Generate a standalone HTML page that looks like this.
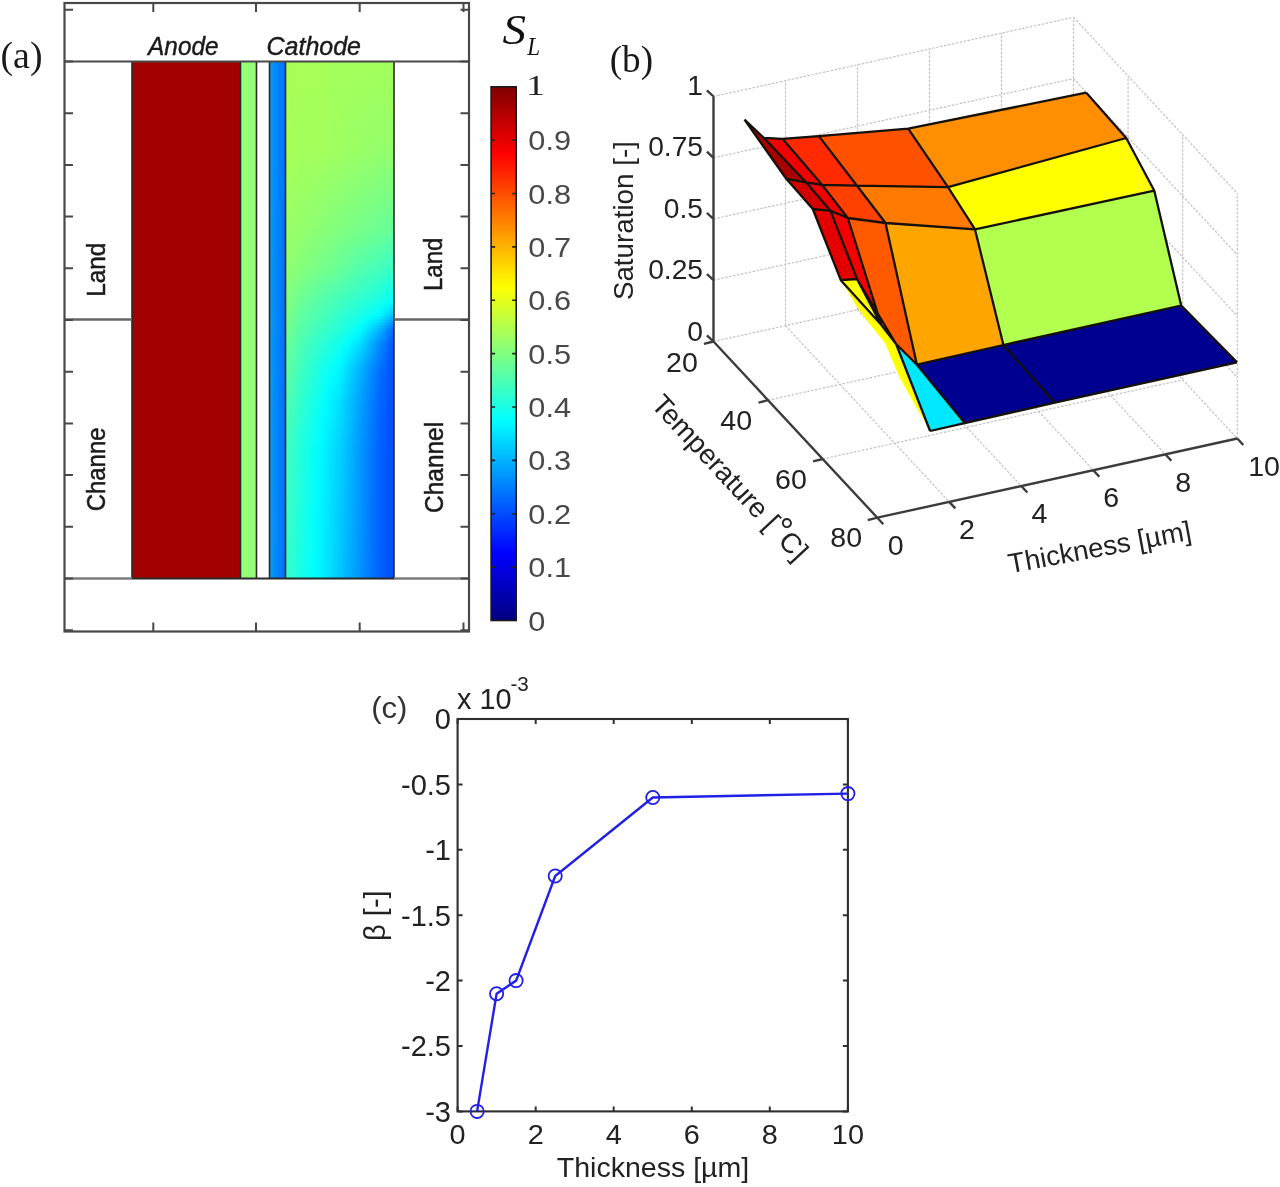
<!DOCTYPE html><html><head><meta charset="utf-8"><title>Figure</title><style>html,body{margin:0;padding:0;background:#fff;}svg{display:block;}</style></head><body><svg width="1280" height="1187" viewBox="0 0 1280 1187"><defs><linearGradient id="gblue" x1="0" x2="1" y1="0" y2="0"><stop offset="0" stop-color="#0a9cf2"/><stop offset="0.6" stop-color="#0080ff"/><stop offset="1" stop-color="#0070ff"/></linearGradient><linearGradient id="r0"><stop offset="0.000" stop-color="#a8ff57"/><stop offset="0.062" stop-color="#a8ff57"/><stop offset="0.125" stop-color="#a8ff57"/><stop offset="0.188" stop-color="#a8ff57"/><stop offset="0.250" stop-color="#a8ff57"/><stop offset="0.312" stop-color="#a8ff57"/><stop offset="0.375" stop-color="#a7ff58"/><stop offset="0.438" stop-color="#a5ff5a"/><stop offset="0.500" stop-color="#a3ff5c"/><stop offset="0.562" stop-color="#a3ff5c"/><stop offset="0.625" stop-color="#a3ff5c"/><stop offset="0.688" stop-color="#a3ff5c"/><stop offset="0.750" stop-color="#a3ff5c"/><stop offset="0.812" stop-color="#a3ff5c"/><stop offset="0.875" stop-color="#a3ff5c"/><stop offset="0.938" stop-color="#a3ff5c"/><stop offset="1.000" stop-color="#a3ff5c"/></linearGradient><linearGradient id="r1"><stop offset="0.000" stop-color="#a8ff57"/><stop offset="0.062" stop-color="#a8ff57"/><stop offset="0.125" stop-color="#a8ff57"/><stop offset="0.188" stop-color="#a8ff57"/><stop offset="0.250" stop-color="#a8ff57"/><stop offset="0.312" stop-color="#a8ff57"/><stop offset="0.375" stop-color="#a6ff59"/><stop offset="0.438" stop-color="#a5ff5a"/><stop offset="0.500" stop-color="#a3ff5c"/><stop offset="0.562" stop-color="#a3ff5c"/><stop offset="0.625" stop-color="#a3ff5c"/><stop offset="0.688" stop-color="#a3ff5c"/><stop offset="0.750" stop-color="#a3ff5c"/><stop offset="0.812" stop-color="#a3ff5c"/><stop offset="0.875" stop-color="#a3ff5c"/><stop offset="0.938" stop-color="#a3ff5c"/><stop offset="1.000" stop-color="#a3ff5c"/></linearGradient><linearGradient id="r2"><stop offset="0.000" stop-color="#a8ff57"/><stop offset="0.062" stop-color="#a8ff57"/><stop offset="0.125" stop-color="#a8ff57"/><stop offset="0.188" stop-color="#a8ff57"/><stop offset="0.250" stop-color="#a8ff57"/><stop offset="0.312" stop-color="#a8ff57"/><stop offset="0.375" stop-color="#a6ff59"/><stop offset="0.438" stop-color="#a5ff5a"/><stop offset="0.500" stop-color="#a3ff5c"/><stop offset="0.562" stop-color="#a3ff5c"/><stop offset="0.625" stop-color="#a3ff5c"/><stop offset="0.688" stop-color="#a2ff5d"/><stop offset="0.750" stop-color="#a2ff5d"/><stop offset="0.812" stop-color="#a2ff5d"/><stop offset="0.875" stop-color="#a2ff5d"/><stop offset="0.938" stop-color="#a2ff5d"/><stop offset="1.000" stop-color="#a2ff5d"/></linearGradient><linearGradient id="r3"><stop offset="0.000" stop-color="#a8ff57"/><stop offset="0.062" stop-color="#a8ff57"/><stop offset="0.125" stop-color="#a8ff57"/><stop offset="0.188" stop-color="#a8ff57"/><stop offset="0.250" stop-color="#a8ff57"/><stop offset="0.312" stop-color="#a8ff57"/><stop offset="0.375" stop-color="#a6ff59"/><stop offset="0.438" stop-color="#a4ff5b"/><stop offset="0.500" stop-color="#a3ff5c"/><stop offset="0.562" stop-color="#a2ff5d"/><stop offset="0.625" stop-color="#a2ff5d"/><stop offset="0.688" stop-color="#a2ff5d"/><stop offset="0.750" stop-color="#a2ff5d"/><stop offset="0.812" stop-color="#a2ff5d"/><stop offset="0.875" stop-color="#a1ff5e"/><stop offset="0.938" stop-color="#a1ff5e"/><stop offset="1.000" stop-color="#a1ff5e"/></linearGradient><linearGradient id="r4"><stop offset="0.000" stop-color="#a8ff57"/><stop offset="0.062" stop-color="#a8ff57"/><stop offset="0.125" stop-color="#a8ff57"/><stop offset="0.188" stop-color="#a8ff57"/><stop offset="0.250" stop-color="#a8ff57"/><stop offset="0.312" stop-color="#a8ff57"/><stop offset="0.375" stop-color="#a6ff59"/><stop offset="0.438" stop-color="#a4ff5b"/><stop offset="0.500" stop-color="#a3ff5c"/><stop offset="0.562" stop-color="#a2ff5d"/><stop offset="0.625" stop-color="#a2ff5d"/><stop offset="0.688" stop-color="#a2ff5d"/><stop offset="0.750" stop-color="#a1ff5e"/><stop offset="0.812" stop-color="#a1ff5e"/><stop offset="0.875" stop-color="#a1ff5e"/><stop offset="0.938" stop-color="#a1ff5e"/><stop offset="1.000" stop-color="#a1ff5e"/></linearGradient><linearGradient id="r5"><stop offset="0.000" stop-color="#a8ff57"/><stop offset="0.062" stop-color="#a8ff57"/><stop offset="0.125" stop-color="#a7ff58"/><stop offset="0.188" stop-color="#a7ff58"/><stop offset="0.250" stop-color="#a7ff58"/><stop offset="0.312" stop-color="#a7ff58"/><stop offset="0.375" stop-color="#a6ff59"/><stop offset="0.438" stop-color="#a4ff5b"/><stop offset="0.500" stop-color="#a2ff5d"/><stop offset="0.562" stop-color="#a2ff5d"/><stop offset="0.625" stop-color="#a2ff5d"/><stop offset="0.688" stop-color="#a1ff5e"/><stop offset="0.750" stop-color="#a1ff5e"/><stop offset="0.812" stop-color="#a1ff5e"/><stop offset="0.875" stop-color="#a0ff5f"/><stop offset="0.938" stop-color="#a0ff5f"/><stop offset="1.000" stop-color="#a0ff5f"/></linearGradient><linearGradient id="r6"><stop offset="0.000" stop-color="#a8ff57"/><stop offset="0.062" stop-color="#a8ff57"/><stop offset="0.125" stop-color="#a7ff58"/><stop offset="0.188" stop-color="#a7ff58"/><stop offset="0.250" stop-color="#a7ff58"/><stop offset="0.312" stop-color="#a7ff58"/><stop offset="0.375" stop-color="#a6ff59"/><stop offset="0.438" stop-color="#a4ff5b"/><stop offset="0.500" stop-color="#a2ff5d"/><stop offset="0.562" stop-color="#a2ff5d"/><stop offset="0.625" stop-color="#a1ff5e"/><stop offset="0.688" stop-color="#a1ff5e"/><stop offset="0.750" stop-color="#a1ff5e"/><stop offset="0.812" stop-color="#a0ff5f"/><stop offset="0.875" stop-color="#a0ff5f"/><stop offset="0.938" stop-color="#a0ff5f"/><stop offset="1.000" stop-color="#a0ff5f"/></linearGradient><linearGradient id="r7"><stop offset="0.000" stop-color="#a8ff57"/><stop offset="0.062" stop-color="#a8ff57"/><stop offset="0.125" stop-color="#a7ff58"/><stop offset="0.188" stop-color="#a7ff58"/><stop offset="0.250" stop-color="#a7ff58"/><stop offset="0.312" stop-color="#a7ff58"/><stop offset="0.375" stop-color="#a5ff5a"/><stop offset="0.438" stop-color="#a4ff5b"/><stop offset="0.500" stop-color="#a2ff5d"/><stop offset="0.562" stop-color="#a2ff5d"/><stop offset="0.625" stop-color="#a1ff5e"/><stop offset="0.688" stop-color="#a1ff5e"/><stop offset="0.750" stop-color="#a0ff5f"/><stop offset="0.812" stop-color="#a0ff5f"/><stop offset="0.875" stop-color="#9fff60"/><stop offset="0.938" stop-color="#9fff60"/><stop offset="1.000" stop-color="#9fff60"/></linearGradient><linearGradient id="r8"><stop offset="0.000" stop-color="#a8ff57"/><stop offset="0.062" stop-color="#a8ff57"/><stop offset="0.125" stop-color="#a7ff58"/><stop offset="0.188" stop-color="#a7ff58"/><stop offset="0.250" stop-color="#a7ff58"/><stop offset="0.312" stop-color="#a7ff58"/><stop offset="0.375" stop-color="#a5ff5a"/><stop offset="0.438" stop-color="#a4ff5b"/><stop offset="0.500" stop-color="#a2ff5d"/><stop offset="0.562" stop-color="#a1ff5e"/><stop offset="0.625" stop-color="#a1ff5e"/><stop offset="0.688" stop-color="#a0ff5f"/><stop offset="0.750" stop-color="#a0ff5f"/><stop offset="0.812" stop-color="#9fff60"/><stop offset="0.875" stop-color="#9fff60"/><stop offset="0.938" stop-color="#9fff60"/><stop offset="1.000" stop-color="#9fff60"/></linearGradient><linearGradient id="r9"><stop offset="0.000" stop-color="#a8ff57"/><stop offset="0.062" stop-color="#a8ff57"/><stop offset="0.125" stop-color="#a7ff58"/><stop offset="0.188" stop-color="#a7ff58"/><stop offset="0.250" stop-color="#a7ff58"/><stop offset="0.312" stop-color="#a7ff58"/><stop offset="0.375" stop-color="#a5ff5a"/><stop offset="0.438" stop-color="#a3ff5c"/><stop offset="0.500" stop-color="#a2ff5d"/><stop offset="0.562" stop-color="#a1ff5e"/><stop offset="0.625" stop-color="#a0ff5f"/><stop offset="0.688" stop-color="#a0ff5f"/><stop offset="0.750" stop-color="#9fff60"/><stop offset="0.812" stop-color="#9fff60"/><stop offset="0.875" stop-color="#9eff61"/><stop offset="0.938" stop-color="#9eff61"/><stop offset="1.000" stop-color="#9eff61"/></linearGradient><linearGradient id="r10"><stop offset="0.000" stop-color="#a8ff57"/><stop offset="0.062" stop-color="#a7ff58"/><stop offset="0.125" stop-color="#a7ff58"/><stop offset="0.188" stop-color="#a7ff58"/><stop offset="0.250" stop-color="#a7ff58"/><stop offset="0.312" stop-color="#a7ff58"/><stop offset="0.375" stop-color="#a5ff5a"/><stop offset="0.438" stop-color="#a3ff5c"/><stop offset="0.500" stop-color="#a1ff5e"/><stop offset="0.562" stop-color="#a1ff5e"/><stop offset="0.625" stop-color="#a0ff5f"/><stop offset="0.688" stop-color="#a0ff5f"/><stop offset="0.750" stop-color="#9fff60"/><stop offset="0.812" stop-color="#9eff61"/><stop offset="0.875" stop-color="#9eff61"/><stop offset="0.938" stop-color="#9eff61"/><stop offset="1.000" stop-color="#9eff61"/></linearGradient><linearGradient id="r11"><stop offset="0.000" stop-color="#a8ff57"/><stop offset="0.062" stop-color="#a7ff58"/><stop offset="0.125" stop-color="#a6ff59"/><stop offset="0.188" stop-color="#a6ff59"/><stop offset="0.250" stop-color="#a6ff59"/><stop offset="0.312" stop-color="#a6ff59"/><stop offset="0.375" stop-color="#a5ff5a"/><stop offset="0.438" stop-color="#a3ff5c"/><stop offset="0.500" stop-color="#a1ff5e"/><stop offset="0.562" stop-color="#a1ff5e"/><stop offset="0.625" stop-color="#a0ff5f"/><stop offset="0.688" stop-color="#9fff60"/><stop offset="0.750" stop-color="#9fff60"/><stop offset="0.812" stop-color="#9eff61"/><stop offset="0.875" stop-color="#9dff62"/><stop offset="0.938" stop-color="#9dff62"/><stop offset="1.000" stop-color="#9dff62"/></linearGradient><linearGradient id="r12"><stop offset="0.000" stop-color="#a8ff57"/><stop offset="0.062" stop-color="#a7ff58"/><stop offset="0.125" stop-color="#a6ff59"/><stop offset="0.188" stop-color="#a6ff59"/><stop offset="0.250" stop-color="#a6ff59"/><stop offset="0.312" stop-color="#a6ff59"/><stop offset="0.375" stop-color="#a5ff5a"/><stop offset="0.438" stop-color="#a3ff5c"/><stop offset="0.500" stop-color="#a1ff5e"/><stop offset="0.562" stop-color="#a0ff5f"/><stop offset="0.625" stop-color="#a0ff5f"/><stop offset="0.688" stop-color="#9fff60"/><stop offset="0.750" stop-color="#9eff61"/><stop offset="0.812" stop-color="#9dff62"/><stop offset="0.875" stop-color="#9dff62"/><stop offset="0.938" stop-color="#9dff62"/><stop offset="1.000" stop-color="#9dff62"/></linearGradient><linearGradient id="r13"><stop offset="0.000" stop-color="#a8ff57"/><stop offset="0.062" stop-color="#a7ff58"/><stop offset="0.125" stop-color="#a6ff59"/><stop offset="0.188" stop-color="#a6ff59"/><stop offset="0.250" stop-color="#a6ff59"/><stop offset="0.312" stop-color="#a6ff59"/><stop offset="0.375" stop-color="#a4ff5b"/><stop offset="0.438" stop-color="#a3ff5c"/><stop offset="0.500" stop-color="#a1ff5e"/><stop offset="0.562" stop-color="#a0ff5f"/><stop offset="0.625" stop-color="#9fff60"/><stop offset="0.688" stop-color="#9fff60"/><stop offset="0.750" stop-color="#9eff61"/><stop offset="0.812" stop-color="#9dff62"/><stop offset="0.875" stop-color="#9cff63"/><stop offset="0.938" stop-color="#9cff63"/><stop offset="1.000" stop-color="#9cff63"/></linearGradient><linearGradient id="r14"><stop offset="0.000" stop-color="#a8ff57"/><stop offset="0.062" stop-color="#a7ff58"/><stop offset="0.125" stop-color="#a6ff59"/><stop offset="0.188" stop-color="#a6ff59"/><stop offset="0.250" stop-color="#a6ff59"/><stop offset="0.312" stop-color="#a6ff59"/><stop offset="0.375" stop-color="#a4ff5b"/><stop offset="0.438" stop-color="#a3ff5c"/><stop offset="0.500" stop-color="#a1ff5e"/><stop offset="0.562" stop-color="#a0ff5f"/><stop offset="0.625" stop-color="#9fff60"/><stop offset="0.688" stop-color="#9eff61"/><stop offset="0.750" stop-color="#9dff62"/><stop offset="0.812" stop-color="#9dff62"/><stop offset="0.875" stop-color="#9cff63"/><stop offset="0.938" stop-color="#9cff63"/><stop offset="1.000" stop-color="#9cff63"/></linearGradient><linearGradient id="r15"><stop offset="0.000" stop-color="#a8ff57"/><stop offset="0.062" stop-color="#a7ff58"/><stop offset="0.125" stop-color="#a6ff59"/><stop offset="0.188" stop-color="#a6ff59"/><stop offset="0.250" stop-color="#a6ff59"/><stop offset="0.312" stop-color="#a6ff59"/><stop offset="0.375" stop-color="#a4ff5b"/><stop offset="0.438" stop-color="#a2ff5d"/><stop offset="0.500" stop-color="#a1ff5e"/><stop offset="0.562" stop-color="#a0ff5f"/><stop offset="0.625" stop-color="#9fff60"/><stop offset="0.688" stop-color="#9eff61"/><stop offset="0.750" stop-color="#9dff62"/><stop offset="0.812" stop-color="#9cff63"/><stop offset="0.875" stop-color="#9bff64"/><stop offset="0.938" stop-color="#9bff64"/><stop offset="1.000" stop-color="#9bff64"/></linearGradient><linearGradient id="r16"><stop offset="0.000" stop-color="#a8ff57"/><stop offset="0.062" stop-color="#a7ff58"/><stop offset="0.125" stop-color="#a6ff59"/><stop offset="0.188" stop-color="#a5ff5a"/><stop offset="0.250" stop-color="#a5ff5a"/><stop offset="0.312" stop-color="#a5ff5a"/><stop offset="0.375" stop-color="#a4ff5b"/><stop offset="0.438" stop-color="#a2ff5d"/><stop offset="0.500" stop-color="#a0ff5f"/><stop offset="0.562" stop-color="#9fff60"/><stop offset="0.625" stop-color="#9eff61"/><stop offset="0.688" stop-color="#9eff61"/><stop offset="0.750" stop-color="#9dff62"/><stop offset="0.812" stop-color="#9cff63"/><stop offset="0.875" stop-color="#9bff64"/><stop offset="0.938" stop-color="#9bff64"/><stop offset="1.000" stop-color="#9bff64"/></linearGradient><linearGradient id="r17"><stop offset="0.000" stop-color="#a8ff57"/><stop offset="0.062" stop-color="#a7ff58"/><stop offset="0.125" stop-color="#a5ff5a"/><stop offset="0.188" stop-color="#a5ff5a"/><stop offset="0.250" stop-color="#a5ff5a"/><stop offset="0.312" stop-color="#a5ff5a"/><stop offset="0.375" stop-color="#a4ff5b"/><stop offset="0.438" stop-color="#a2ff5d"/><stop offset="0.500" stop-color="#a0ff5f"/><stop offset="0.562" stop-color="#9fff60"/><stop offset="0.625" stop-color="#9eff61"/><stop offset="0.688" stop-color="#9dff62"/><stop offset="0.750" stop-color="#9cff63"/><stop offset="0.812" stop-color="#9bff64"/><stop offset="0.875" stop-color="#9aff65"/><stop offset="0.938" stop-color="#9aff65"/><stop offset="1.000" stop-color="#9aff65"/></linearGradient><linearGradient id="r18"><stop offset="0.000" stop-color="#a8ff57"/><stop offset="0.062" stop-color="#a7ff58"/><stop offset="0.125" stop-color="#a5ff5a"/><stop offset="0.188" stop-color="#a5ff5a"/><stop offset="0.250" stop-color="#a5ff5a"/><stop offset="0.312" stop-color="#a5ff5a"/><stop offset="0.375" stop-color="#a4ff5b"/><stop offset="0.438" stop-color="#a2ff5d"/><stop offset="0.500" stop-color="#a0ff5f"/><stop offset="0.562" stop-color="#9fff60"/><stop offset="0.625" stop-color="#9eff61"/><stop offset="0.688" stop-color="#9dff62"/><stop offset="0.750" stop-color="#9cff63"/><stop offset="0.812" stop-color="#9bff64"/><stop offset="0.875" stop-color="#9aff65"/><stop offset="0.938" stop-color="#9aff65"/><stop offset="1.000" stop-color="#9aff65"/></linearGradient><linearGradient id="r19"><stop offset="0.000" stop-color="#a8ff57"/><stop offset="0.062" stop-color="#a7ff58"/><stop offset="0.125" stop-color="#a5ff5a"/><stop offset="0.188" stop-color="#a5ff5a"/><stop offset="0.250" stop-color="#a5ff5a"/><stop offset="0.312" stop-color="#a5ff5a"/><stop offset="0.375" stop-color="#a3ff5c"/><stop offset="0.438" stop-color="#a2ff5d"/><stop offset="0.500" stop-color="#a0ff5f"/><stop offset="0.562" stop-color="#9fff60"/><stop offset="0.625" stop-color="#9eff61"/><stop offset="0.688" stop-color="#9cff63"/><stop offset="0.750" stop-color="#9bff64"/><stop offset="0.812" stop-color="#9aff65"/><stop offset="0.875" stop-color="#99ff66"/><stop offset="0.938" stop-color="#99ff66"/><stop offset="1.000" stop-color="#99ff66"/></linearGradient><linearGradient id="r20"><stop offset="0.000" stop-color="#a8ff57"/><stop offset="0.062" stop-color="#a7ff58"/><stop offset="0.125" stop-color="#a5ff5a"/><stop offset="0.188" stop-color="#a5ff5a"/><stop offset="0.250" stop-color="#a5ff5a"/><stop offset="0.312" stop-color="#a5ff5a"/><stop offset="0.375" stop-color="#a3ff5c"/><stop offset="0.438" stop-color="#a1ff5e"/><stop offset="0.500" stop-color="#a0ff5f"/><stop offset="0.562" stop-color="#9fff60"/><stop offset="0.625" stop-color="#9dff62"/><stop offset="0.688" stop-color="#9cff63"/><stop offset="0.750" stop-color="#9bff64"/><stop offset="0.812" stop-color="#9aff65"/><stop offset="0.875" stop-color="#99ff66"/><stop offset="0.938" stop-color="#99ff66"/><stop offset="1.000" stop-color="#99ff66"/></linearGradient><linearGradient id="r21"><stop offset="0.000" stop-color="#a8ff57"/><stop offset="0.062" stop-color="#a7ff58"/><stop offset="0.125" stop-color="#a5ff5a"/><stop offset="0.188" stop-color="#a5ff5a"/><stop offset="0.250" stop-color="#a5ff5a"/><stop offset="0.312" stop-color="#a5ff5a"/><stop offset="0.375" stop-color="#a3ff5c"/><stop offset="0.438" stop-color="#a1ff5e"/><stop offset="0.500" stop-color="#a0ff5f"/><stop offset="0.562" stop-color="#9eff61"/><stop offset="0.625" stop-color="#9dff62"/><stop offset="0.688" stop-color="#9cff63"/><stop offset="0.750" stop-color="#9bff64"/><stop offset="0.812" stop-color="#99ff66"/><stop offset="0.875" stop-color="#98ff67"/><stop offset="0.938" stop-color="#98ff67"/><stop offset="1.000" stop-color="#98ff67"/></linearGradient><linearGradient id="r22"><stop offset="0.000" stop-color="#a8ff57"/><stop offset="0.062" stop-color="#a7ff58"/><stop offset="0.125" stop-color="#a5ff5a"/><stop offset="0.188" stop-color="#a4ff5b"/><stop offset="0.250" stop-color="#a4ff5b"/><stop offset="0.312" stop-color="#a4ff5b"/><stop offset="0.375" stop-color="#a3ff5c"/><stop offset="0.438" stop-color="#a1ff5e"/><stop offset="0.500" stop-color="#9fff60"/><stop offset="0.562" stop-color="#9eff61"/><stop offset="0.625" stop-color="#9dff62"/><stop offset="0.688" stop-color="#9bff64"/><stop offset="0.750" stop-color="#9aff65"/><stop offset="0.812" stop-color="#99ff66"/><stop offset="0.875" stop-color="#98ff67"/><stop offset="0.938" stop-color="#98ff67"/><stop offset="1.000" stop-color="#98ff67"/></linearGradient><linearGradient id="r23"><stop offset="0.000" stop-color="#a8ff57"/><stop offset="0.062" stop-color="#a6ff59"/><stop offset="0.125" stop-color="#a5ff5a"/><stop offset="0.188" stop-color="#a4ff5b"/><stop offset="0.250" stop-color="#a4ff5b"/><stop offset="0.312" stop-color="#a4ff5b"/><stop offset="0.375" stop-color="#a3ff5c"/><stop offset="0.438" stop-color="#a1ff5e"/><stop offset="0.500" stop-color="#9fff60"/><stop offset="0.562" stop-color="#9eff61"/><stop offset="0.625" stop-color="#9cff63"/><stop offset="0.688" stop-color="#9bff64"/><stop offset="0.750" stop-color="#9aff65"/><stop offset="0.812" stop-color="#98ff67"/><stop offset="0.875" stop-color="#97ff68"/><stop offset="0.938" stop-color="#97ff68"/><stop offset="1.000" stop-color="#97ff68"/></linearGradient><linearGradient id="r24"><stop offset="0.000" stop-color="#a8ff57"/><stop offset="0.062" stop-color="#a6ff59"/><stop offset="0.125" stop-color="#a4ff5b"/><stop offset="0.188" stop-color="#a4ff5b"/><stop offset="0.250" stop-color="#a4ff5b"/><stop offset="0.312" stop-color="#a4ff5b"/><stop offset="0.375" stop-color="#a2ff5d"/><stop offset="0.438" stop-color="#a1ff5e"/><stop offset="0.500" stop-color="#9fff60"/><stop offset="0.562" stop-color="#9eff61"/><stop offset="0.625" stop-color="#9cff63"/><stop offset="0.688" stop-color="#9bff64"/><stop offset="0.750" stop-color="#99ff66"/><stop offset="0.812" stop-color="#98ff67"/><stop offset="0.875" stop-color="#97ff68"/><stop offset="0.938" stop-color="#97ff68"/><stop offset="1.000" stop-color="#97ff68"/></linearGradient><linearGradient id="r25"><stop offset="0.000" stop-color="#a8ff57"/><stop offset="0.062" stop-color="#a6ff59"/><stop offset="0.125" stop-color="#a4ff5b"/><stop offset="0.188" stop-color="#a4ff5b"/><stop offset="0.250" stop-color="#a4ff5b"/><stop offset="0.312" stop-color="#a4ff5b"/><stop offset="0.375" stop-color="#a2ff5d"/><stop offset="0.438" stop-color="#a1ff5e"/><stop offset="0.500" stop-color="#9fff60"/><stop offset="0.562" stop-color="#9dff62"/><stop offset="0.625" stop-color="#9cff63"/><stop offset="0.688" stop-color="#9aff65"/><stop offset="0.750" stop-color="#99ff66"/><stop offset="0.812" stop-color="#97ff68"/><stop offset="0.875" stop-color="#96ff69"/><stop offset="0.938" stop-color="#96ff69"/><stop offset="1.000" stop-color="#96ff69"/></linearGradient><linearGradient id="r26"><stop offset="0.000" stop-color="#a8ff57"/><stop offset="0.062" stop-color="#a6ff59"/><stop offset="0.125" stop-color="#a4ff5b"/><stop offset="0.188" stop-color="#a4ff5b"/><stop offset="0.250" stop-color="#a4ff5b"/><stop offset="0.312" stop-color="#a4ff5b"/><stop offset="0.375" stop-color="#a2ff5d"/><stop offset="0.438" stop-color="#a0ff5f"/><stop offset="0.500" stop-color="#9fff60"/><stop offset="0.562" stop-color="#9dff62"/><stop offset="0.625" stop-color="#9cff63"/><stop offset="0.688" stop-color="#9aff65"/><stop offset="0.750" stop-color="#98ff67"/><stop offset="0.812" stop-color="#97ff68"/><stop offset="0.875" stop-color="#95ff6a"/><stop offset="0.938" stop-color="#95ff6a"/><stop offset="1.000" stop-color="#95ff6a"/></linearGradient><linearGradient id="r27"><stop offset="0.000" stop-color="#a8ff57"/><stop offset="0.062" stop-color="#a6ff59"/><stop offset="0.125" stop-color="#a4ff5b"/><stop offset="0.188" stop-color="#a4ff5b"/><stop offset="0.250" stop-color="#a4ff5b"/><stop offset="0.312" stop-color="#a4ff5b"/><stop offset="0.375" stop-color="#a2ff5d"/><stop offset="0.438" stop-color="#a0ff5f"/><stop offset="0.500" stop-color="#9fff60"/><stop offset="0.562" stop-color="#9dff62"/><stop offset="0.625" stop-color="#9bff64"/><stop offset="0.688" stop-color="#9aff65"/><stop offset="0.750" stop-color="#98ff67"/><stop offset="0.812" stop-color="#96ff69"/><stop offset="0.875" stop-color="#95ff6a"/><stop offset="0.938" stop-color="#95ff6a"/><stop offset="1.000" stop-color="#95ff6a"/></linearGradient><linearGradient id="r28"><stop offset="0.000" stop-color="#a8ff57"/><stop offset="0.062" stop-color="#a6ff59"/><stop offset="0.125" stop-color="#a4ff5b"/><stop offset="0.188" stop-color="#a3ff5c"/><stop offset="0.250" stop-color="#a3ff5c"/><stop offset="0.312" stop-color="#a3ff5c"/><stop offset="0.375" stop-color="#a2ff5d"/><stop offset="0.438" stop-color="#a0ff5f"/><stop offset="0.500" stop-color="#9eff61"/><stop offset="0.562" stop-color="#9dff62"/><stop offset="0.625" stop-color="#9bff64"/><stop offset="0.688" stop-color="#99ff66"/><stop offset="0.750" stop-color="#98ff67"/><stop offset="0.812" stop-color="#96ff69"/><stop offset="0.875" stop-color="#94ff6b"/><stop offset="0.938" stop-color="#94ff6b"/><stop offset="1.000" stop-color="#94ff6b"/></linearGradient><linearGradient id="r29"><stop offset="0.000" stop-color="#a8ff57"/><stop offset="0.062" stop-color="#a6ff59"/><stop offset="0.125" stop-color="#a4ff5b"/><stop offset="0.188" stop-color="#a3ff5c"/><stop offset="0.250" stop-color="#a3ff5c"/><stop offset="0.312" stop-color="#a3ff5c"/><stop offset="0.375" stop-color="#a2ff5d"/><stop offset="0.438" stop-color="#a0ff5f"/><stop offset="0.500" stop-color="#9eff61"/><stop offset="0.562" stop-color="#9cff63"/><stop offset="0.625" stop-color="#9bff64"/><stop offset="0.688" stop-color="#99ff66"/><stop offset="0.750" stop-color="#97ff68"/><stop offset="0.812" stop-color="#96ff69"/><stop offset="0.875" stop-color="#94ff6b"/><stop offset="0.938" stop-color="#94ff6b"/><stop offset="1.000" stop-color="#94ff6b"/></linearGradient><linearGradient id="r30"><stop offset="0.000" stop-color="#a8ff57"/><stop offset="0.062" stop-color="#a5ff5a"/><stop offset="0.125" stop-color="#a3ff5c"/><stop offset="0.188" stop-color="#a3ff5c"/><stop offset="0.250" stop-color="#a2ff5d"/><stop offset="0.312" stop-color="#a2ff5d"/><stop offset="0.375" stop-color="#a1ff5e"/><stop offset="0.438" stop-color="#9fff60"/><stop offset="0.500" stop-color="#9dff62"/><stop offset="0.562" stop-color="#9bff64"/><stop offset="0.625" stop-color="#99ff66"/><stop offset="0.688" stop-color="#98ff67"/><stop offset="0.750" stop-color="#96ff69"/><stop offset="0.812" stop-color="#94ff6b"/><stop offset="0.875" stop-color="#92ff6d"/><stop offset="0.938" stop-color="#92ff6d"/><stop offset="1.000" stop-color="#92ff6d"/></linearGradient><linearGradient id="r31"><stop offset="0.000" stop-color="#a7ff58"/><stop offset="0.062" stop-color="#a5ff5a"/><stop offset="0.125" stop-color="#a2ff5d"/><stop offset="0.188" stop-color="#a2ff5d"/><stop offset="0.250" stop-color="#a2ff5d"/><stop offset="0.312" stop-color="#a1ff5e"/><stop offset="0.375" stop-color="#a0ff5f"/><stop offset="0.438" stop-color="#9eff61"/><stop offset="0.500" stop-color="#9cff63"/><stop offset="0.562" stop-color="#9aff65"/><stop offset="0.625" stop-color="#98ff67"/><stop offset="0.688" stop-color="#96ff69"/><stop offset="0.750" stop-color="#94ff6b"/><stop offset="0.812" stop-color="#93ff6c"/><stop offset="0.875" stop-color="#91ff6e"/><stop offset="0.938" stop-color="#91ff6e"/><stop offset="1.000" stop-color="#90ff6f"/></linearGradient><linearGradient id="r32"><stop offset="0.000" stop-color="#a7ff58"/><stop offset="0.062" stop-color="#a4ff5b"/><stop offset="0.125" stop-color="#a2ff5d"/><stop offset="0.188" stop-color="#a1ff5e"/><stop offset="0.250" stop-color="#a1ff5e"/><stop offset="0.312" stop-color="#a0ff5f"/><stop offset="0.375" stop-color="#9fff60"/><stop offset="0.438" stop-color="#9dff62"/><stop offset="0.500" stop-color="#9bff64"/><stop offset="0.562" stop-color="#99ff66"/><stop offset="0.625" stop-color="#97ff68"/><stop offset="0.688" stop-color="#95ff6a"/><stop offset="0.750" stop-color="#93ff6c"/><stop offset="0.812" stop-color="#91ff6e"/><stop offset="0.875" stop-color="#8fff70"/><stop offset="0.938" stop-color="#8fff70"/><stop offset="1.000" stop-color="#8fff70"/></linearGradient><linearGradient id="r33"><stop offset="0.000" stop-color="#a6ff59"/><stop offset="0.062" stop-color="#a4ff5b"/><stop offset="0.125" stop-color="#a1ff5e"/><stop offset="0.188" stop-color="#a0ff5f"/><stop offset="0.250" stop-color="#a0ff5f"/><stop offset="0.312" stop-color="#9fff60"/><stop offset="0.375" stop-color="#9eff61"/><stop offset="0.438" stop-color="#9cff63"/><stop offset="0.500" stop-color="#9aff65"/><stop offset="0.562" stop-color="#98ff67"/><stop offset="0.625" stop-color="#96ff69"/><stop offset="0.688" stop-color="#94ff6b"/><stop offset="0.750" stop-color="#92ff6d"/><stop offset="0.812" stop-color="#90ff6f"/><stop offset="0.875" stop-color="#8eff71"/><stop offset="0.938" stop-color="#8dff72"/><stop offset="1.000" stop-color="#8dff72"/></linearGradient><linearGradient id="r34"><stop offset="0.000" stop-color="#a5ff5a"/><stop offset="0.062" stop-color="#a3ff5c"/><stop offset="0.125" stop-color="#a1ff5e"/><stop offset="0.188" stop-color="#a0ff5f"/><stop offset="0.250" stop-color="#9fff60"/><stop offset="0.312" stop-color="#9eff61"/><stop offset="0.375" stop-color="#9dff62"/><stop offset="0.438" stop-color="#9aff65"/><stop offset="0.500" stop-color="#98ff67"/><stop offset="0.562" stop-color="#96ff69"/><stop offset="0.625" stop-color="#94ff6b"/><stop offset="0.688" stop-color="#92ff6d"/><stop offset="0.750" stop-color="#90ff6f"/><stop offset="0.812" stop-color="#8eff71"/><stop offset="0.875" stop-color="#8cff73"/><stop offset="0.938" stop-color="#8cff73"/><stop offset="1.000" stop-color="#8bff74"/></linearGradient><linearGradient id="r35"><stop offset="0.000" stop-color="#a5ff5a"/><stop offset="0.062" stop-color="#a3ff5c"/><stop offset="0.125" stop-color="#a0ff5f"/><stop offset="0.188" stop-color="#9fff60"/><stop offset="0.250" stop-color="#9eff61"/><stop offset="0.312" stop-color="#9eff61"/><stop offset="0.375" stop-color="#9cff63"/><stop offset="0.438" stop-color="#99ff66"/><stop offset="0.500" stop-color="#97ff68"/><stop offset="0.562" stop-color="#95ff6a"/><stop offset="0.625" stop-color="#93ff6c"/><stop offset="0.688" stop-color="#91ff6e"/><stop offset="0.750" stop-color="#8fff70"/><stop offset="0.812" stop-color="#8dff72"/><stop offset="0.875" stop-color="#8bff74"/><stop offset="0.938" stop-color="#8aff75"/><stop offset="1.000" stop-color="#8aff75"/></linearGradient><linearGradient id="r36"><stop offset="0.000" stop-color="#a4ff5b"/><stop offset="0.062" stop-color="#a2ff5d"/><stop offset="0.125" stop-color="#a0ff5f"/><stop offset="0.188" stop-color="#9eff61"/><stop offset="0.250" stop-color="#9dff62"/><stop offset="0.312" stop-color="#9dff62"/><stop offset="0.375" stop-color="#9bff64"/><stop offset="0.438" stop-color="#98ff67"/><stop offset="0.500" stop-color="#96ff69"/><stop offset="0.562" stop-color="#94ff6b"/><stop offset="0.625" stop-color="#92ff6d"/><stop offset="0.688" stop-color="#90ff6f"/><stop offset="0.750" stop-color="#8dff72"/><stop offset="0.812" stop-color="#8bff74"/><stop offset="0.875" stop-color="#89ff76"/><stop offset="0.938" stop-color="#88ff77"/><stop offset="1.000" stop-color="#88ff77"/></linearGradient><linearGradient id="r37"><stop offset="0.000" stop-color="#a4ff5b"/><stop offset="0.062" stop-color="#a1ff5e"/><stop offset="0.125" stop-color="#9fff60"/><stop offset="0.188" stop-color="#9eff61"/><stop offset="0.250" stop-color="#9dff62"/><stop offset="0.312" stop-color="#9cff63"/><stop offset="0.375" stop-color="#99ff66"/><stop offset="0.438" stop-color="#97ff68"/><stop offset="0.500" stop-color="#95ff6a"/><stop offset="0.562" stop-color="#93ff6c"/><stop offset="0.625" stop-color="#91ff6e"/><stop offset="0.688" stop-color="#8eff71"/><stop offset="0.750" stop-color="#8cff73"/><stop offset="0.812" stop-color="#8aff75"/><stop offset="0.875" stop-color="#88ff77"/><stop offset="0.938" stop-color="#87ff78"/><stop offset="1.000" stop-color="#86ff79"/></linearGradient><linearGradient id="r38"><stop offset="0.000" stop-color="#a3ff5c"/><stop offset="0.062" stop-color="#a1ff5e"/><stop offset="0.125" stop-color="#9eff61"/><stop offset="0.188" stop-color="#9dff62"/><stop offset="0.250" stop-color="#9cff63"/><stop offset="0.312" stop-color="#9bff64"/><stop offset="0.375" stop-color="#98ff67"/><stop offset="0.438" stop-color="#96ff69"/><stop offset="0.500" stop-color="#94ff6b"/><stop offset="0.562" stop-color="#92ff6d"/><stop offset="0.625" stop-color="#8fff70"/><stop offset="0.688" stop-color="#8dff72"/><stop offset="0.750" stop-color="#8bff74"/><stop offset="0.812" stop-color="#88ff77"/><stop offset="0.875" stop-color="#86ff79"/><stop offset="0.938" stop-color="#85ff7a"/><stop offset="1.000" stop-color="#84ff7b"/></linearGradient><linearGradient id="r39"><stop offset="0.000" stop-color="#a3ff5c"/><stop offset="0.062" stop-color="#a0ff5f"/><stop offset="0.125" stop-color="#9eff61"/><stop offset="0.188" stop-color="#9cff63"/><stop offset="0.250" stop-color="#9bff64"/><stop offset="0.312" stop-color="#9aff65"/><stop offset="0.375" stop-color="#97ff68"/><stop offset="0.438" stop-color="#95ff6a"/><stop offset="0.500" stop-color="#93ff6c"/><stop offset="0.562" stop-color="#90ff6f"/><stop offset="0.625" stop-color="#8eff71"/><stop offset="0.688" stop-color="#8cff73"/><stop offset="0.750" stop-color="#89ff76"/><stop offset="0.812" stop-color="#87ff78"/><stop offset="0.875" stop-color="#85ff7a"/><stop offset="0.938" stop-color="#84ff7b"/><stop offset="1.000" stop-color="#83ff7c"/></linearGradient><linearGradient id="r40"><stop offset="0.000" stop-color="#a2ff5d"/><stop offset="0.062" stop-color="#a0ff5f"/><stop offset="0.125" stop-color="#9dff62"/><stop offset="0.188" stop-color="#9cff63"/><stop offset="0.250" stop-color="#9aff65"/><stop offset="0.312" stop-color="#99ff66"/><stop offset="0.375" stop-color="#96ff69"/><stop offset="0.438" stop-color="#94ff6b"/><stop offset="0.500" stop-color="#92ff6d"/><stop offset="0.562" stop-color="#8fff70"/><stop offset="0.625" stop-color="#8dff72"/><stop offset="0.688" stop-color="#8aff75"/><stop offset="0.750" stop-color="#88ff77"/><stop offset="0.812" stop-color="#85ff7a"/><stop offset="0.875" stop-color="#83ff7c"/><stop offset="0.938" stop-color="#82ff7d"/><stop offset="1.000" stop-color="#81ff7e"/></linearGradient><linearGradient id="r41"><stop offset="0.000" stop-color="#a1ff5e"/><stop offset="0.062" stop-color="#9fff60"/><stop offset="0.125" stop-color="#9dff62"/><stop offset="0.188" stop-color="#9bff64"/><stop offset="0.250" stop-color="#99ff66"/><stop offset="0.312" stop-color="#98ff67"/><stop offset="0.375" stop-color="#95ff6a"/><stop offset="0.438" stop-color="#93ff6c"/><stop offset="0.500" stop-color="#90ff6f"/><stop offset="0.562" stop-color="#8eff71"/><stop offset="0.625" stop-color="#8bff74"/><stop offset="0.688" stop-color="#89ff76"/><stop offset="0.750" stop-color="#86ff79"/><stop offset="0.812" stop-color="#84ff7b"/><stop offset="0.875" stop-color="#81ff7e"/><stop offset="0.938" stop-color="#80ff7f"/><stop offset="1.000" stop-color="#7fff80"/></linearGradient><linearGradient id="r42"><stop offset="0.000" stop-color="#a1ff5e"/><stop offset="0.062" stop-color="#9fff60"/><stop offset="0.125" stop-color="#9cff63"/><stop offset="0.188" stop-color="#9aff65"/><stop offset="0.250" stop-color="#99ff66"/><stop offset="0.312" stop-color="#97ff68"/><stop offset="0.375" stop-color="#94ff6b"/><stop offset="0.438" stop-color="#92ff6d"/><stop offset="0.500" stop-color="#8fff70"/><stop offset="0.562" stop-color="#8dff72"/><stop offset="0.625" stop-color="#8aff75"/><stop offset="0.688" stop-color="#88ff77"/><stop offset="0.750" stop-color="#85ff7a"/><stop offset="0.812" stop-color="#82ff7d"/><stop offset="0.875" stop-color="#80ff7f"/><stop offset="0.938" stop-color="#7fff80"/><stop offset="1.000" stop-color="#7eff81"/></linearGradient><linearGradient id="r43"><stop offset="0.000" stop-color="#a0ff5f"/><stop offset="0.062" stop-color="#9eff61"/><stop offset="0.125" stop-color="#9cff63"/><stop offset="0.188" stop-color="#9aff65"/><stop offset="0.250" stop-color="#98ff67"/><stop offset="0.312" stop-color="#96ff69"/><stop offset="0.375" stop-color="#93ff6c"/><stop offset="0.438" stop-color="#91ff6e"/><stop offset="0.500" stop-color="#8eff71"/><stop offset="0.562" stop-color="#8bff74"/><stop offset="0.625" stop-color="#89ff76"/><stop offset="0.688" stop-color="#86ff79"/><stop offset="0.750" stop-color="#84ff7b"/><stop offset="0.812" stop-color="#81ff7e"/><stop offset="0.875" stop-color="#7eff81"/><stop offset="0.938" stop-color="#7dff82"/><stop offset="1.000" stop-color="#7cff83"/></linearGradient><linearGradient id="r44"><stop offset="0.000" stop-color="#a0ff5f"/><stop offset="0.062" stop-color="#9dff62"/><stop offset="0.125" stop-color="#9bff64"/><stop offset="0.188" stop-color="#99ff66"/><stop offset="0.250" stop-color="#97ff68"/><stop offset="0.312" stop-color="#95ff6a"/><stop offset="0.375" stop-color="#92ff6d"/><stop offset="0.438" stop-color="#90ff6f"/><stop offset="0.500" stop-color="#8dff72"/><stop offset="0.562" stop-color="#8aff75"/><stop offset="0.625" stop-color="#88ff77"/><stop offset="0.688" stop-color="#85ff7a"/><stop offset="0.750" stop-color="#82ff7d"/><stop offset="0.812" stop-color="#7fff80"/><stop offset="0.875" stop-color="#7dff82"/><stop offset="0.938" stop-color="#7bff84"/><stop offset="1.000" stop-color="#7aff85"/></linearGradient><linearGradient id="r45"><stop offset="0.000" stop-color="#9fff60"/><stop offset="0.062" stop-color="#9dff62"/><stop offset="0.125" stop-color="#9aff65"/><stop offset="0.188" stop-color="#98ff67"/><stop offset="0.250" stop-color="#96ff69"/><stop offset="0.312" stop-color="#94ff6b"/><stop offset="0.375" stop-color="#91ff6e"/><stop offset="0.438" stop-color="#8fff70"/><stop offset="0.500" stop-color="#8cff73"/><stop offset="0.562" stop-color="#89ff76"/><stop offset="0.625" stop-color="#86ff79"/><stop offset="0.688" stop-color="#84ff7b"/><stop offset="0.750" stop-color="#81ff7e"/><stop offset="0.812" stop-color="#7eff81"/><stop offset="0.875" stop-color="#7bff84"/><stop offset="0.938" stop-color="#7aff85"/><stop offset="1.000" stop-color="#78ff87"/></linearGradient><linearGradient id="r46"><stop offset="0.000" stop-color="#9fff60"/><stop offset="0.062" stop-color="#9cff63"/><stop offset="0.125" stop-color="#9aff65"/><stop offset="0.188" stop-color="#98ff67"/><stop offset="0.250" stop-color="#95ff6a"/><stop offset="0.312" stop-color="#93ff6c"/><stop offset="0.375" stop-color="#90ff6f"/><stop offset="0.438" stop-color="#8eff71"/><stop offset="0.500" stop-color="#8bff74"/><stop offset="0.562" stop-color="#88ff77"/><stop offset="0.625" stop-color="#85ff7a"/><stop offset="0.688" stop-color="#82ff7d"/><stop offset="0.750" stop-color="#7fff80"/><stop offset="0.812" stop-color="#7dff82"/><stop offset="0.875" stop-color="#7aff85"/><stop offset="0.938" stop-color="#78ff87"/><stop offset="1.000" stop-color="#77ff88"/></linearGradient><linearGradient id="r47"><stop offset="0.000" stop-color="#9eff61"/><stop offset="0.062" stop-color="#9cff63"/><stop offset="0.125" stop-color="#99ff66"/><stop offset="0.188" stop-color="#97ff68"/><stop offset="0.250" stop-color="#95ff6a"/><stop offset="0.312" stop-color="#92ff6d"/><stop offset="0.375" stop-color="#8fff70"/><stop offset="0.438" stop-color="#8cff73"/><stop offset="0.500" stop-color="#8aff75"/><stop offset="0.562" stop-color="#87ff78"/><stop offset="0.625" stop-color="#84ff7b"/><stop offset="0.688" stop-color="#81ff7e"/><stop offset="0.750" stop-color="#7eff81"/><stop offset="0.812" stop-color="#7bff84"/><stop offset="0.875" stop-color="#78ff87"/><stop offset="0.938" stop-color="#77ff88"/><stop offset="1.000" stop-color="#75ff8a"/></linearGradient><linearGradient id="r48"><stop offset="0.000" stop-color="#9dff62"/><stop offset="0.062" stop-color="#9bff64"/><stop offset="0.125" stop-color="#99ff66"/><stop offset="0.188" stop-color="#96ff69"/><stop offset="0.250" stop-color="#94ff6b"/><stop offset="0.312" stop-color="#91ff6e"/><stop offset="0.375" stop-color="#8eff71"/><stop offset="0.438" stop-color="#8bff74"/><stop offset="0.500" stop-color="#88ff77"/><stop offset="0.562" stop-color="#85ff7a"/><stop offset="0.625" stop-color="#82ff7d"/><stop offset="0.688" stop-color="#80ff7f"/><stop offset="0.750" stop-color="#7dff82"/><stop offset="0.812" stop-color="#7aff85"/><stop offset="0.875" stop-color="#77ff88"/><stop offset="0.938" stop-color="#75ff8a"/><stop offset="1.000" stop-color="#73ff8c"/></linearGradient><linearGradient id="r49"><stop offset="0.000" stop-color="#9dff62"/><stop offset="0.062" stop-color="#9bff64"/><stop offset="0.125" stop-color="#98ff67"/><stop offset="0.188" stop-color="#95ff6a"/><stop offset="0.250" stop-color="#93ff6c"/><stop offset="0.312" stop-color="#90ff6f"/><stop offset="0.375" stop-color="#8dff72"/><stop offset="0.438" stop-color="#8aff75"/><stop offset="0.500" stop-color="#87ff78"/><stop offset="0.562" stop-color="#84ff7b"/><stop offset="0.625" stop-color="#81ff7e"/><stop offset="0.688" stop-color="#7eff81"/><stop offset="0.750" stop-color="#7bff84"/><stop offset="0.812" stop-color="#78ff87"/><stop offset="0.875" stop-color="#75ff8a"/><stop offset="0.938" stop-color="#73ff8c"/><stop offset="1.000" stop-color="#71ff8e"/></linearGradient><linearGradient id="r50"><stop offset="0.000" stop-color="#9cff63"/><stop offset="0.062" stop-color="#9aff65"/><stop offset="0.125" stop-color="#97ff68"/><stop offset="0.188" stop-color="#95ff6a"/><stop offset="0.250" stop-color="#92ff6d"/><stop offset="0.312" stop-color="#8fff70"/><stop offset="0.375" stop-color="#8cff73"/><stop offset="0.438" stop-color="#89ff76"/><stop offset="0.500" stop-color="#86ff79"/><stop offset="0.562" stop-color="#83ff7c"/><stop offset="0.625" stop-color="#80ff7f"/><stop offset="0.688" stop-color="#7dff82"/><stop offset="0.750" stop-color="#7aff85"/><stop offset="0.812" stop-color="#77ff88"/><stop offset="0.875" stop-color="#74ff8b"/><stop offset="0.938" stop-color="#72ff8d"/><stop offset="1.000" stop-color="#70ff8f"/></linearGradient><linearGradient id="r51"><stop offset="0.000" stop-color="#9cff63"/><stop offset="0.062" stop-color="#99ff66"/><stop offset="0.125" stop-color="#97ff68"/><stop offset="0.188" stop-color="#94ff6b"/><stop offset="0.250" stop-color="#91ff6e"/><stop offset="0.312" stop-color="#8eff71"/><stop offset="0.375" stop-color="#8bff74"/><stop offset="0.438" stop-color="#88ff77"/><stop offset="0.500" stop-color="#85ff7a"/><stop offset="0.562" stop-color="#82ff7d"/><stop offset="0.625" stop-color="#7fff80"/><stop offset="0.688" stop-color="#7cff83"/><stop offset="0.750" stop-color="#78ff87"/><stop offset="0.812" stop-color="#75ff8a"/><stop offset="0.875" stop-color="#72ff8d"/><stop offset="0.938" stop-color="#70ff8f"/><stop offset="1.000" stop-color="#6eff91"/></linearGradient><linearGradient id="r52"><stop offset="0.000" stop-color="#9bff64"/><stop offset="0.062" stop-color="#99ff66"/><stop offset="0.125" stop-color="#96ff69"/><stop offset="0.188" stop-color="#93ff6c"/><stop offset="0.250" stop-color="#90ff6f"/><stop offset="0.312" stop-color="#8dff72"/><stop offset="0.375" stop-color="#8aff75"/><stop offset="0.438" stop-color="#87ff78"/><stop offset="0.500" stop-color="#84ff7b"/><stop offset="0.562" stop-color="#81ff7e"/><stop offset="0.625" stop-color="#7dff82"/><stop offset="0.688" stop-color="#7aff85"/><stop offset="0.750" stop-color="#77ff88"/><stop offset="0.812" stop-color="#74ff8b"/><stop offset="0.875" stop-color="#71ff8e"/><stop offset="0.938" stop-color="#6eff91"/><stop offset="1.000" stop-color="#6cff93"/></linearGradient><linearGradient id="r53"><stop offset="0.000" stop-color="#9bff64"/><stop offset="0.062" stop-color="#98ff67"/><stop offset="0.125" stop-color="#96ff69"/><stop offset="0.188" stop-color="#93ff6c"/><stop offset="0.250" stop-color="#90ff6f"/><stop offset="0.312" stop-color="#8dff72"/><stop offset="0.375" stop-color="#89ff76"/><stop offset="0.438" stop-color="#86ff79"/><stop offset="0.500" stop-color="#83ff7c"/><stop offset="0.562" stop-color="#7fff80"/><stop offset="0.625" stop-color="#7cff83"/><stop offset="0.688" stop-color="#79ff86"/><stop offset="0.750" stop-color="#76ff89"/><stop offset="0.812" stop-color="#72ff8d"/><stop offset="0.875" stop-color="#6fff90"/><stop offset="0.938" stop-color="#6dff92"/><stop offset="1.000" stop-color="#6bff94"/></linearGradient><linearGradient id="r54"><stop offset="0.000" stop-color="#9aff65"/><stop offset="0.062" stop-color="#98ff67"/><stop offset="0.125" stop-color="#95ff6a"/><stop offset="0.188" stop-color="#92ff6d"/><stop offset="0.250" stop-color="#8fff70"/><stop offset="0.312" stop-color="#8cff73"/><stop offset="0.375" stop-color="#88ff77"/><stop offset="0.438" stop-color="#85ff7a"/><stop offset="0.500" stop-color="#82ff7d"/><stop offset="0.562" stop-color="#7eff81"/><stop offset="0.625" stop-color="#7bff84"/><stop offset="0.688" stop-color="#77ff88"/><stop offset="0.750" stop-color="#74ff8b"/><stop offset="0.812" stop-color="#71ff8e"/><stop offset="0.875" stop-color="#6eff91"/><stop offset="0.938" stop-color="#6bff94"/><stop offset="1.000" stop-color="#69ff96"/></linearGradient><linearGradient id="r55"><stop offset="0.000" stop-color="#99ff66"/><stop offset="0.062" stop-color="#97ff68"/><stop offset="0.125" stop-color="#95ff6a"/><stop offset="0.188" stop-color="#91ff6e"/><stop offset="0.250" stop-color="#8eff71"/><stop offset="0.312" stop-color="#8bff74"/><stop offset="0.375" stop-color="#87ff78"/><stop offset="0.438" stop-color="#84ff7b"/><stop offset="0.500" stop-color="#80ff7f"/><stop offset="0.562" stop-color="#7dff82"/><stop offset="0.625" stop-color="#7aff85"/><stop offset="0.688" stop-color="#76ff89"/><stop offset="0.750" stop-color="#73ff8c"/><stop offset="0.812" stop-color="#6fff90"/><stop offset="0.875" stop-color="#6cff93"/><stop offset="0.938" stop-color="#6aff95"/><stop offset="1.000" stop-color="#67ff98"/></linearGradient><linearGradient id="r56"><stop offset="0.000" stop-color="#99ff66"/><stop offset="0.062" stop-color="#96ff69"/><stop offset="0.125" stop-color="#94ff6b"/><stop offset="0.188" stop-color="#90ff6f"/><stop offset="0.250" stop-color="#8dff72"/><stop offset="0.312" stop-color="#89ff76"/><stop offset="0.375" stop-color="#86ff79"/><stop offset="0.438" stop-color="#82ff7d"/><stop offset="0.500" stop-color="#7fff80"/><stop offset="0.562" stop-color="#7bff84"/><stop offset="0.625" stop-color="#78ff87"/><stop offset="0.688" stop-color="#74ff8b"/><stop offset="0.750" stop-color="#71ff8e"/><stop offset="0.812" stop-color="#6dff92"/><stop offset="0.875" stop-color="#6aff95"/><stop offset="0.938" stop-color="#67ff98"/><stop offset="1.000" stop-color="#65ff9a"/></linearGradient><linearGradient id="r57"><stop offset="0.000" stop-color="#98ff67"/><stop offset="0.062" stop-color="#95ff6a"/><stop offset="0.125" stop-color="#93ff6c"/><stop offset="0.188" stop-color="#8fff70"/><stop offset="0.250" stop-color="#8cff73"/><stop offset="0.312" stop-color="#88ff77"/><stop offset="0.375" stop-color="#84ff7b"/><stop offset="0.438" stop-color="#81ff7e"/><stop offset="0.500" stop-color="#7dff82"/><stop offset="0.562" stop-color="#79ff86"/><stop offset="0.625" stop-color="#75ff8a"/><stop offset="0.688" stop-color="#72ff8d"/><stop offset="0.750" stop-color="#6eff91"/><stop offset="0.812" stop-color="#6aff95"/><stop offset="0.875" stop-color="#67ff98"/><stop offset="0.938" stop-color="#64ff9b"/><stop offset="1.000" stop-color="#61ff9e"/></linearGradient><linearGradient id="r58"><stop offset="0.000" stop-color="#97ff68"/><stop offset="0.062" stop-color="#95ff6a"/><stop offset="0.125" stop-color="#92ff6d"/><stop offset="0.188" stop-color="#8eff71"/><stop offset="0.250" stop-color="#8aff75"/><stop offset="0.312" stop-color="#86ff79"/><stop offset="0.375" stop-color="#83ff7c"/><stop offset="0.438" stop-color="#7fff80"/><stop offset="0.500" stop-color="#7bff84"/><stop offset="0.562" stop-color="#77ff88"/><stop offset="0.625" stop-color="#73ff8c"/><stop offset="0.688" stop-color="#6fff90"/><stop offset="0.750" stop-color="#6bff94"/><stop offset="0.812" stop-color="#67ff98"/><stop offset="0.875" stop-color="#64ff9b"/><stop offset="0.938" stop-color="#60ff9f"/><stop offset="1.000" stop-color="#5dffa2"/></linearGradient><linearGradient id="r59"><stop offset="0.000" stop-color="#96ff69"/><stop offset="0.062" stop-color="#94ff6b"/><stop offset="0.125" stop-color="#91ff6e"/><stop offset="0.188" stop-color="#8dff72"/><stop offset="0.250" stop-color="#89ff76"/><stop offset="0.312" stop-color="#85ff7a"/><stop offset="0.375" stop-color="#81ff7e"/><stop offset="0.438" stop-color="#7dff82"/><stop offset="0.500" stop-color="#79ff86"/><stop offset="0.562" stop-color="#75ff8a"/><stop offset="0.625" stop-color="#71ff8e"/><stop offset="0.688" stop-color="#6cff93"/><stop offset="0.750" stop-color="#68ff97"/><stop offset="0.812" stop-color="#65ff9a"/><stop offset="0.875" stop-color="#61ff9e"/><stop offset="0.938" stop-color="#5dffa2"/><stop offset="1.000" stop-color="#59ffa6"/></linearGradient><linearGradient id="r60"><stop offset="0.000" stop-color="#96ff69"/><stop offset="0.062" stop-color="#93ff6c"/><stop offset="0.125" stop-color="#8fff70"/><stop offset="0.188" stop-color="#8bff74"/><stop offset="0.250" stop-color="#87ff78"/><stop offset="0.312" stop-color="#83ff7c"/><stop offset="0.375" stop-color="#7fff80"/><stop offset="0.438" stop-color="#7bff84"/><stop offset="0.500" stop-color="#77ff88"/><stop offset="0.562" stop-color="#73ff8c"/><stop offset="0.625" stop-color="#6eff91"/><stop offset="0.688" stop-color="#6aff95"/><stop offset="0.750" stop-color="#66ff99"/><stop offset="0.812" stop-color="#62ff9d"/><stop offset="0.875" stop-color="#5effa1"/><stop offset="0.938" stop-color="#5affa5"/><stop offset="1.000" stop-color="#55ffaa"/></linearGradient><linearGradient id="r61"><stop offset="0.000" stop-color="#95ff6a"/><stop offset="0.062" stop-color="#92ff6d"/><stop offset="0.125" stop-color="#8eff71"/><stop offset="0.188" stop-color="#8aff75"/><stop offset="0.250" stop-color="#86ff79"/><stop offset="0.312" stop-color="#82ff7d"/><stop offset="0.375" stop-color="#7eff81"/><stop offset="0.438" stop-color="#7aff85"/><stop offset="0.500" stop-color="#75ff8a"/><stop offset="0.562" stop-color="#71ff8e"/><stop offset="0.625" stop-color="#6cff93"/><stop offset="0.688" stop-color="#67ff98"/><stop offset="0.750" stop-color="#63ff9c"/><stop offset="0.812" stop-color="#5fffa0"/><stop offset="0.875" stop-color="#5affa5"/><stop offset="0.938" stop-color="#56ffa9"/><stop offset="1.000" stop-color="#52ffad"/></linearGradient><linearGradient id="r62"><stop offset="0.000" stop-color="#94ff6b"/><stop offset="0.062" stop-color="#91ff6e"/><stop offset="0.125" stop-color="#8dff72"/><stop offset="0.188" stop-color="#89ff76"/><stop offset="0.250" stop-color="#85ff7a"/><stop offset="0.312" stop-color="#80ff7f"/><stop offset="0.375" stop-color="#7cff83"/><stop offset="0.438" stop-color="#78ff87"/><stop offset="0.500" stop-color="#74ff8b"/><stop offset="0.562" stop-color="#6eff91"/><stop offset="0.625" stop-color="#69ff96"/><stop offset="0.688" stop-color="#64ff9b"/><stop offset="0.750" stop-color="#60ff9f"/><stop offset="0.812" stop-color="#5cffa3"/><stop offset="0.875" stop-color="#57ffa8"/><stop offset="0.938" stop-color="#53ffac"/><stop offset="1.000" stop-color="#4effb1"/></linearGradient><linearGradient id="r63"><stop offset="0.000" stop-color="#93ff6c"/><stop offset="0.062" stop-color="#90ff6f"/><stop offset="0.125" stop-color="#8cff73"/><stop offset="0.188" stop-color="#88ff77"/><stop offset="0.250" stop-color="#83ff7c"/><stop offset="0.312" stop-color="#7fff80"/><stop offset="0.375" stop-color="#7aff85"/><stop offset="0.438" stop-color="#76ff89"/><stop offset="0.500" stop-color="#72ff8d"/><stop offset="0.562" stop-color="#6cff93"/><stop offset="0.625" stop-color="#67ff98"/><stop offset="0.688" stop-color="#62ff9d"/><stop offset="0.750" stop-color="#5dffa2"/><stop offset="0.812" stop-color="#59ffa6"/><stop offset="0.875" stop-color="#54ffab"/><stop offset="0.938" stop-color="#4fffb0"/><stop offset="1.000" stop-color="#4affb5"/></linearGradient><linearGradient id="r64"><stop offset="0.000" stop-color="#93ff6c"/><stop offset="0.062" stop-color="#8fff70"/><stop offset="0.125" stop-color="#8bff74"/><stop offset="0.188" stop-color="#86ff79"/><stop offset="0.250" stop-color="#82ff7d"/><stop offset="0.312" stop-color="#7dff82"/><stop offset="0.375" stop-color="#79ff86"/><stop offset="0.438" stop-color="#74ff8b"/><stop offset="0.500" stop-color="#70ff8f"/><stop offset="0.562" stop-color="#6aff95"/><stop offset="0.625" stop-color="#65ff9a"/><stop offset="0.688" stop-color="#5fffa0"/><stop offset="0.750" stop-color="#5affa5"/><stop offset="0.812" stop-color="#56ffa9"/><stop offset="0.875" stop-color="#51ffae"/><stop offset="0.938" stop-color="#4cffb3"/><stop offset="1.000" stop-color="#46ffb9"/></linearGradient><linearGradient id="r65"><stop offset="0.000" stop-color="#92ff6d"/><stop offset="0.062" stop-color="#8eff71"/><stop offset="0.125" stop-color="#8aff75"/><stop offset="0.188" stop-color="#85ff7a"/><stop offset="0.250" stop-color="#80ff7f"/><stop offset="0.312" stop-color="#7cff83"/><stop offset="0.375" stop-color="#77ff88"/><stop offset="0.438" stop-color="#72ff8d"/><stop offset="0.500" stop-color="#6eff91"/><stop offset="0.562" stop-color="#68ff97"/><stop offset="0.625" stop-color="#62ff9d"/><stop offset="0.688" stop-color="#5cffa3"/><stop offset="0.750" stop-color="#58ffa7"/><stop offset="0.812" stop-color="#53ffac"/><stop offset="0.875" stop-color="#4effb1"/><stop offset="0.938" stop-color="#48ffb7"/><stop offset="1.000" stop-color="#42ffbd"/></linearGradient><linearGradient id="r66"><stop offset="0.000" stop-color="#91ff6e"/><stop offset="0.062" stop-color="#8dff72"/><stop offset="0.125" stop-color="#89ff76"/><stop offset="0.188" stop-color="#84ff7b"/><stop offset="0.250" stop-color="#7fff80"/><stop offset="0.312" stop-color="#7aff85"/><stop offset="0.375" stop-color="#76ff89"/><stop offset="0.438" stop-color="#71ff8e"/><stop offset="0.500" stop-color="#6cff93"/><stop offset="0.562" stop-color="#66ff99"/><stop offset="0.625" stop-color="#60ff9f"/><stop offset="0.688" stop-color="#5affa5"/><stop offset="0.750" stop-color="#55ffaa"/><stop offset="0.812" stop-color="#50ffaf"/><stop offset="0.875" stop-color="#4bffb4"/><stop offset="0.938" stop-color="#45ffba"/><stop offset="1.000" stop-color="#3effc1"/></linearGradient><linearGradient id="r67"><stop offset="0.000" stop-color="#90ff6f"/><stop offset="0.062" stop-color="#8cff73"/><stop offset="0.125" stop-color="#88ff77"/><stop offset="0.188" stop-color="#83ff7c"/><stop offset="0.250" stop-color="#7eff81"/><stop offset="0.312" stop-color="#79ff86"/><stop offset="0.375" stop-color="#74ff8b"/><stop offset="0.438" stop-color="#6fff90"/><stop offset="0.500" stop-color="#6aff95"/><stop offset="0.562" stop-color="#64ff9b"/><stop offset="0.625" stop-color="#5dffa2"/><stop offset="0.688" stop-color="#57ffa8"/><stop offset="0.750" stop-color="#52ffad"/><stop offset="0.812" stop-color="#4dffb2"/><stop offset="0.875" stop-color="#48ffb7"/><stop offset="0.938" stop-color="#41ffbe"/><stop offset="1.000" stop-color="#3bffc4"/></linearGradient><linearGradient id="r68"><stop offset="0.000" stop-color="#90ff6f"/><stop offset="0.062" stop-color="#8bff74"/><stop offset="0.125" stop-color="#86ff79"/><stop offset="0.188" stop-color="#81ff7e"/><stop offset="0.250" stop-color="#7cff83"/><stop offset="0.312" stop-color="#77ff88"/><stop offset="0.375" stop-color="#72ff8d"/><stop offset="0.438" stop-color="#6dff92"/><stop offset="0.500" stop-color="#68ff97"/><stop offset="0.562" stop-color="#62ff9d"/><stop offset="0.625" stop-color="#5bffa4"/><stop offset="0.688" stop-color="#54ffab"/><stop offset="0.750" stop-color="#4fffb0"/><stop offset="0.812" stop-color="#4affb5"/><stop offset="0.875" stop-color="#45ffba"/><stop offset="0.938" stop-color="#3effc1"/><stop offset="1.000" stop-color="#37ffc8"/></linearGradient><linearGradient id="r69"><stop offset="0.000" stop-color="#8fff70"/><stop offset="0.062" stop-color="#8aff75"/><stop offset="0.125" stop-color="#85ff7a"/><stop offset="0.188" stop-color="#80ff7f"/><stop offset="0.250" stop-color="#7bff84"/><stop offset="0.312" stop-color="#76ff89"/><stop offset="0.375" stop-color="#71ff8e"/><stop offset="0.438" stop-color="#6bff94"/><stop offset="0.500" stop-color="#66ff99"/><stop offset="0.562" stop-color="#5fffa0"/><stop offset="0.625" stop-color="#58ffa7"/><stop offset="0.688" stop-color="#52ffad"/><stop offset="0.750" stop-color="#4cffb3"/><stop offset="0.812" stop-color="#47ffb8"/><stop offset="0.875" stop-color="#42ffbd"/><stop offset="0.938" stop-color="#3affc5"/><stop offset="1.000" stop-color="#33ffcc"/></linearGradient><linearGradient id="r70"><stop offset="0.000" stop-color="#8eff71"/><stop offset="0.062" stop-color="#89ff76"/><stop offset="0.125" stop-color="#83ff7c"/><stop offset="0.188" stop-color="#7dff82"/><stop offset="0.250" stop-color="#78ff87"/><stop offset="0.312" stop-color="#73ff8c"/><stop offset="0.375" stop-color="#6dff92"/><stop offset="0.438" stop-color="#68ff97"/><stop offset="0.500" stop-color="#63ff9c"/><stop offset="0.562" stop-color="#5cffa3"/><stop offset="0.625" stop-color="#55ffaa"/><stop offset="0.688" stop-color="#4effb1"/><stop offset="0.750" stop-color="#49ffb6"/><stop offset="0.812" stop-color="#43ffbc"/><stop offset="0.875" stop-color="#3effc1"/><stop offset="0.938" stop-color="#36ffc9"/><stop offset="1.000" stop-color="#2effd1"/></linearGradient><linearGradient id="r71"><stop offset="0.000" stop-color="#8dff72"/><stop offset="0.062" stop-color="#87ff78"/><stop offset="0.125" stop-color="#80ff7f"/><stop offset="0.188" stop-color="#7bff84"/><stop offset="0.250" stop-color="#75ff8a"/><stop offset="0.312" stop-color="#70ff8f"/><stop offset="0.375" stop-color="#6aff95"/><stop offset="0.438" stop-color="#65ff9a"/><stop offset="0.500" stop-color="#5fffa0"/><stop offset="0.562" stop-color="#58ffa7"/><stop offset="0.625" stop-color="#51ffae"/><stop offset="0.688" stop-color="#4affb5"/><stop offset="0.750" stop-color="#45ffba"/><stop offset="0.812" stop-color="#3fffc0"/><stop offset="0.875" stop-color="#3affc5"/><stop offset="0.938" stop-color="#31ffce"/><stop offset="1.000" stop-color="#29ffd6"/></linearGradient><linearGradient id="r72"><stop offset="0.000" stop-color="#8cff73"/><stop offset="0.062" stop-color="#85ff7a"/><stop offset="0.125" stop-color="#7eff81"/><stop offset="0.188" stop-color="#78ff87"/><stop offset="0.250" stop-color="#72ff8d"/><stop offset="0.312" stop-color="#6dff92"/><stop offset="0.375" stop-color="#67ff98"/><stop offset="0.438" stop-color="#61ff9e"/><stop offset="0.500" stop-color="#5cffa3"/><stop offset="0.562" stop-color="#55ffaa"/><stop offset="0.625" stop-color="#4effb1"/><stop offset="0.688" stop-color="#47ffb8"/><stop offset="0.750" stop-color="#41ffbe"/><stop offset="0.812" stop-color="#3bffc4"/><stop offset="0.875" stop-color="#35ffca"/><stop offset="0.938" stop-color="#2dffd2"/><stop offset="1.000" stop-color="#24ffdb"/></linearGradient><linearGradient id="r73"><stop offset="0.000" stop-color="#8bff74"/><stop offset="0.062" stop-color="#83ff7c"/><stop offset="0.125" stop-color="#7bff84"/><stop offset="0.188" stop-color="#75ff8a"/><stop offset="0.250" stop-color="#6fff90"/><stop offset="0.312" stop-color="#6aff95"/><stop offset="0.375" stop-color="#64ff9b"/><stop offset="0.438" stop-color="#5effa1"/><stop offset="0.500" stop-color="#58ffa7"/><stop offset="0.562" stop-color="#51ffae"/><stop offset="0.625" stop-color="#4affb5"/><stop offset="0.688" stop-color="#43ffbc"/><stop offset="0.750" stop-color="#3dffc2"/><stop offset="0.812" stop-color="#37ffc8"/><stop offset="0.875" stop-color="#31ffce"/><stop offset="0.938" stop-color="#28ffd7"/><stop offset="1.000" stop-color="#1fffe0"/></linearGradient><linearGradient id="r74"><stop offset="0.000" stop-color="#8aff75"/><stop offset="0.062" stop-color="#82ff7d"/><stop offset="0.125" stop-color="#79ff86"/><stop offset="0.188" stop-color="#73ff8c"/><stop offset="0.250" stop-color="#6dff92"/><stop offset="0.312" stop-color="#67ff98"/><stop offset="0.375" stop-color="#60ff9f"/><stop offset="0.438" stop-color="#5affa5"/><stop offset="0.500" stop-color="#54ffab"/><stop offset="0.562" stop-color="#4dffb2"/><stop offset="0.625" stop-color="#47ffb8"/><stop offset="0.688" stop-color="#40ffbf"/><stop offset="0.750" stop-color="#3affc5"/><stop offset="0.812" stop-color="#34ffcb"/><stop offset="0.875" stop-color="#2dffd2"/><stop offset="0.938" stop-color="#23ffdc"/><stop offset="1.000" stop-color="#1affe5"/></linearGradient><linearGradient id="r75"><stop offset="0.000" stop-color="#89ff76"/><stop offset="0.062" stop-color="#80ff7f"/><stop offset="0.125" stop-color="#77ff88"/><stop offset="0.188" stop-color="#70ff8f"/><stop offset="0.250" stop-color="#6aff95"/><stop offset="0.312" stop-color="#63ff9c"/><stop offset="0.375" stop-color="#5dffa2"/><stop offset="0.438" stop-color="#57ffa8"/><stop offset="0.500" stop-color="#51ffae"/><stop offset="0.562" stop-color="#4affb5"/><stop offset="0.625" stop-color="#43ffbc"/><stop offset="0.688" stop-color="#3cffc3"/><stop offset="0.750" stop-color="#36ffc9"/><stop offset="0.812" stop-color="#30ffcf"/><stop offset="0.875" stop-color="#29ffd6"/><stop offset="0.938" stop-color="#1fffe0"/><stop offset="1.000" stop-color="#14ffeb"/></linearGradient><linearGradient id="r76"><stop offset="0.000" stop-color="#88ff77"/><stop offset="0.062" stop-color="#7eff81"/><stop offset="0.125" stop-color="#74ff8b"/><stop offset="0.188" stop-color="#6dff92"/><stop offset="0.250" stop-color="#67ff98"/><stop offset="0.312" stop-color="#60ff9f"/><stop offset="0.375" stop-color="#5affa5"/><stop offset="0.438" stop-color="#54ffab"/><stop offset="0.500" stop-color="#4dffb2"/><stop offset="0.562" stop-color="#46ffb9"/><stop offset="0.625" stop-color="#3fffc0"/><stop offset="0.688" stop-color="#39ffc6"/><stop offset="0.750" stop-color="#32ffcd"/><stop offset="0.812" stop-color="#2cffd3"/><stop offset="0.875" stop-color="#25ffda"/><stop offset="0.938" stop-color="#1affe5"/><stop offset="1.000" stop-color="#0ffff0"/></linearGradient><linearGradient id="r77"><stop offset="0.000" stop-color="#87ff78"/><stop offset="0.062" stop-color="#7dff82"/><stop offset="0.125" stop-color="#72ff8d"/><stop offset="0.188" stop-color="#6bff94"/><stop offset="0.250" stop-color="#64ff9b"/><stop offset="0.312" stop-color="#5dffa2"/><stop offset="0.375" stop-color="#57ffa8"/><stop offset="0.438" stop-color="#50ffaf"/><stop offset="0.500" stop-color="#4affb5"/><stop offset="0.562" stop-color="#43ffbc"/><stop offset="0.625" stop-color="#3cffc3"/><stop offset="0.688" stop-color="#35ffca"/><stop offset="0.750" stop-color="#2effd1"/><stop offset="0.812" stop-color="#28ffd7"/><stop offset="0.875" stop-color="#21ffde"/><stop offset="0.938" stop-color="#16ffe9"/><stop offset="1.000" stop-color="#0afff5"/></linearGradient><linearGradient id="r78"><stop offset="0.000" stop-color="#86ff79"/><stop offset="0.062" stop-color="#7bff84"/><stop offset="0.125" stop-color="#6fff90"/><stop offset="0.188" stop-color="#68ff97"/><stop offset="0.250" stop-color="#61ff9e"/><stop offset="0.312" stop-color="#5affa5"/><stop offset="0.375" stop-color="#54ffab"/><stop offset="0.438" stop-color="#4dffb2"/><stop offset="0.500" stop-color="#46ffb9"/><stop offset="0.562" stop-color="#3fffc0"/><stop offset="0.625" stop-color="#38ffc7"/><stop offset="0.688" stop-color="#31ffce"/><stop offset="0.750" stop-color="#2bffd4"/><stop offset="0.812" stop-color="#24ffdb"/><stop offset="0.875" stop-color="#1dffe2"/><stop offset="0.938" stop-color="#11ffee"/><stop offset="1.000" stop-color="#05fffa"/></linearGradient><linearGradient id="r79"><stop offset="0.000" stop-color="#85ff7a"/><stop offset="0.062" stop-color="#79ff86"/><stop offset="0.125" stop-color="#6dff92"/><stop offset="0.188" stop-color="#65ff9a"/><stop offset="0.250" stop-color="#5effa1"/><stop offset="0.312" stop-color="#57ffa8"/><stop offset="0.375" stop-color="#50ffaf"/><stop offset="0.438" stop-color="#49ffb6"/><stop offset="0.500" stop-color="#43ffbc"/><stop offset="0.562" stop-color="#3cffc3"/><stop offset="0.625" stop-color="#35ffca"/><stop offset="0.688" stop-color="#2effd1"/><stop offset="0.750" stop-color="#27ffd8"/><stop offset="0.812" stop-color="#20ffdf"/><stop offset="0.875" stop-color="#19ffe6"/><stop offset="0.938" stop-color="#0cfff3"/><stop offset="1.000" stop-color="#00ffff"/></linearGradient><linearGradient id="r80"><stop offset="0.000" stop-color="#84ff7b"/><stop offset="0.062" stop-color="#78ff87"/><stop offset="0.125" stop-color="#6bff94"/><stop offset="0.188" stop-color="#63ff9c"/><stop offset="0.250" stop-color="#5cffa3"/><stop offset="0.312" stop-color="#55ffaa"/><stop offset="0.375" stop-color="#4effb1"/><stop offset="0.438" stop-color="#47ffb8"/><stop offset="0.500" stop-color="#40ffbf"/><stop offset="0.562" stop-color="#38ffc7"/><stop offset="0.625" stop-color="#31ffce"/><stop offset="0.688" stop-color="#2affd5"/><stop offset="0.750" stop-color="#22ffdd"/><stop offset="0.812" stop-color="#1affe5"/><stop offset="0.875" stop-color="#12ffed"/><stop offset="0.938" stop-color="#03fffc"/><stop offset="1.000" stop-color="#00f2ff"/></linearGradient><linearGradient id="r81"><stop offset="0.000" stop-color="#83ff7c"/><stop offset="0.062" stop-color="#76ff89"/><stop offset="0.125" stop-color="#69ff96"/><stop offset="0.188" stop-color="#61ff9e"/><stop offset="0.250" stop-color="#5affa5"/><stop offset="0.312" stop-color="#53ffac"/><stop offset="0.375" stop-color="#4cffb3"/><stop offset="0.438" stop-color="#44ffbb"/><stop offset="0.500" stop-color="#3cffc3"/><stop offset="0.562" stop-color="#35ffca"/><stop offset="0.625" stop-color="#2dffd2"/><stop offset="0.688" stop-color="#26ffd9"/><stop offset="0.750" stop-color="#1dffe2"/><stop offset="0.812" stop-color="#15ffea"/><stop offset="0.875" stop-color="#0cfff3"/><stop offset="0.938" stop-color="#00f8ff"/><stop offset="1.000" stop-color="#00e4ff"/></linearGradient><linearGradient id="r82"><stop offset="0.000" stop-color="#82ff7d"/><stop offset="0.062" stop-color="#75ff8a"/><stop offset="0.125" stop-color="#67ff98"/><stop offset="0.188" stop-color="#5fffa0"/><stop offset="0.250" stop-color="#58ffa7"/><stop offset="0.312" stop-color="#51ffae"/><stop offset="0.375" stop-color="#49ffb6"/><stop offset="0.438" stop-color="#41ffbe"/><stop offset="0.500" stop-color="#39ffc6"/><stop offset="0.562" stop-color="#31ffce"/><stop offset="0.625" stop-color="#2affd5"/><stop offset="0.688" stop-color="#22ffdd"/><stop offset="0.750" stop-color="#19ffe6"/><stop offset="0.812" stop-color="#10ffef"/><stop offset="0.875" stop-color="#06fff9"/><stop offset="0.938" stop-color="#00eeff"/><stop offset="1.000" stop-color="#00d7ff"/></linearGradient><linearGradient id="r83"><stop offset="0.000" stop-color="#81ff7e"/><stop offset="0.062" stop-color="#73ff8c"/><stop offset="0.125" stop-color="#65ff9a"/><stop offset="0.188" stop-color="#5dffa2"/><stop offset="0.250" stop-color="#56ffa9"/><stop offset="0.312" stop-color="#4fffb0"/><stop offset="0.375" stop-color="#47ffb8"/><stop offset="0.438" stop-color="#3fffc0"/><stop offset="0.500" stop-color="#36ffc9"/><stop offset="0.562" stop-color="#2effd1"/><stop offset="0.625" stop-color="#26ffd9"/><stop offset="0.688" stop-color="#1dffe2"/><stop offset="0.750" stop-color="#14ffeb"/><stop offset="0.812" stop-color="#0afff5"/><stop offset="0.875" stop-color="#00feff"/><stop offset="0.938" stop-color="#00e4ff"/><stop offset="1.000" stop-color="#00caff"/></linearGradient><linearGradient id="r84"><stop offset="0.000" stop-color="#80ff80"/><stop offset="0.062" stop-color="#72ff8d"/><stop offset="0.125" stop-color="#63ff9c"/><stop offset="0.188" stop-color="#5bffa4"/><stop offset="0.250" stop-color="#54ffab"/><stop offset="0.312" stop-color="#4dffb2"/><stop offset="0.375" stop-color="#45ffba"/><stop offset="0.438" stop-color="#3cffc3"/><stop offset="0.500" stop-color="#33ffcc"/><stop offset="0.562" stop-color="#2bffd4"/><stop offset="0.625" stop-color="#22ffdd"/><stop offset="0.688" stop-color="#19ffe6"/><stop offset="0.750" stop-color="#0ffff0"/><stop offset="0.812" stop-color="#05fffa"/><stop offset="0.875" stop-color="#00f8ff"/><stop offset="0.938" stop-color="#00daff"/><stop offset="1.000" stop-color="#00bdff"/></linearGradient><linearGradient id="r85"><stop offset="0.000" stop-color="#7dff82"/><stop offset="0.062" stop-color="#70ff8f"/><stop offset="0.125" stop-color="#61ff9e"/><stop offset="0.188" stop-color="#59ffa6"/><stop offset="0.250" stop-color="#51ffae"/><stop offset="0.312" stop-color="#4affb5"/><stop offset="0.375" stop-color="#42ffbd"/><stop offset="0.438" stop-color="#39ffc6"/><stop offset="0.500" stop-color="#30ffcf"/><stop offset="0.562" stop-color="#27ffd8"/><stop offset="0.625" stop-color="#1effe1"/><stop offset="0.688" stop-color="#14ffeb"/><stop offset="0.750" stop-color="#07fff8"/><stop offset="0.812" stop-color="#00f8ff"/><stop offset="0.875" stop-color="#00eaff"/><stop offset="0.938" stop-color="#00caff"/><stop offset="1.000" stop-color="#00aaff"/></linearGradient><linearGradient id="r86"><stop offset="0.000" stop-color="#7bff84"/><stop offset="0.062" stop-color="#6eff91"/><stop offset="0.125" stop-color="#5fffa0"/><stop offset="0.188" stop-color="#56ffa9"/><stop offset="0.250" stop-color="#4fffb0"/><stop offset="0.312" stop-color="#47ffb8"/><stop offset="0.375" stop-color="#3effc1"/><stop offset="0.438" stop-color="#36ffc9"/><stop offset="0.500" stop-color="#2dffd2"/><stop offset="0.562" stop-color="#23ffdc"/><stop offset="0.625" stop-color="#19ffe6"/><stop offset="0.688" stop-color="#0ffff0"/><stop offset="0.750" stop-color="#00fdff"/><stop offset="0.812" stop-color="#00edff"/><stop offset="0.875" stop-color="#00dbff"/><stop offset="0.938" stop-color="#00baff"/><stop offset="1.000" stop-color="#0098ff"/></linearGradient><linearGradient id="r87"><stop offset="0.000" stop-color="#79ff86"/><stop offset="0.062" stop-color="#6cff93"/><stop offset="0.125" stop-color="#5dffa2"/><stop offset="0.188" stop-color="#54ffab"/><stop offset="0.250" stop-color="#4cffb3"/><stop offset="0.312" stop-color="#44ffbb"/><stop offset="0.375" stop-color="#3bffc4"/><stop offset="0.438" stop-color="#33ffcc"/><stop offset="0.500" stop-color="#2affd5"/><stop offset="0.562" stop-color="#1fffe0"/><stop offset="0.625" stop-color="#15ffea"/><stop offset="0.688" stop-color="#0afff5"/><stop offset="0.750" stop-color="#00f5ff"/><stop offset="0.812" stop-color="#00e2ff"/><stop offset="0.875" stop-color="#00cdff"/><stop offset="0.938" stop-color="#00a9ff"/><stop offset="1.000" stop-color="#0086ff"/></linearGradient><linearGradient id="r88"><stop offset="0.000" stop-color="#77ff88"/><stop offset="0.062" stop-color="#6aff95"/><stop offset="0.125" stop-color="#5bffa4"/><stop offset="0.188" stop-color="#52ffad"/><stop offset="0.250" stop-color="#49ffb6"/><stop offset="0.312" stop-color="#41ffbe"/><stop offset="0.375" stop-color="#38ffc7"/><stop offset="0.438" stop-color="#30ffcf"/><stop offset="0.500" stop-color="#27ffd8"/><stop offset="0.562" stop-color="#1cffe3"/><stop offset="0.625" stop-color="#10ffef"/><stop offset="0.688" stop-color="#05fffa"/><stop offset="0.750" stop-color="#00edff"/><stop offset="0.812" stop-color="#00d6ff"/><stop offset="0.875" stop-color="#00beff"/><stop offset="0.938" stop-color="#0099ff"/><stop offset="1.000" stop-color="#0073ff"/></linearGradient><linearGradient id="r89"><stop offset="0.000" stop-color="#75ff8a"/><stop offset="0.062" stop-color="#68ff97"/><stop offset="0.125" stop-color="#59ffa6"/><stop offset="0.188" stop-color="#4fffb0"/><stop offset="0.250" stop-color="#47ffb8"/><stop offset="0.312" stop-color="#3effc1"/><stop offset="0.375" stop-color="#35ffca"/><stop offset="0.438" stop-color="#2dffd2"/><stop offset="0.500" stop-color="#24ffdb"/><stop offset="0.562" stop-color="#18ffe7"/><stop offset="0.625" stop-color="#0cfff3"/><stop offset="0.688" stop-color="#00ffff"/><stop offset="0.750" stop-color="#00e5ff"/><stop offset="0.812" stop-color="#00cbff"/><stop offset="0.875" stop-color="#00b0ff"/><stop offset="0.938" stop-color="#0088ff"/><stop offset="1.000" stop-color="#0061ff"/></linearGradient><linearGradient id="r90"><stop offset="0.000" stop-color="#73ff8c"/><stop offset="0.062" stop-color="#66ff99"/><stop offset="0.125" stop-color="#57ffa8"/><stop offset="0.188" stop-color="#4dffb2"/><stop offset="0.250" stop-color="#44ffbb"/><stop offset="0.312" stop-color="#3bffc4"/><stop offset="0.375" stop-color="#32ffcd"/><stop offset="0.438" stop-color="#29ffd6"/><stop offset="0.500" stop-color="#20ffdf"/><stop offset="0.562" stop-color="#13ffec"/><stop offset="0.625" stop-color="#06fff9"/><stop offset="0.688" stop-color="#00f7ff"/><stop offset="0.750" stop-color="#00ddff"/><stop offset="0.812" stop-color="#00c3ff"/><stop offset="0.875" stop-color="#00a8ff"/><stop offset="0.938" stop-color="#0083ff"/><stop offset="1.000" stop-color="#005eff"/></linearGradient><linearGradient id="r91"><stop offset="0.000" stop-color="#71ff8e"/><stop offset="0.062" stop-color="#63ff9c"/><stop offset="0.125" stop-color="#55ffaa"/><stop offset="0.188" stop-color="#4bffb4"/><stop offset="0.250" stop-color="#41ffbe"/><stop offset="0.312" stop-color="#38ffc7"/><stop offset="0.375" stop-color="#2fffd0"/><stop offset="0.438" stop-color="#25ffda"/><stop offset="0.500" stop-color="#1cffe3"/><stop offset="0.562" stop-color="#0efff1"/><stop offset="0.625" stop-color="#00ffff"/><stop offset="0.688" stop-color="#00f0ff"/><stop offset="0.750" stop-color="#00d6ff"/><stop offset="0.812" stop-color="#00bbff"/><stop offset="0.875" stop-color="#00a0ff"/><stop offset="0.938" stop-color="#007dff"/><stop offset="1.000" stop-color="#005bff"/></linearGradient><linearGradient id="r92"><stop offset="0.000" stop-color="#6fff90"/><stop offset="0.062" stop-color="#61ff9e"/><stop offset="0.125" stop-color="#53ffac"/><stop offset="0.188" stop-color="#48ffb7"/><stop offset="0.250" stop-color="#3fffc0"/><stop offset="0.312" stop-color="#35ffca"/><stop offset="0.375" stop-color="#2bffd4"/><stop offset="0.438" stop-color="#22ffdd"/><stop offset="0.500" stop-color="#18ffe7"/><stop offset="0.562" stop-color="#09fff6"/><stop offset="0.625" stop-color="#00f9ff"/><stop offset="0.688" stop-color="#00e9ff"/><stop offset="0.750" stop-color="#00ceff"/><stop offset="0.812" stop-color="#00b3ff"/><stop offset="0.875" stop-color="#0098ff"/><stop offset="0.938" stop-color="#0078ff"/><stop offset="1.000" stop-color="#0058ff"/></linearGradient><linearGradient id="r93"><stop offset="0.000" stop-color="#6dff92"/><stop offset="0.062" stop-color="#5fffa0"/><stop offset="0.125" stop-color="#51ffae"/><stop offset="0.188" stop-color="#46ffb9"/><stop offset="0.250" stop-color="#3cffc3"/><stop offset="0.312" stop-color="#32ffcd"/><stop offset="0.375" stop-color="#28ffd7"/><stop offset="0.438" stop-color="#1effe1"/><stop offset="0.500" stop-color="#14ffeb"/><stop offset="0.562" stop-color="#04fffb"/><stop offset="0.625" stop-color="#00f2ff"/><stop offset="0.688" stop-color="#00e2ff"/><stop offset="0.750" stop-color="#00c7ff"/><stop offset="0.812" stop-color="#00abff"/><stop offset="0.875" stop-color="#0090ff"/><stop offset="0.938" stop-color="#0072ff"/><stop offset="1.000" stop-color="#0055ff"/></linearGradient><linearGradient id="r94"><stop offset="0.000" stop-color="#6bff94"/><stop offset="0.062" stop-color="#5dffa2"/><stop offset="0.125" stop-color="#4fffb0"/><stop offset="0.188" stop-color="#44ffbb"/><stop offset="0.250" stop-color="#39ffc6"/><stop offset="0.312" stop-color="#2fffd0"/><stop offset="0.375" stop-color="#24ffdb"/><stop offset="0.438" stop-color="#1affe5"/><stop offset="0.500" stop-color="#10ffef"/><stop offset="0.562" stop-color="#00feff"/><stop offset="0.625" stop-color="#00ecff"/><stop offset="0.688" stop-color="#00dbff"/><stop offset="0.750" stop-color="#00bfff"/><stop offset="0.812" stop-color="#00a4ff"/><stop offset="0.875" stop-color="#0088ff"/><stop offset="0.938" stop-color="#006dff"/><stop offset="1.000" stop-color="#0052ff"/></linearGradient><linearGradient id="r95"><stop offset="0.000" stop-color="#6aff95"/><stop offset="0.062" stop-color="#5cffa3"/><stop offset="0.125" stop-color="#4dffb2"/><stop offset="0.188" stop-color="#42ffbd"/><stop offset="0.250" stop-color="#37ffc8"/><stop offset="0.312" stop-color="#2cffd3"/><stop offset="0.375" stop-color="#22ffdd"/><stop offset="0.438" stop-color="#17ffe8"/><stop offset="0.500" stop-color="#0dfff2"/><stop offset="0.562" stop-color="#00faff"/><stop offset="0.625" stop-color="#00e8ff"/><stop offset="0.688" stop-color="#00d6ff"/><stop offset="0.750" stop-color="#00bbff"/><stop offset="0.812" stop-color="#00a0ff"/><stop offset="0.875" stop-color="#0085ff"/><stop offset="0.938" stop-color="#006bff"/><stop offset="1.000" stop-color="#0051ff"/></linearGradient><linearGradient id="r96"><stop offset="0.000" stop-color="#69ff96"/><stop offset="0.062" stop-color="#5bffa4"/><stop offset="0.125" stop-color="#4cffb3"/><stop offset="0.188" stop-color="#40ffbf"/><stop offset="0.250" stop-color="#35ffca"/><stop offset="0.312" stop-color="#2affd5"/><stop offset="0.375" stop-color="#1fffe0"/><stop offset="0.438" stop-color="#14ffeb"/><stop offset="0.500" stop-color="#0afff5"/><stop offset="0.562" stop-color="#00f6ff"/><stop offset="0.625" stop-color="#00e4ff"/><stop offset="0.688" stop-color="#00d1ff"/><stop offset="0.750" stop-color="#00b7ff"/><stop offset="0.812" stop-color="#009cff"/><stop offset="0.875" stop-color="#0082ff"/><stop offset="0.938" stop-color="#0069ff"/><stop offset="1.000" stop-color="#0050ff"/></linearGradient><linearGradient id="r97"><stop offset="0.000" stop-color="#67ff98"/><stop offset="0.062" stop-color="#5affa5"/><stop offset="0.125" stop-color="#4bffb4"/><stop offset="0.188" stop-color="#3fffc0"/><stop offset="0.250" stop-color="#33ffcc"/><stop offset="0.312" stop-color="#28ffd7"/><stop offset="0.375" stop-color="#1dffe2"/><stop offset="0.438" stop-color="#12ffed"/><stop offset="0.500" stop-color="#07fff8"/><stop offset="0.562" stop-color="#00f3ff"/><stop offset="0.625" stop-color="#00e0ff"/><stop offset="0.688" stop-color="#00ccff"/><stop offset="0.750" stop-color="#00b2ff"/><stop offset="0.812" stop-color="#0099ff"/><stop offset="0.875" stop-color="#007fff"/><stop offset="0.938" stop-color="#0067ff"/><stop offset="1.000" stop-color="#0050ff"/></linearGradient><linearGradient id="r98"><stop offset="0.000" stop-color="#66ff99"/><stop offset="0.062" stop-color="#58ffa7"/><stop offset="0.125" stop-color="#4affb5"/><stop offset="0.188" stop-color="#3dffc2"/><stop offset="0.250" stop-color="#31ffce"/><stop offset="0.312" stop-color="#25ffda"/><stop offset="0.375" stop-color="#1affe5"/><stop offset="0.438" stop-color="#0ffff0"/><stop offset="0.500" stop-color="#03fffc"/><stop offset="0.562" stop-color="#00efff"/><stop offset="0.625" stop-color="#00dbff"/><stop offset="0.688" stop-color="#00c7ff"/><stop offset="0.750" stop-color="#00aeff"/><stop offset="0.812" stop-color="#0095ff"/><stop offset="0.875" stop-color="#007cff"/><stop offset="0.938" stop-color="#0066ff"/><stop offset="1.000" stop-color="#004fff"/></linearGradient><linearGradient id="r99"><stop offset="0.000" stop-color="#65ff9a"/><stop offset="0.062" stop-color="#57ffa8"/><stop offset="0.125" stop-color="#48ffb7"/><stop offset="0.188" stop-color="#3cffc3"/><stop offset="0.250" stop-color="#2fffd0"/><stop offset="0.312" stop-color="#23ffdc"/><stop offset="0.375" stop-color="#17ffe8"/><stop offset="0.438" stop-color="#0cfff3"/><stop offset="0.500" stop-color="#00ffff"/><stop offset="0.562" stop-color="#00ebff"/><stop offset="0.625" stop-color="#00d7ff"/><stop offset="0.688" stop-color="#00c2ff"/><stop offset="0.750" stop-color="#00aaff"/><stop offset="0.812" stop-color="#0091ff"/><stop offset="0.875" stop-color="#0079ff"/><stop offset="0.938" stop-color="#0064ff"/><stop offset="1.000" stop-color="#004fff"/></linearGradient><linearGradient id="r100"><stop offset="0.000" stop-color="#64ff9b"/><stop offset="0.062" stop-color="#56ffa9"/><stop offset="0.125" stop-color="#47ffb8"/><stop offset="0.188" stop-color="#3affc5"/><stop offset="0.250" stop-color="#2dffd2"/><stop offset="0.312" stop-color="#20ffdf"/><stop offset="0.375" stop-color="#15ffea"/><stop offset="0.438" stop-color="#09fff6"/><stop offset="0.500" stop-color="#00fcff"/><stop offset="0.562" stop-color="#00e8ff"/><stop offset="0.625" stop-color="#00d3ff"/><stop offset="0.688" stop-color="#00beff"/><stop offset="0.750" stop-color="#00a6ff"/><stop offset="0.812" stop-color="#008eff"/><stop offset="0.875" stop-color="#0076ff"/><stop offset="0.938" stop-color="#0062ff"/><stop offset="1.000" stop-color="#004eff"/></linearGradient><linearGradient id="r101"><stop offset="0.000" stop-color="#63ff9c"/><stop offset="0.062" stop-color="#55ffaa"/><stop offset="0.125" stop-color="#46ffb9"/><stop offset="0.188" stop-color="#38ffc7"/><stop offset="0.250" stop-color="#2bffd4"/><stop offset="0.312" stop-color="#1effe1"/><stop offset="0.375" stop-color="#12ffed"/><stop offset="0.438" stop-color="#06fff9"/><stop offset="0.500" stop-color="#00f9ff"/><stop offset="0.562" stop-color="#00e4ff"/><stop offset="0.625" stop-color="#00ceff"/><stop offset="0.688" stop-color="#00b9ff"/><stop offset="0.750" stop-color="#00a1ff"/><stop offset="0.812" stop-color="#008aff"/><stop offset="0.875" stop-color="#0073ff"/><stop offset="0.938" stop-color="#0060ff"/><stop offset="1.000" stop-color="#004dff"/></linearGradient><linearGradient id="r102"><stop offset="0.000" stop-color="#61ff9e"/><stop offset="0.062" stop-color="#54ffab"/><stop offset="0.125" stop-color="#45ffba"/><stop offset="0.188" stop-color="#37ffc8"/><stop offset="0.250" stop-color="#29ffd6"/><stop offset="0.312" stop-color="#1cffe3"/><stop offset="0.375" stop-color="#0ffff0"/><stop offset="0.438" stop-color="#03fffc"/><stop offset="0.500" stop-color="#00f6ff"/><stop offset="0.562" stop-color="#00e0ff"/><stop offset="0.625" stop-color="#00caff"/><stop offset="0.688" stop-color="#00b4ff"/><stop offset="0.750" stop-color="#009dff"/><stop offset="0.812" stop-color="#0086ff"/><stop offset="0.875" stop-color="#0070ff"/><stop offset="0.938" stop-color="#005eff"/><stop offset="1.000" stop-color="#004dff"/></linearGradient><linearGradient id="r103"><stop offset="0.000" stop-color="#60ff9f"/><stop offset="0.062" stop-color="#52ffad"/><stop offset="0.125" stop-color="#43ffbc"/><stop offset="0.188" stop-color="#35ffca"/><stop offset="0.250" stop-color="#28ffd7"/><stop offset="0.312" stop-color="#1affe5"/><stop offset="0.375" stop-color="#0dfff2"/><stop offset="0.438" stop-color="#01fffe"/><stop offset="0.500" stop-color="#00f4ff"/><stop offset="0.562" stop-color="#00deff"/><stop offset="0.625" stop-color="#00c8ff"/><stop offset="0.688" stop-color="#00b1ff"/><stop offset="0.750" stop-color="#009bff"/><stop offset="0.812" stop-color="#0084ff"/><stop offset="0.875" stop-color="#006eff"/><stop offset="0.938" stop-color="#005dff"/><stop offset="1.000" stop-color="#004dff"/></linearGradient><linearGradient id="r104"><stop offset="0.000" stop-color="#5effa1"/><stop offset="0.062" stop-color="#51ffae"/><stop offset="0.125" stop-color="#42ffbd"/><stop offset="0.188" stop-color="#34ffcb"/><stop offset="0.250" stop-color="#26ffd9"/><stop offset="0.312" stop-color="#18ffe7"/><stop offset="0.375" stop-color="#0cfff3"/><stop offset="0.438" stop-color="#00feff"/><stop offset="0.500" stop-color="#00f2ff"/><stop offset="0.562" stop-color="#00dcff"/><stop offset="0.625" stop-color="#00c6ff"/><stop offset="0.688" stop-color="#00b0ff"/><stop offset="0.750" stop-color="#0099ff"/><stop offset="0.812" stop-color="#0083ff"/><stop offset="0.875" stop-color="#006dff"/><stop offset="0.938" stop-color="#005dff"/><stop offset="1.000" stop-color="#004dff"/></linearGradient><linearGradient id="r105"><stop offset="0.000" stop-color="#5dffa2"/><stop offset="0.062" stop-color="#4fffb0"/><stop offset="0.125" stop-color="#40ffbf"/><stop offset="0.188" stop-color="#32ffcd"/><stop offset="0.250" stop-color="#24ffdb"/><stop offset="0.312" stop-color="#17ffe8"/><stop offset="0.375" stop-color="#0afff5"/><stop offset="0.438" stop-color="#00fcff"/><stop offset="0.500" stop-color="#00f0ff"/><stop offset="0.562" stop-color="#00daff"/><stop offset="0.625" stop-color="#00c4ff"/><stop offset="0.688" stop-color="#00aeff"/><stop offset="0.750" stop-color="#0098ff"/><stop offset="0.812" stop-color="#0082ff"/><stop offset="0.875" stop-color="#006cff"/><stop offset="0.938" stop-color="#005cff"/><stop offset="1.000" stop-color="#004dff"/></linearGradient><linearGradient id="r106"><stop offset="0.000" stop-color="#5bffa4"/><stop offset="0.062" stop-color="#4effb1"/><stop offset="0.125" stop-color="#3fffc0"/><stop offset="0.188" stop-color="#31ffce"/><stop offset="0.250" stop-color="#23ffdc"/><stop offset="0.312" stop-color="#15ffea"/><stop offset="0.375" stop-color="#08fff7"/><stop offset="0.438" stop-color="#00fbff"/><stop offset="0.500" stop-color="#00eeff"/><stop offset="0.562" stop-color="#00d8ff"/><stop offset="0.625" stop-color="#00c2ff"/><stop offset="0.688" stop-color="#00adff"/><stop offset="0.750" stop-color="#0097ff"/><stop offset="0.812" stop-color="#0081ff"/><stop offset="0.875" stop-color="#006bff"/><stop offset="0.938" stop-color="#005cff"/><stop offset="1.000" stop-color="#004dff"/></linearGradient><linearGradient id="r107"><stop offset="0.000" stop-color="#5affa5"/><stop offset="0.062" stop-color="#4cffb3"/><stop offset="0.125" stop-color="#3dffc2"/><stop offset="0.188" stop-color="#2fffd0"/><stop offset="0.250" stop-color="#21ffde"/><stop offset="0.312" stop-color="#14ffeb"/><stop offset="0.375" stop-color="#07fff8"/><stop offset="0.438" stop-color="#00f9ff"/><stop offset="0.500" stop-color="#00ecff"/><stop offset="0.562" stop-color="#00d6ff"/><stop offset="0.625" stop-color="#00c1ff"/><stop offset="0.688" stop-color="#00abff"/><stop offset="0.750" stop-color="#0095ff"/><stop offset="0.812" stop-color="#0080ff"/><stop offset="0.875" stop-color="#006aff"/><stop offset="0.938" stop-color="#005bff"/><stop offset="1.000" stop-color="#004dff"/></linearGradient><linearGradient id="r108"><stop offset="0.000" stop-color="#58ffa7"/><stop offset="0.062" stop-color="#4bffb4"/><stop offset="0.125" stop-color="#3cffc3"/><stop offset="0.188" stop-color="#2effd1"/><stop offset="0.250" stop-color="#20ffdf"/><stop offset="0.312" stop-color="#12ffed"/><stop offset="0.375" stop-color="#05fffa"/><stop offset="0.438" stop-color="#00f7ff"/><stop offset="0.500" stop-color="#00eaff"/><stop offset="0.562" stop-color="#00d5ff"/><stop offset="0.625" stop-color="#00bfff"/><stop offset="0.688" stop-color="#00aaff"/><stop offset="0.750" stop-color="#0094ff"/><stop offset="0.812" stop-color="#007fff"/><stop offset="0.875" stop-color="#0069ff"/><stop offset="0.938" stop-color="#005bff"/><stop offset="1.000" stop-color="#004dff"/></linearGradient><linearGradient id="r109"><stop offset="0.000" stop-color="#57ffa8"/><stop offset="0.062" stop-color="#49ffb6"/><stop offset="0.125" stop-color="#3affc5"/><stop offset="0.188" stop-color="#2cffd3"/><stop offset="0.250" stop-color="#1effe1"/><stop offset="0.312" stop-color="#11ffee"/><stop offset="0.375" stop-color="#03fffc"/><stop offset="0.438" stop-color="#00f5ff"/><stop offset="0.500" stop-color="#00e8ff"/><stop offset="0.562" stop-color="#00d3ff"/><stop offset="0.625" stop-color="#00bdff"/><stop offset="0.688" stop-color="#00a8ff"/><stop offset="0.750" stop-color="#0093ff"/><stop offset="0.812" stop-color="#007dff"/><stop offset="0.875" stop-color="#0068ff"/><stop offset="0.938" stop-color="#005aff"/><stop offset="1.000" stop-color="#004dff"/></linearGradient><linearGradient id="r110"><stop offset="0.000" stop-color="#55ffaa"/><stop offset="0.062" stop-color="#47ffb8"/><stop offset="0.125" stop-color="#39ffc6"/><stop offset="0.188" stop-color="#2bffd4"/><stop offset="0.250" stop-color="#1dffe2"/><stop offset="0.312" stop-color="#0ffff0"/><stop offset="0.375" stop-color="#02fffd"/><stop offset="0.438" stop-color="#00f3ff"/><stop offset="0.500" stop-color="#00e6ff"/><stop offset="0.562" stop-color="#00d1ff"/><stop offset="0.625" stop-color="#00bcff"/><stop offset="0.688" stop-color="#00a6ff"/><stop offset="0.750" stop-color="#0091ff"/><stop offset="0.812" stop-color="#007cff"/><stop offset="0.875" stop-color="#0068ff"/><stop offset="0.938" stop-color="#005aff"/><stop offset="1.000" stop-color="#004dff"/></linearGradient><linearGradient id="r111"><stop offset="0.000" stop-color="#54ffab"/><stop offset="0.062" stop-color="#46ffb9"/><stop offset="0.125" stop-color="#37ffc8"/><stop offset="0.188" stop-color="#29ffd6"/><stop offset="0.250" stop-color="#1bffe4"/><stop offset="0.312" stop-color="#0dfff2"/><stop offset="0.375" stop-color="#00ffff"/><stop offset="0.438" stop-color="#00f1ff"/><stop offset="0.500" stop-color="#00e4ff"/><stop offset="0.562" stop-color="#00cfff"/><stop offset="0.625" stop-color="#00baff"/><stop offset="0.688" stop-color="#00a5ff"/><stop offset="0.750" stop-color="#0090ff"/><stop offset="0.812" stop-color="#007bff"/><stop offset="0.875" stop-color="#0067ff"/><stop offset="0.938" stop-color="#005aff"/><stop offset="1.000" stop-color="#004dff"/></linearGradient><linearGradient id="r112"><stop offset="0.000" stop-color="#52ffad"/><stop offset="0.062" stop-color="#44ffbb"/><stop offset="0.125" stop-color="#36ffc9"/><stop offset="0.188" stop-color="#28ffd7"/><stop offset="0.250" stop-color="#1affe5"/><stop offset="0.312" stop-color="#0cfff3"/><stop offset="0.375" stop-color="#00fdff"/><stop offset="0.438" stop-color="#00efff"/><stop offset="0.500" stop-color="#00e2ff"/><stop offset="0.562" stop-color="#00cdff"/><stop offset="0.625" stop-color="#00b8ff"/><stop offset="0.688" stop-color="#00a3ff"/><stop offset="0.750" stop-color="#008fff"/><stop offset="0.812" stop-color="#007aff"/><stop offset="0.875" stop-color="#0066ff"/><stop offset="0.938" stop-color="#0059ff"/><stop offset="1.000" stop-color="#004dff"/></linearGradient><linearGradient id="r113"><stop offset="0.000" stop-color="#51ffae"/><stop offset="0.062" stop-color="#43ffbc"/><stop offset="0.125" stop-color="#34ffcb"/><stop offset="0.188" stop-color="#26ffd9"/><stop offset="0.250" stop-color="#19ffe6"/><stop offset="0.312" stop-color="#0bfff4"/><stop offset="0.375" stop-color="#00fcff"/><stop offset="0.438" stop-color="#00eeff"/><stop offset="0.500" stop-color="#00e0ff"/><stop offset="0.562" stop-color="#00ccff"/><stop offset="0.625" stop-color="#00b7ff"/><stop offset="0.688" stop-color="#00a3ff"/><stop offset="0.750" stop-color="#008eff"/><stop offset="0.812" stop-color="#0079ff"/><stop offset="0.875" stop-color="#0065ff"/><stop offset="0.938" stop-color="#0059ff"/><stop offset="1.000" stop-color="#004dff"/></linearGradient><linearGradient id="r114"><stop offset="0.000" stop-color="#50ffaf"/><stop offset="0.062" stop-color="#42ffbd"/><stop offset="0.125" stop-color="#34ffcb"/><stop offset="0.188" stop-color="#26ffd9"/><stop offset="0.250" stop-color="#18ffe7"/><stop offset="0.312" stop-color="#0afff5"/><stop offset="0.375" stop-color="#00fbff"/><stop offset="0.438" stop-color="#00edff"/><stop offset="0.500" stop-color="#00dfff"/><stop offset="0.562" stop-color="#00cbff"/><stop offset="0.625" stop-color="#00b6ff"/><stop offset="0.688" stop-color="#00a2ff"/><stop offset="0.750" stop-color="#008dff"/><stop offset="0.812" stop-color="#0079ff"/><stop offset="0.875" stop-color="#0065ff"/><stop offset="0.938" stop-color="#0059ff"/><stop offset="1.000" stop-color="#004dff"/></linearGradient><linearGradient id="r115"><stop offset="0.000" stop-color="#4fffb0"/><stop offset="0.062" stop-color="#41ffbe"/><stop offset="0.125" stop-color="#33ffcc"/><stop offset="0.188" stop-color="#25ffda"/><stop offset="0.250" stop-color="#17ffe8"/><stop offset="0.312" stop-color="#09fff6"/><stop offset="0.375" stop-color="#00faff"/><stop offset="0.438" stop-color="#00ecff"/><stop offset="0.500" stop-color="#00deff"/><stop offset="0.562" stop-color="#00caff"/><stop offset="0.625" stop-color="#00b6ff"/><stop offset="0.688" stop-color="#00a1ff"/><stop offset="0.750" stop-color="#008dff"/><stop offset="0.812" stop-color="#0078ff"/><stop offset="0.875" stop-color="#0064ff"/><stop offset="0.938" stop-color="#0058ff"/><stop offset="1.000" stop-color="#004dff"/></linearGradient><linearGradient id="r116"><stop offset="0.000" stop-color="#4effb1"/><stop offset="0.062" stop-color="#41ffbe"/><stop offset="0.125" stop-color="#32ffcd"/><stop offset="0.188" stop-color="#24ffdb"/><stop offset="0.250" stop-color="#16ffe9"/><stop offset="0.312" stop-color="#08fff7"/><stop offset="0.375" stop-color="#00f9ff"/><stop offset="0.438" stop-color="#00ebff"/><stop offset="0.500" stop-color="#00deff"/><stop offset="0.562" stop-color="#00c9ff"/><stop offset="0.625" stop-color="#00b5ff"/><stop offset="0.688" stop-color="#00a1ff"/><stop offset="0.750" stop-color="#008cff"/><stop offset="0.812" stop-color="#0078ff"/><stop offset="0.875" stop-color="#0064ff"/><stop offset="0.938" stop-color="#0058ff"/><stop offset="1.000" stop-color="#004dff"/></linearGradient><linearGradient id="r117"><stop offset="0.000" stop-color="#4dffb2"/><stop offset="0.062" stop-color="#40ffbf"/><stop offset="0.125" stop-color="#31ffce"/><stop offset="0.188" stop-color="#23ffdc"/><stop offset="0.250" stop-color="#15ffea"/><stop offset="0.312" stop-color="#07fff8"/><stop offset="0.375" stop-color="#00f8ff"/><stop offset="0.438" stop-color="#00eaff"/><stop offset="0.500" stop-color="#00ddff"/><stop offset="0.562" stop-color="#00c9ff"/><stop offset="0.625" stop-color="#00b4ff"/><stop offset="0.688" stop-color="#00a0ff"/><stop offset="0.750" stop-color="#008cff"/><stop offset="0.812" stop-color="#0078ff"/><stop offset="0.875" stop-color="#0064ff"/><stop offset="0.938" stop-color="#0058ff"/><stop offset="1.000" stop-color="#004dff"/></linearGradient><linearGradient id="r118"><stop offset="0.000" stop-color="#4cffb3"/><stop offset="0.062" stop-color="#3fffc0"/><stop offset="0.125" stop-color="#30ffcf"/><stop offset="0.188" stop-color="#22ffdd"/><stop offset="0.250" stop-color="#14ffeb"/><stop offset="0.312" stop-color="#06fff9"/><stop offset="0.375" stop-color="#00f7ff"/><stop offset="0.438" stop-color="#00eaff"/><stop offset="0.500" stop-color="#00dcff"/><stop offset="0.562" stop-color="#00c8ff"/><stop offset="0.625" stop-color="#00b4ff"/><stop offset="0.688" stop-color="#009fff"/><stop offset="0.750" stop-color="#008bff"/><stop offset="0.812" stop-color="#0077ff"/><stop offset="0.875" stop-color="#0064ff"/><stop offset="0.938" stop-color="#0058ff"/><stop offset="1.000" stop-color="#004cff"/></linearGradient><linearGradient id="r119"><stop offset="0.000" stop-color="#4bffb4"/><stop offset="0.062" stop-color="#3effc1"/><stop offset="0.125" stop-color="#2fffd0"/><stop offset="0.188" stop-color="#21ffde"/><stop offset="0.250" stop-color="#13ffec"/><stop offset="0.312" stop-color="#05fffa"/><stop offset="0.375" stop-color="#00f6ff"/><stop offset="0.438" stop-color="#00e9ff"/><stop offset="0.500" stop-color="#00dbff"/><stop offset="0.562" stop-color="#00c7ff"/><stop offset="0.625" stop-color="#00b3ff"/><stop offset="0.688" stop-color="#009fff"/><stop offset="0.750" stop-color="#008bff"/><stop offset="0.812" stop-color="#0077ff"/><stop offset="0.875" stop-color="#0063ff"/><stop offset="0.938" stop-color="#0058ff"/><stop offset="1.000" stop-color="#004dff"/></linearGradient><linearGradient id="r120"><stop offset="0.000" stop-color="#4bffb4"/><stop offset="0.062" stop-color="#3dffc2"/><stop offset="0.125" stop-color="#2effd1"/><stop offset="0.188" stop-color="#20ffdf"/><stop offset="0.250" stop-color="#12ffed"/><stop offset="0.312" stop-color="#04fffb"/><stop offset="0.375" stop-color="#00f6ff"/><stop offset="0.438" stop-color="#00e8ff"/><stop offset="0.500" stop-color="#00daff"/><stop offset="0.562" stop-color="#00c6ff"/><stop offset="0.625" stop-color="#00b2ff"/><stop offset="0.688" stop-color="#009eff"/><stop offset="0.750" stop-color="#008aff"/><stop offset="0.812" stop-color="#0076ff"/><stop offset="0.875" stop-color="#0063ff"/><stop offset="0.938" stop-color="#0058ff"/><stop offset="1.000" stop-color="#004dff"/></linearGradient><linearGradient id="r121"><stop offset="0.000" stop-color="#4affb5"/><stop offset="0.062" stop-color="#3cffc3"/><stop offset="0.125" stop-color="#2dffd2"/><stop offset="0.188" stop-color="#1fffe0"/><stop offset="0.250" stop-color="#11ffee"/><stop offset="0.312" stop-color="#03fffc"/><stop offset="0.375" stop-color="#00f5ff"/><stop offset="0.438" stop-color="#00e7ff"/><stop offset="0.500" stop-color="#00d9ff"/><stop offset="0.562" stop-color="#00c5ff"/><stop offset="0.625" stop-color="#00b1ff"/><stop offset="0.688" stop-color="#009eff"/><stop offset="0.750" stop-color="#008aff"/><stop offset="0.812" stop-color="#0076ff"/><stop offset="0.875" stop-color="#0063ff"/><stop offset="0.938" stop-color="#0058ff"/><stop offset="1.000" stop-color="#004dff"/></linearGradient><linearGradient id="r122"><stop offset="0.000" stop-color="#49ffb6"/><stop offset="0.062" stop-color="#3bffc4"/><stop offset="0.125" stop-color="#2cffd3"/><stop offset="0.188" stop-color="#1effe1"/><stop offset="0.250" stop-color="#10ffef"/><stop offset="0.312" stop-color="#03fffc"/><stop offset="0.375" stop-color="#00f4ff"/><stop offset="0.438" stop-color="#00e6ff"/><stop offset="0.500" stop-color="#00d8ff"/><stop offset="0.562" stop-color="#00c5ff"/><stop offset="0.625" stop-color="#00b1ff"/><stop offset="0.688" stop-color="#009dff"/><stop offset="0.750" stop-color="#0089ff"/><stop offset="0.812" stop-color="#0076ff"/><stop offset="0.875" stop-color="#0062ff"/><stop offset="0.938" stop-color="#0057ff"/><stop offset="1.000" stop-color="#004dff"/></linearGradient><linearGradient id="r123"><stop offset="0.000" stop-color="#48ffb7"/><stop offset="0.062" stop-color="#3affc5"/><stop offset="0.125" stop-color="#2bffd4"/><stop offset="0.188" stop-color="#1dffe2"/><stop offset="0.250" stop-color="#0ffff0"/><stop offset="0.312" stop-color="#02fffd"/><stop offset="0.375" stop-color="#00f3ff"/><stop offset="0.438" stop-color="#00e5ff"/><stop offset="0.500" stop-color="#00d7ff"/><stop offset="0.562" stop-color="#00c4ff"/><stop offset="0.625" stop-color="#00b0ff"/><stop offset="0.688" stop-color="#009cff"/><stop offset="0.750" stop-color="#0089ff"/><stop offset="0.812" stop-color="#0075ff"/><stop offset="0.875" stop-color="#0062ff"/><stop offset="0.938" stop-color="#0057ff"/><stop offset="1.000" stop-color="#004dff"/></linearGradient><linearGradient id="r124"><stop offset="0.000" stop-color="#47ffb8"/><stop offset="0.062" stop-color="#39ffc6"/><stop offset="0.125" stop-color="#2affd5"/><stop offset="0.188" stop-color="#1cffe3"/><stop offset="0.250" stop-color="#0ffff0"/><stop offset="0.312" stop-color="#01fffe"/><stop offset="0.375" stop-color="#00f2ff"/><stop offset="0.438" stop-color="#00e4ff"/><stop offset="0.500" stop-color="#00d6ff"/><stop offset="0.562" stop-color="#00c3ff"/><stop offset="0.625" stop-color="#00afff"/><stop offset="0.688" stop-color="#009cff"/><stop offset="0.750" stop-color="#0088ff"/><stop offset="0.812" stop-color="#0075ff"/><stop offset="0.875" stop-color="#0062ff"/><stop offset="0.938" stop-color="#0057ff"/><stop offset="1.000" stop-color="#004dff"/></linearGradient><linearGradient id="r125"><stop offset="0.000" stop-color="#46ffb9"/><stop offset="0.062" stop-color="#38ffc7"/><stop offset="0.125" stop-color="#29ffd6"/><stop offset="0.188" stop-color="#1bffe4"/><stop offset="0.250" stop-color="#0efff1"/><stop offset="0.312" stop-color="#00ffff"/><stop offset="0.375" stop-color="#00f1ff"/><stop offset="0.438" stop-color="#00e3ff"/><stop offset="0.500" stop-color="#00d5ff"/><stop offset="0.562" stop-color="#00c2ff"/><stop offset="0.625" stop-color="#00afff"/><stop offset="0.688" stop-color="#009bff"/><stop offset="0.750" stop-color="#0088ff"/><stop offset="0.812" stop-color="#0074ff"/><stop offset="0.875" stop-color="#0061ff"/><stop offset="0.938" stop-color="#0057ff"/><stop offset="1.000" stop-color="#004dff"/></linearGradient><linearGradient id="r126"><stop offset="0.000" stop-color="#45ffba"/><stop offset="0.062" stop-color="#37ffc8"/><stop offset="0.125" stop-color="#29ffd6"/><stop offset="0.188" stop-color="#1bffe4"/><stop offset="0.250" stop-color="#0dfff2"/><stop offset="0.312" stop-color="#00feff"/><stop offset="0.375" stop-color="#00f0ff"/><stop offset="0.438" stop-color="#00e2ff"/><stop offset="0.500" stop-color="#00d4ff"/><stop offset="0.562" stop-color="#00c1ff"/><stop offset="0.625" stop-color="#00aeff"/><stop offset="0.688" stop-color="#009bff"/><stop offset="0.750" stop-color="#0087ff"/><stop offset="0.812" stop-color="#0074ff"/><stop offset="0.875" stop-color="#0061ff"/><stop offset="0.938" stop-color="#0057ff"/><stop offset="1.000" stop-color="#004dff"/></linearGradient><linearGradient id="r127"><stop offset="0.000" stop-color="#44ffbb"/><stop offset="0.062" stop-color="#36ffc9"/><stop offset="0.125" stop-color="#28ffd7"/><stop offset="0.188" stop-color="#1affe5"/><stop offset="0.250" stop-color="#0cfff3"/><stop offset="0.312" stop-color="#00fdff"/><stop offset="0.375" stop-color="#00efff"/><stop offset="0.438" stop-color="#00e1ff"/><stop offset="0.500" stop-color="#00d3ff"/><stop offset="0.562" stop-color="#00c0ff"/><stop offset="0.625" stop-color="#00adff"/><stop offset="0.688" stop-color="#009aff"/><stop offset="0.750" stop-color="#0087ff"/><stop offset="0.812" stop-color="#0074ff"/><stop offset="0.875" stop-color="#0061ff"/><stop offset="0.938" stop-color="#0057ff"/><stop offset="1.000" stop-color="#004dff"/></linearGradient><linearGradient id="r128"><stop offset="0.000" stop-color="#43ffbc"/><stop offset="0.062" stop-color="#35ffca"/><stop offset="0.125" stop-color="#27ffd8"/><stop offset="0.188" stop-color="#19ffe6"/><stop offset="0.250" stop-color="#0bfff4"/><stop offset="0.312" stop-color="#00fcff"/><stop offset="0.375" stop-color="#00eeff"/><stop offset="0.438" stop-color="#00e0ff"/><stop offset="0.500" stop-color="#00d3ff"/><stop offset="0.562" stop-color="#00c0ff"/><stop offset="0.625" stop-color="#00acff"/><stop offset="0.688" stop-color="#0099ff"/><stop offset="0.750" stop-color="#0086ff"/><stop offset="0.812" stop-color="#0073ff"/><stop offset="0.875" stop-color="#0061ff"/><stop offset="0.938" stop-color="#0057ff"/><stop offset="1.000" stop-color="#004dff"/></linearGradient><linearGradient id="r129"><stop offset="0.000" stop-color="#42ffbd"/><stop offset="0.062" stop-color="#35ffca"/><stop offset="0.125" stop-color="#26ffd9"/><stop offset="0.188" stop-color="#18ffe7"/><stop offset="0.250" stop-color="#0afff5"/><stop offset="0.312" stop-color="#00fbff"/><stop offset="0.375" stop-color="#00edff"/><stop offset="0.438" stop-color="#00dfff"/><stop offset="0.500" stop-color="#00d2ff"/><stop offset="0.562" stop-color="#00bfff"/><stop offset="0.625" stop-color="#00acff"/><stop offset="0.688" stop-color="#0099ff"/><stop offset="0.750" stop-color="#0086ff"/><stop offset="0.812" stop-color="#0073ff"/><stop offset="0.875" stop-color="#0060ff"/><stop offset="0.938" stop-color="#0056ff"/><stop offset="1.000" stop-color="#004dff"/></linearGradient><linearGradient id="r130"><stop offset="0.000" stop-color="#42ffbd"/><stop offset="0.062" stop-color="#34ffcb"/><stop offset="0.125" stop-color="#26ffd9"/><stop offset="0.188" stop-color="#18ffe7"/><stop offset="0.250" stop-color="#0afff5"/><stop offset="0.312" stop-color="#00fbff"/><stop offset="0.375" stop-color="#00edff"/><stop offset="0.438" stop-color="#00dfff"/><stop offset="0.500" stop-color="#00d1ff"/><stop offset="0.562" stop-color="#00bfff"/><stop offset="0.625" stop-color="#00acff"/><stop offset="0.688" stop-color="#0099ff"/><stop offset="0.750" stop-color="#0086ff"/><stop offset="0.812" stop-color="#0073ff"/><stop offset="0.875" stop-color="#0060ff"/><stop offset="0.938" stop-color="#0056ff"/><stop offset="1.000" stop-color="#004dff"/></linearGradient><linearGradient id="r131"><stop offset="0.000" stop-color="#42ffbd"/><stop offset="0.062" stop-color="#34ffcb"/><stop offset="0.125" stop-color="#25ffda"/><stop offset="0.188" stop-color="#17ffe8"/><stop offset="0.250" stop-color="#0afff5"/><stop offset="0.312" stop-color="#00fbff"/><stop offset="0.375" stop-color="#00edff"/><stop offset="0.438" stop-color="#00dfff"/><stop offset="0.500" stop-color="#00d1ff"/><stop offset="0.562" stop-color="#00beff"/><stop offset="0.625" stop-color="#00abff"/><stop offset="0.688" stop-color="#0098ff"/><stop offset="0.750" stop-color="#0086ff"/><stop offset="0.812" stop-color="#0073ff"/><stop offset="0.875" stop-color="#0060ff"/><stop offset="0.938" stop-color="#0056ff"/><stop offset="1.000" stop-color="#004dff"/></linearGradient><linearGradient id="r132"><stop offset="0.000" stop-color="#42ffbd"/><stop offset="0.062" stop-color="#34ffcb"/><stop offset="0.125" stop-color="#25ffda"/><stop offset="0.188" stop-color="#17ffe8"/><stop offset="0.250" stop-color="#09fff6"/><stop offset="0.312" stop-color="#00fbff"/><stop offset="0.375" stop-color="#00edff"/><stop offset="0.438" stop-color="#00dfff"/><stop offset="0.500" stop-color="#00d1ff"/><stop offset="0.562" stop-color="#00beff"/><stop offset="0.625" stop-color="#00abff"/><stop offset="0.688" stop-color="#0098ff"/><stop offset="0.750" stop-color="#0085ff"/><stop offset="0.812" stop-color="#0073ff"/><stop offset="0.875" stop-color="#0060ff"/><stop offset="0.938" stop-color="#0056ff"/><stop offset="1.000" stop-color="#004dff"/></linearGradient><linearGradient id="r133"><stop offset="0.000" stop-color="#41ffbe"/><stop offset="0.062" stop-color="#34ffcb"/><stop offset="0.125" stop-color="#25ffda"/><stop offset="0.188" stop-color="#17ffe8"/><stop offset="0.250" stop-color="#09fff6"/><stop offset="0.312" stop-color="#00fbff"/><stop offset="0.375" stop-color="#00edff"/><stop offset="0.438" stop-color="#00dfff"/><stop offset="0.500" stop-color="#00d1ff"/><stop offset="0.562" stop-color="#00beff"/><stop offset="0.625" stop-color="#00abff"/><stop offset="0.688" stop-color="#0098ff"/><stop offset="0.750" stop-color="#0085ff"/><stop offset="0.812" stop-color="#0073ff"/><stop offset="0.875" stop-color="#0060ff"/><stop offset="0.938" stop-color="#0056ff"/><stop offset="1.000" stop-color="#004dff"/></linearGradient><linearGradient id="r134"><stop offset="0.000" stop-color="#41ffbe"/><stop offset="0.062" stop-color="#33ffcc"/><stop offset="0.125" stop-color="#25ffda"/><stop offset="0.188" stop-color="#17ffe8"/><stop offset="0.250" stop-color="#09fff6"/><stop offset="0.312" stop-color="#00faff"/><stop offset="0.375" stop-color="#00ecff"/><stop offset="0.438" stop-color="#00deff"/><stop offset="0.500" stop-color="#00d0ff"/><stop offset="0.562" stop-color="#00beff"/><stop offset="0.625" stop-color="#00abff"/><stop offset="0.688" stop-color="#0098ff"/><stop offset="0.750" stop-color="#0085ff"/><stop offset="0.812" stop-color="#0073ff"/><stop offset="0.875" stop-color="#0060ff"/><stop offset="0.938" stop-color="#0056ff"/><stop offset="1.000" stop-color="#004dff"/></linearGradient><linearGradient id="r135"><stop offset="0.000" stop-color="#41ffbe"/><stop offset="0.062" stop-color="#33ffcc"/><stop offset="0.125" stop-color="#24ffdb"/><stop offset="0.188" stop-color="#17ffe8"/><stop offset="0.250" stop-color="#09fff6"/><stop offset="0.312" stop-color="#00faff"/><stop offset="0.375" stop-color="#00ecff"/><stop offset="0.438" stop-color="#00deff"/><stop offset="0.500" stop-color="#00d0ff"/><stop offset="0.562" stop-color="#00beff"/><stop offset="0.625" stop-color="#00abff"/><stop offset="0.688" stop-color="#0098ff"/><stop offset="0.750" stop-color="#0085ff"/><stop offset="0.812" stop-color="#0072ff"/><stop offset="0.875" stop-color="#0060ff"/><stop offset="0.938" stop-color="#0056ff"/><stop offset="1.000" stop-color="#004dff"/></linearGradient><linearGradient id="r136"><stop offset="0.000" stop-color="#41ffbe"/><stop offset="0.062" stop-color="#33ffcc"/><stop offset="0.125" stop-color="#24ffdb"/><stop offset="0.188" stop-color="#16ffe9"/><stop offset="0.250" stop-color="#09fff6"/><stop offset="0.312" stop-color="#00faff"/><stop offset="0.375" stop-color="#00ecff"/><stop offset="0.438" stop-color="#00deff"/><stop offset="0.500" stop-color="#00d0ff"/><stop offset="0.562" stop-color="#00bdff"/><stop offset="0.625" stop-color="#00abff"/><stop offset="0.688" stop-color="#0098ff"/><stop offset="0.750" stop-color="#0085ff"/><stop offset="0.812" stop-color="#0072ff"/><stop offset="0.875" stop-color="#0060ff"/><stop offset="0.938" stop-color="#0056ff"/><stop offset="1.000" stop-color="#004dff"/></linearGradient><linearGradient id="r137"><stop offset="0.000" stop-color="#40ffbf"/><stop offset="0.062" stop-color="#33ffcc"/><stop offset="0.125" stop-color="#24ffdb"/><stop offset="0.188" stop-color="#16ffe9"/><stop offset="0.250" stop-color="#09fff6"/><stop offset="0.312" stop-color="#00faff"/><stop offset="0.375" stop-color="#00ecff"/><stop offset="0.438" stop-color="#00deff"/><stop offset="0.500" stop-color="#00d0ff"/><stop offset="0.562" stop-color="#00bdff"/><stop offset="0.625" stop-color="#00aaff"/><stop offset="0.688" stop-color="#0098ff"/><stop offset="0.750" stop-color="#0085ff"/><stop offset="0.812" stop-color="#0072ff"/><stop offset="0.875" stop-color="#0060ff"/><stop offset="0.938" stop-color="#0056ff"/><stop offset="1.000" stop-color="#004dff"/></linearGradient><linearGradient id="r138"><stop offset="0.000" stop-color="#40ffbf"/><stop offset="0.062" stop-color="#32ffcd"/><stop offset="0.125" stop-color="#24ffdb"/><stop offset="0.188" stop-color="#16ffe9"/><stop offset="0.250" stop-color="#08fff7"/><stop offset="0.312" stop-color="#00faff"/><stop offset="0.375" stop-color="#00ecff"/><stop offset="0.438" stop-color="#00deff"/><stop offset="0.500" stop-color="#00cfff"/><stop offset="0.562" stop-color="#00bdff"/><stop offset="0.625" stop-color="#00aaff"/><stop offset="0.688" stop-color="#0098ff"/><stop offset="0.750" stop-color="#0085ff"/><stop offset="0.812" stop-color="#0072ff"/><stop offset="0.875" stop-color="#0060ff"/><stop offset="0.938" stop-color="#0056ff"/><stop offset="1.000" stop-color="#004dff"/></linearGradient><linearGradient id="r139"><stop offset="0.000" stop-color="#40ffbf"/><stop offset="0.062" stop-color="#32ffcd"/><stop offset="0.125" stop-color="#23ffdc"/><stop offset="0.188" stop-color="#16ffe9"/><stop offset="0.250" stop-color="#08fff7"/><stop offset="0.312" stop-color="#00faff"/><stop offset="0.375" stop-color="#00ecff"/><stop offset="0.438" stop-color="#00ddff"/><stop offset="0.500" stop-color="#00cfff"/><stop offset="0.562" stop-color="#00bdff"/><stop offset="0.625" stop-color="#00aaff"/><stop offset="0.688" stop-color="#0098ff"/><stop offset="0.750" stop-color="#0085ff"/><stop offset="0.812" stop-color="#0072ff"/><stop offset="0.875" stop-color="#0060ff"/><stop offset="0.938" stop-color="#0056ff"/><stop offset="1.000" stop-color="#004dff"/></linearGradient><linearGradient id="r140"><stop offset="0.000" stop-color="#40ffbf"/><stop offset="0.062" stop-color="#32ffcd"/><stop offset="0.125" stop-color="#23ffdc"/><stop offset="0.188" stop-color="#16ffe9"/><stop offset="0.250" stop-color="#08fff7"/><stop offset="0.312" stop-color="#00faff"/><stop offset="0.375" stop-color="#00ecff"/><stop offset="0.438" stop-color="#00ddff"/><stop offset="0.500" stop-color="#00cfff"/><stop offset="0.562" stop-color="#00bdff"/><stop offset="0.625" stop-color="#00aaff"/><stop offset="0.688" stop-color="#0097ff"/><stop offset="0.750" stop-color="#0085ff"/><stop offset="0.812" stop-color="#0072ff"/><stop offset="0.875" stop-color="#0060ff"/><stop offset="0.938" stop-color="#0056ff"/><stop offset="1.000" stop-color="#004dff"/></linearGradient><linearGradient id="r141"><stop offset="0.000" stop-color="#3fffc0"/><stop offset="0.062" stop-color="#32ffcd"/><stop offset="0.125" stop-color="#23ffdc"/><stop offset="0.188" stop-color="#15ffea"/><stop offset="0.250" stop-color="#08fff7"/><stop offset="0.312" stop-color="#00faff"/><stop offset="0.375" stop-color="#00ebff"/><stop offset="0.438" stop-color="#00ddff"/><stop offset="0.500" stop-color="#00cfff"/><stop offset="0.562" stop-color="#00bcff"/><stop offset="0.625" stop-color="#00aaff"/><stop offset="0.688" stop-color="#0097ff"/><stop offset="0.750" stop-color="#0085ff"/><stop offset="0.812" stop-color="#0072ff"/><stop offset="0.875" stop-color="#0060ff"/><stop offset="0.938" stop-color="#0056ff"/><stop offset="1.000" stop-color="#004dff"/></linearGradient><linearGradient id="r142"><stop offset="0.000" stop-color="#3fffc0"/><stop offset="0.062" stop-color="#31ffce"/><stop offset="0.125" stop-color="#23ffdc"/><stop offset="0.188" stop-color="#15ffea"/><stop offset="0.250" stop-color="#08fff7"/><stop offset="0.312" stop-color="#00faff"/><stop offset="0.375" stop-color="#00ebff"/><stop offset="0.438" stop-color="#00ddff"/><stop offset="0.500" stop-color="#00cfff"/><stop offset="0.562" stop-color="#00bcff"/><stop offset="0.625" stop-color="#00aaff"/><stop offset="0.688" stop-color="#0097ff"/><stop offset="0.750" stop-color="#0085ff"/><stop offset="0.812" stop-color="#0072ff"/><stop offset="0.875" stop-color="#0060ff"/><stop offset="0.938" stop-color="#0056ff"/><stop offset="1.000" stop-color="#004dff"/></linearGradient><linearGradient id="r143"><stop offset="0.000" stop-color="#3fffc0"/><stop offset="0.062" stop-color="#31ffce"/><stop offset="0.125" stop-color="#22ffdd"/><stop offset="0.188" stop-color="#15ffea"/><stop offset="0.250" stop-color="#08fff7"/><stop offset="0.312" stop-color="#00f9ff"/><stop offset="0.375" stop-color="#00ebff"/><stop offset="0.438" stop-color="#00ddff"/><stop offset="0.500" stop-color="#00ceff"/><stop offset="0.562" stop-color="#00bcff"/><stop offset="0.625" stop-color="#00aaff"/><stop offset="0.688" stop-color="#0097ff"/><stop offset="0.750" stop-color="#0085ff"/><stop offset="0.812" stop-color="#0072ff"/><stop offset="0.875" stop-color="#0060ff"/><stop offset="0.938" stop-color="#0056ff"/><stop offset="1.000" stop-color="#004dff"/></linearGradient><linearGradient id="r144"><stop offset="0.000" stop-color="#3fffc0"/><stop offset="0.062" stop-color="#31ffce"/><stop offset="0.125" stop-color="#22ffdd"/><stop offset="0.188" stop-color="#15ffea"/><stop offset="0.250" stop-color="#07fff8"/><stop offset="0.312" stop-color="#00f9ff"/><stop offset="0.375" stop-color="#00ebff"/><stop offset="0.438" stop-color="#00dcff"/><stop offset="0.500" stop-color="#00ceff"/><stop offset="0.562" stop-color="#00bcff"/><stop offset="0.625" stop-color="#00a9ff"/><stop offset="0.688" stop-color="#0097ff"/><stop offset="0.750" stop-color="#0085ff"/><stop offset="0.812" stop-color="#0072ff"/><stop offset="0.875" stop-color="#0060ff"/><stop offset="0.938" stop-color="#0056ff"/><stop offset="1.000" stop-color="#004dff"/></linearGradient><linearGradient id="r145"><stop offset="0.000" stop-color="#3effc1"/><stop offset="0.062" stop-color="#31ffce"/><stop offset="0.125" stop-color="#22ffdd"/><stop offset="0.188" stop-color="#15ffea"/><stop offset="0.250" stop-color="#07fff8"/><stop offset="0.312" stop-color="#00f9ff"/><stop offset="0.375" stop-color="#00ebff"/><stop offset="0.438" stop-color="#00dcff"/><stop offset="0.500" stop-color="#00ceff"/><stop offset="0.562" stop-color="#00bcff"/><stop offset="0.625" stop-color="#00a9ff"/><stop offset="0.688" stop-color="#0097ff"/><stop offset="0.750" stop-color="#0084ff"/><stop offset="0.812" stop-color="#0072ff"/><stop offset="0.875" stop-color="#0060ff"/><stop offset="0.938" stop-color="#0056ff"/><stop offset="1.000" stop-color="#004dff"/></linearGradient><linearGradient id="r146"><stop offset="0.000" stop-color="#3effc1"/><stop offset="0.062" stop-color="#31ffce"/><stop offset="0.125" stop-color="#22ffdd"/><stop offset="0.188" stop-color="#14ffeb"/><stop offset="0.250" stop-color="#07fff8"/><stop offset="0.312" stop-color="#00f9ff"/><stop offset="0.375" stop-color="#00ebff"/><stop offset="0.438" stop-color="#00dcff"/><stop offset="0.500" stop-color="#00ceff"/><stop offset="0.562" stop-color="#00bbff"/><stop offset="0.625" stop-color="#00a9ff"/><stop offset="0.688" stop-color="#0097ff"/><stop offset="0.750" stop-color="#0084ff"/><stop offset="0.812" stop-color="#0072ff"/><stop offset="0.875" stop-color="#0060ff"/><stop offset="0.938" stop-color="#0056ff"/><stop offset="1.000" stop-color="#004dff"/></linearGradient><linearGradient id="r147"><stop offset="0.000" stop-color="#3effc1"/><stop offset="0.062" stop-color="#30ffcf"/><stop offset="0.125" stop-color="#21ffde"/><stop offset="0.188" stop-color="#14ffeb"/><stop offset="0.250" stop-color="#07fff8"/><stop offset="0.312" stop-color="#00f9ff"/><stop offset="0.375" stop-color="#00eaff"/><stop offset="0.438" stop-color="#00dcff"/><stop offset="0.500" stop-color="#00cdff"/><stop offset="0.562" stop-color="#00bbff"/><stop offset="0.625" stop-color="#00a9ff"/><stop offset="0.688" stop-color="#0097ff"/><stop offset="0.750" stop-color="#0084ff"/><stop offset="0.812" stop-color="#0072ff"/><stop offset="0.875" stop-color="#0060ff"/><stop offset="0.938" stop-color="#0056ff"/><stop offset="1.000" stop-color="#004dff"/></linearGradient><linearGradient id="r148"><stop offset="0.000" stop-color="#3effc1"/><stop offset="0.062" stop-color="#30ffcf"/><stop offset="0.125" stop-color="#21ffde"/><stop offset="0.188" stop-color="#14ffeb"/><stop offset="0.250" stop-color="#07fff8"/><stop offset="0.312" stop-color="#00f9ff"/><stop offset="0.375" stop-color="#00eaff"/><stop offset="0.438" stop-color="#00dcff"/><stop offset="0.500" stop-color="#00cdff"/><stop offset="0.562" stop-color="#00bbff"/><stop offset="0.625" stop-color="#00a9ff"/><stop offset="0.688" stop-color="#0096ff"/><stop offset="0.750" stop-color="#0084ff"/><stop offset="0.812" stop-color="#0072ff"/><stop offset="0.875" stop-color="#0060ff"/><stop offset="0.938" stop-color="#0056ff"/><stop offset="1.000" stop-color="#004dff"/></linearGradient><linearGradient id="r149"><stop offset="0.000" stop-color="#3effc1"/><stop offset="0.062" stop-color="#30ffcf"/><stop offset="0.125" stop-color="#21ffde"/><stop offset="0.188" stop-color="#14ffeb"/><stop offset="0.250" stop-color="#07fff8"/><stop offset="0.312" stop-color="#00f9ff"/><stop offset="0.375" stop-color="#00eaff"/><stop offset="0.438" stop-color="#00dcff"/><stop offset="0.500" stop-color="#00cdff"/><stop offset="0.562" stop-color="#00bbff"/><stop offset="0.625" stop-color="#00a9ff"/><stop offset="0.688" stop-color="#0096ff"/><stop offset="0.750" stop-color="#0084ff"/><stop offset="0.812" stop-color="#0072ff"/><stop offset="0.875" stop-color="#0060ff"/><stop offset="0.938" stop-color="#0056ff"/><stop offset="1.000" stop-color="#004dff"/></linearGradient><linearGradient id="r150"><stop offset="0.000" stop-color="#3dffc2"/><stop offset="0.062" stop-color="#30ffcf"/><stop offset="0.125" stop-color="#21ffde"/><stop offset="0.188" stop-color="#13ffec"/><stop offset="0.250" stop-color="#07fff8"/><stop offset="0.312" stop-color="#00f9ff"/><stop offset="0.375" stop-color="#00eaff"/><stop offset="0.438" stop-color="#00dbff"/><stop offset="0.500" stop-color="#00cdff"/><stop offset="0.562" stop-color="#00bbff"/><stop offset="0.625" stop-color="#00a8ff"/><stop offset="0.688" stop-color="#0096ff"/><stop offset="0.750" stop-color="#0084ff"/><stop offset="0.812" stop-color="#0072ff"/><stop offset="0.875" stop-color="#0060ff"/><stop offset="0.938" stop-color="#0056ff"/><stop offset="1.000" stop-color="#004dff"/></linearGradient><linearGradient id="r151"><stop offset="0.000" stop-color="#3dffc2"/><stop offset="0.062" stop-color="#2fffd0"/><stop offset="0.125" stop-color="#20ffdf"/><stop offset="0.188" stop-color="#13ffec"/><stop offset="0.250" stop-color="#06fff9"/><stop offset="0.312" stop-color="#00f8ff"/><stop offset="0.375" stop-color="#00eaff"/><stop offset="0.438" stop-color="#00dbff"/><stop offset="0.500" stop-color="#00ccff"/><stop offset="0.562" stop-color="#00baff"/><stop offset="0.625" stop-color="#00a8ff"/><stop offset="0.688" stop-color="#0096ff"/><stop offset="0.750" stop-color="#0084ff"/><stop offset="0.812" stop-color="#0072ff"/><stop offset="0.875" stop-color="#0060ff"/><stop offset="0.938" stop-color="#0056ff"/><stop offset="1.000" stop-color="#004dff"/></linearGradient><linearGradient id="r152"><stop offset="0.000" stop-color="#3dffc2"/><stop offset="0.062" stop-color="#2fffd0"/><stop offset="0.125" stop-color="#20ffdf"/><stop offset="0.188" stop-color="#13ffec"/><stop offset="0.250" stop-color="#06fff9"/><stop offset="0.312" stop-color="#00f8ff"/><stop offset="0.375" stop-color="#00eaff"/><stop offset="0.438" stop-color="#00dbff"/><stop offset="0.500" stop-color="#00ccff"/><stop offset="0.562" stop-color="#00baff"/><stop offset="0.625" stop-color="#00a8ff"/><stop offset="0.688" stop-color="#0096ff"/><stop offset="0.750" stop-color="#0084ff"/><stop offset="0.812" stop-color="#0072ff"/><stop offset="0.875" stop-color="#0060ff"/><stop offset="0.938" stop-color="#0056ff"/><stop offset="1.000" stop-color="#004dff"/></linearGradient><linearGradient id="r153"><stop offset="0.000" stop-color="#3dffc2"/><stop offset="0.062" stop-color="#2fffd0"/><stop offset="0.125" stop-color="#20ffdf"/><stop offset="0.188" stop-color="#13ffec"/><stop offset="0.250" stop-color="#06fff9"/><stop offset="0.312" stop-color="#00f8ff"/><stop offset="0.375" stop-color="#00eaff"/><stop offset="0.438" stop-color="#00dbff"/><stop offset="0.500" stop-color="#00ccff"/><stop offset="0.562" stop-color="#00baff"/><stop offset="0.625" stop-color="#00a8ff"/><stop offset="0.688" stop-color="#0096ff"/><stop offset="0.750" stop-color="#0084ff"/><stop offset="0.812" stop-color="#0072ff"/><stop offset="0.875" stop-color="#0060ff"/><stop offset="0.938" stop-color="#0056ff"/><stop offset="1.000" stop-color="#004dff"/></linearGradient><linearGradient id="r154"><stop offset="0.000" stop-color="#3cffc3"/><stop offset="0.062" stop-color="#2fffd0"/><stop offset="0.125" stop-color="#20ffdf"/><stop offset="0.188" stop-color="#13ffec"/><stop offset="0.250" stop-color="#06fff9"/><stop offset="0.312" stop-color="#00f8ff"/><stop offset="0.375" stop-color="#00e9ff"/><stop offset="0.438" stop-color="#00dbff"/><stop offset="0.500" stop-color="#00ccff"/><stop offset="0.562" stop-color="#00baff"/><stop offset="0.625" stop-color="#00a8ff"/><stop offset="0.688" stop-color="#0096ff"/><stop offset="0.750" stop-color="#0084ff"/><stop offset="0.812" stop-color="#0072ff"/><stop offset="0.875" stop-color="#0060ff"/><stop offset="0.938" stop-color="#0056ff"/><stop offset="1.000" stop-color="#004dff"/></linearGradient><linearGradient id="r155"><stop offset="0.000" stop-color="#3cffc3"/><stop offset="0.062" stop-color="#2effd1"/><stop offset="0.125" stop-color="#20ffdf"/><stop offset="0.188" stop-color="#12ffed"/><stop offset="0.250" stop-color="#06fff9"/><stop offset="0.312" stop-color="#00f8ff"/><stop offset="0.375" stop-color="#00e9ff"/><stop offset="0.438" stop-color="#00daff"/><stop offset="0.500" stop-color="#00cbff"/><stop offset="0.562" stop-color="#00baff"/><stop offset="0.625" stop-color="#00a8ff"/><stop offset="0.688" stop-color="#0096ff"/><stop offset="0.750" stop-color="#0084ff"/><stop offset="0.812" stop-color="#0072ff"/><stop offset="0.875" stop-color="#0060ff"/><stop offset="0.938" stop-color="#0056ff"/><stop offset="1.000" stop-color="#004dff"/></linearGradient><linearGradient id="r156"><stop offset="0.000" stop-color="#3cffc3"/><stop offset="0.062" stop-color="#2effd1"/><stop offset="0.125" stop-color="#1fffe0"/><stop offset="0.188" stop-color="#12ffed"/><stop offset="0.250" stop-color="#06fff9"/><stop offset="0.312" stop-color="#00f8ff"/><stop offset="0.375" stop-color="#00e9ff"/><stop offset="0.438" stop-color="#00daff"/><stop offset="0.500" stop-color="#00cbff"/><stop offset="0.562" stop-color="#00b9ff"/><stop offset="0.625" stop-color="#00a7ff"/><stop offset="0.688" stop-color="#0096ff"/><stop offset="0.750" stop-color="#0084ff"/><stop offset="0.812" stop-color="#0072ff"/><stop offset="0.875" stop-color="#0060ff"/><stop offset="0.938" stop-color="#0056ff"/><stop offset="1.000" stop-color="#004dff"/></linearGradient><linearGradient id="r157"><stop offset="0.000" stop-color="#3cffc3"/><stop offset="0.062" stop-color="#2effd1"/><stop offset="0.125" stop-color="#1fffe0"/><stop offset="0.188" stop-color="#12ffed"/><stop offset="0.250" stop-color="#05fffa"/><stop offset="0.312" stop-color="#00f8ff"/><stop offset="0.375" stop-color="#00e9ff"/><stop offset="0.438" stop-color="#00daff"/><stop offset="0.500" stop-color="#00cbff"/><stop offset="0.562" stop-color="#00b9ff"/><stop offset="0.625" stop-color="#00a7ff"/><stop offset="0.688" stop-color="#0095ff"/><stop offset="0.750" stop-color="#0084ff"/><stop offset="0.812" stop-color="#0072ff"/><stop offset="0.875" stop-color="#0060ff"/><stop offset="0.938" stop-color="#0056ff"/><stop offset="1.000" stop-color="#004dff"/></linearGradient><linearGradient id="r158"><stop offset="0.000" stop-color="#3bffc4"/><stop offset="0.062" stop-color="#2effd1"/><stop offset="0.125" stop-color="#1fffe0"/><stop offset="0.188" stop-color="#12ffed"/><stop offset="0.250" stop-color="#05fffa"/><stop offset="0.312" stop-color="#00f8ff"/><stop offset="0.375" stop-color="#00e9ff"/><stop offset="0.438" stop-color="#00daff"/><stop offset="0.500" stop-color="#00cbff"/><stop offset="0.562" stop-color="#00b9ff"/><stop offset="0.625" stop-color="#00a7ff"/><stop offset="0.688" stop-color="#0095ff"/><stop offset="0.750" stop-color="#0083ff"/><stop offset="0.812" stop-color="#0072ff"/><stop offset="0.875" stop-color="#0060ff"/><stop offset="0.938" stop-color="#0056ff"/><stop offset="1.000" stop-color="#004dff"/></linearGradient><linearGradient id="r159"><stop offset="0.000" stop-color="#3bffc4"/><stop offset="0.062" stop-color="#2dffd2"/><stop offset="0.125" stop-color="#1fffe0"/><stop offset="0.188" stop-color="#12ffed"/><stop offset="0.250" stop-color="#05fffa"/><stop offset="0.312" stop-color="#00f7ff"/><stop offset="0.375" stop-color="#00e9ff"/><stop offset="0.438" stop-color="#00daff"/><stop offset="0.500" stop-color="#00caff"/><stop offset="0.562" stop-color="#00b9ff"/><stop offset="0.625" stop-color="#00a7ff"/><stop offset="0.688" stop-color="#0095ff"/><stop offset="0.750" stop-color="#0083ff"/><stop offset="0.812" stop-color="#0072ff"/><stop offset="0.875" stop-color="#0060ff"/><stop offset="0.938" stop-color="#0056ff"/><stop offset="1.000" stop-color="#004dff"/></linearGradient><linearGradient id="r160"><stop offset="0.000" stop-color="#3bffc4"/><stop offset="0.062" stop-color="#2dffd2"/><stop offset="0.125" stop-color="#1effe1"/><stop offset="0.188" stop-color="#11ffee"/><stop offset="0.250" stop-color="#05fffa"/><stop offset="0.312" stop-color="#00f7ff"/><stop offset="0.375" stop-color="#00e8ff"/><stop offset="0.438" stop-color="#00d9ff"/><stop offset="0.500" stop-color="#00caff"/><stop offset="0.562" stop-color="#00b9ff"/><stop offset="0.625" stop-color="#00a7ff"/><stop offset="0.688" stop-color="#0095ff"/><stop offset="0.750" stop-color="#0083ff"/><stop offset="0.812" stop-color="#0072ff"/><stop offset="0.875" stop-color="#0060ff"/><stop offset="0.938" stop-color="#0056ff"/><stop offset="1.000" stop-color="#004dff"/></linearGradient><linearGradient id="r161"><stop offset="0.000" stop-color="#3bffc4"/><stop offset="0.062" stop-color="#2dffd2"/><stop offset="0.125" stop-color="#1effe1"/><stop offset="0.188" stop-color="#11ffee"/><stop offset="0.250" stop-color="#05fffa"/><stop offset="0.312" stop-color="#00f7ff"/><stop offset="0.375" stop-color="#00e8ff"/><stop offset="0.438" stop-color="#00d9ff"/><stop offset="0.500" stop-color="#00caff"/><stop offset="0.562" stop-color="#00b8ff"/><stop offset="0.625" stop-color="#00a7ff"/><stop offset="0.688" stop-color="#0095ff"/><stop offset="0.750" stop-color="#0083ff"/><stop offset="0.812" stop-color="#0071ff"/><stop offset="0.875" stop-color="#0060ff"/><stop offset="0.938" stop-color="#0056ff"/><stop offset="1.000" stop-color="#004dff"/></linearGradient><linearGradient id="r162"><stop offset="0.000" stop-color="#3affc5"/><stop offset="0.062" stop-color="#2dffd2"/><stop offset="0.125" stop-color="#1effe1"/><stop offset="0.188" stop-color="#11ffee"/><stop offset="0.250" stop-color="#05fffa"/><stop offset="0.312" stop-color="#00f7ff"/><stop offset="0.375" stop-color="#00e8ff"/><stop offset="0.438" stop-color="#00d9ff"/><stop offset="0.500" stop-color="#00caff"/><stop offset="0.562" stop-color="#00b8ff"/><stop offset="0.625" stop-color="#00a6ff"/><stop offset="0.688" stop-color="#0095ff"/><stop offset="0.750" stop-color="#0083ff"/><stop offset="0.812" stop-color="#0071ff"/><stop offset="0.875" stop-color="#0060ff"/><stop offset="0.938" stop-color="#0056ff"/><stop offset="1.000" stop-color="#004dff"/></linearGradient><linearGradient id="r163"><stop offset="0.000" stop-color="#3affc5"/><stop offset="0.062" stop-color="#2cffd3"/><stop offset="0.125" stop-color="#1effe1"/><stop offset="0.188" stop-color="#11ffee"/><stop offset="0.250" stop-color="#04fffb"/><stop offset="0.312" stop-color="#00f7ff"/><stop offset="0.375" stop-color="#00e8ff"/><stop offset="0.438" stop-color="#00d9ff"/><stop offset="0.500" stop-color="#00caff"/><stop offset="0.562" stop-color="#00b8ff"/><stop offset="0.625" stop-color="#00a6ff"/><stop offset="0.688" stop-color="#0095ff"/><stop offset="0.750" stop-color="#0083ff"/><stop offset="0.812" stop-color="#0071ff"/><stop offset="0.875" stop-color="#0060ff"/><stop offset="0.938" stop-color="#0056ff"/><stop offset="1.000" stop-color="#004dff"/></linearGradient><linearGradient id="r164"><stop offset="0.000" stop-color="#3affc5"/><stop offset="0.062" stop-color="#2cffd3"/><stop offset="0.125" stop-color="#1dffe2"/><stop offset="0.188" stop-color="#11ffee"/><stop offset="0.250" stop-color="#04fffb"/><stop offset="0.312" stop-color="#00f7ff"/><stop offset="0.375" stop-color="#00e8ff"/><stop offset="0.438" stop-color="#00d9ff"/><stop offset="0.500" stop-color="#00c9ff"/><stop offset="0.562" stop-color="#00b8ff"/><stop offset="0.625" stop-color="#00a6ff"/><stop offset="0.688" stop-color="#0095ff"/><stop offset="0.750" stop-color="#0083ff"/><stop offset="0.812" stop-color="#0071ff"/><stop offset="0.875" stop-color="#0060ff"/><stop offset="0.938" stop-color="#0056ff"/><stop offset="1.000" stop-color="#004dff"/></linearGradient><linearGradient id="r165"><stop offset="0.000" stop-color="#3affc5"/><stop offset="0.062" stop-color="#2cffd3"/><stop offset="0.125" stop-color="#1dffe2"/><stop offset="0.188" stop-color="#10ffef"/><stop offset="0.250" stop-color="#04fffb"/><stop offset="0.312" stop-color="#00f7ff"/><stop offset="0.375" stop-color="#00e8ff"/><stop offset="0.438" stop-color="#00d8ff"/><stop offset="0.500" stop-color="#00c9ff"/><stop offset="0.562" stop-color="#00b8ff"/><stop offset="0.625" stop-color="#00a6ff"/><stop offset="0.688" stop-color="#0094ff"/><stop offset="0.750" stop-color="#0083ff"/><stop offset="0.812" stop-color="#0071ff"/><stop offset="0.875" stop-color="#0060ff"/><stop offset="0.938" stop-color="#0056ff"/><stop offset="1.000" stop-color="#004dff"/></linearGradient><linearGradient id="r166"><stop offset="0.000" stop-color="#39ffc6"/><stop offset="0.062" stop-color="#2cffd3"/><stop offset="0.125" stop-color="#1dffe2"/><stop offset="0.188" stop-color="#10ffef"/><stop offset="0.250" stop-color="#04fffb"/><stop offset="0.312" stop-color="#00f7ff"/><stop offset="0.375" stop-color="#00e7ff"/><stop offset="0.438" stop-color="#00d8ff"/><stop offset="0.500" stop-color="#00c9ff"/><stop offset="0.562" stop-color="#00b7ff"/><stop offset="0.625" stop-color="#00a6ff"/><stop offset="0.688" stop-color="#0094ff"/><stop offset="0.750" stop-color="#0083ff"/><stop offset="0.812" stop-color="#0071ff"/><stop offset="0.875" stop-color="#0060ff"/><stop offset="0.938" stop-color="#0056ff"/><stop offset="1.000" stop-color="#004dff"/></linearGradient><linearGradient id="r167"><stop offset="0.000" stop-color="#39ffc6"/><stop offset="0.062" stop-color="#2bffd4"/><stop offset="0.125" stop-color="#1dffe2"/><stop offset="0.188" stop-color="#10ffef"/><stop offset="0.250" stop-color="#04fffb"/><stop offset="0.312" stop-color="#00f6ff"/><stop offset="0.375" stop-color="#00e7ff"/><stop offset="0.438" stop-color="#00d8ff"/><stop offset="0.500" stop-color="#00c9ff"/><stop offset="0.562" stop-color="#00b7ff"/><stop offset="0.625" stop-color="#00a6ff"/><stop offset="0.688" stop-color="#0094ff"/><stop offset="0.750" stop-color="#0083ff"/><stop offset="0.812" stop-color="#0071ff"/><stop offset="0.875" stop-color="#0060ff"/><stop offset="0.938" stop-color="#0056ff"/><stop offset="1.000" stop-color="#004dff"/></linearGradient><linearGradient id="r168"><stop offset="0.000" stop-color="#39ffc6"/><stop offset="0.062" stop-color="#2bffd4"/><stop offset="0.125" stop-color="#1cffe3"/><stop offset="0.188" stop-color="#10ffef"/><stop offset="0.250" stop-color="#04fffb"/><stop offset="0.312" stop-color="#00f6ff"/><stop offset="0.375" stop-color="#00e7ff"/><stop offset="0.438" stop-color="#00d8ff"/><stop offset="0.500" stop-color="#00c8ff"/><stop offset="0.562" stop-color="#00b7ff"/><stop offset="0.625" stop-color="#00a6ff"/><stop offset="0.688" stop-color="#0094ff"/><stop offset="0.750" stop-color="#0083ff"/><stop offset="0.812" stop-color="#0071ff"/><stop offset="0.875" stop-color="#0060ff"/><stop offset="0.938" stop-color="#0056ff"/><stop offset="1.000" stop-color="#004dff"/></linearGradient><linearGradient id="r169"><stop offset="0.000" stop-color="#39ffc6"/><stop offset="0.062" stop-color="#2bffd4"/><stop offset="0.125" stop-color="#1cffe3"/><stop offset="0.188" stop-color="#10ffef"/><stop offset="0.250" stop-color="#03fffc"/><stop offset="0.312" stop-color="#00f6ff"/><stop offset="0.375" stop-color="#00e7ff"/><stop offset="0.438" stop-color="#00d8ff"/><stop offset="0.500" stop-color="#00c8ff"/><stop offset="0.562" stop-color="#00b7ff"/><stop offset="0.625" stop-color="#00a5ff"/><stop offset="0.688" stop-color="#0094ff"/><stop offset="0.750" stop-color="#0083ff"/><stop offset="0.812" stop-color="#0071ff"/><stop offset="0.875" stop-color="#0060ff"/><stop offset="0.938" stop-color="#0056ff"/><stop offset="1.000" stop-color="#004dff"/></linearGradient><linearGradient id="r170"><stop offset="0.000" stop-color="#38ffc7"/><stop offset="0.062" stop-color="#2bffd4"/><stop offset="0.125" stop-color="#1cffe3"/><stop offset="0.188" stop-color="#0ffff0"/><stop offset="0.250" stop-color="#03fffc"/><stop offset="0.312" stop-color="#00f6ff"/><stop offset="0.375" stop-color="#00e7ff"/><stop offset="0.438" stop-color="#00d7ff"/><stop offset="0.500" stop-color="#00c8ff"/><stop offset="0.562" stop-color="#00b7ff"/><stop offset="0.625" stop-color="#00a5ff"/><stop offset="0.688" stop-color="#0094ff"/><stop offset="0.750" stop-color="#0082ff"/><stop offset="0.812" stop-color="#0071ff"/><stop offset="0.875" stop-color="#0060ff"/><stop offset="0.938" stop-color="#0056ff"/><stop offset="1.000" stop-color="#004dff"/></linearGradient><linearGradient id="r171"><stop offset="0.000" stop-color="#38ffc7"/><stop offset="0.062" stop-color="#2bffd4"/><stop offset="0.125" stop-color="#1cffe3"/><stop offset="0.188" stop-color="#0ffff0"/><stop offset="0.250" stop-color="#03fffc"/><stop offset="0.312" stop-color="#00f6ff"/><stop offset="0.375" stop-color="#00e7ff"/><stop offset="0.438" stop-color="#00d7ff"/><stop offset="0.500" stop-color="#00c8ff"/><stop offset="0.562" stop-color="#00b6ff"/><stop offset="0.625" stop-color="#00a5ff"/><stop offset="0.688" stop-color="#0094ff"/><stop offset="0.750" stop-color="#0082ff"/><stop offset="0.812" stop-color="#0071ff"/><stop offset="0.875" stop-color="#0060ff"/><stop offset="0.938" stop-color="#0056ff"/><stop offset="1.000" stop-color="#004dff"/></linearGradient><linearGradient id="r172"><stop offset="0.000" stop-color="#38ffc7"/><stop offset="0.062" stop-color="#2affd5"/><stop offset="0.125" stop-color="#1cffe3"/><stop offset="0.188" stop-color="#0ffff0"/><stop offset="0.250" stop-color="#03fffc"/><stop offset="0.312" stop-color="#00f6ff"/><stop offset="0.375" stop-color="#00e7ff"/><stop offset="0.438" stop-color="#00d7ff"/><stop offset="0.500" stop-color="#00c7ff"/><stop offset="0.562" stop-color="#00b6ff"/><stop offset="0.625" stop-color="#00a5ff"/><stop offset="0.688" stop-color="#0094ff"/><stop offset="0.750" stop-color="#0082ff"/><stop offset="0.812" stop-color="#0071ff"/><stop offset="0.875" stop-color="#0060ff"/><stop offset="0.938" stop-color="#0056ff"/><stop offset="1.000" stop-color="#004dff"/></linearGradient><linearGradient id="gcb" x1="0" x2="0" y1="0" y2="1"><stop offset="0" stop-color="#800000"/><stop offset="0.125" stop-color="#ff0000"/><stop offset="0.375" stop-color="#ffff00"/><stop offset="0.625" stop-color="#00ffff"/><stop offset="0.875" stop-color="#0000ff"/><stop offset="1" stop-color="#000080"/></linearGradient></defs><rect width="1280" height="1187" fill="#fff"/><rect x="132" y="61.5" width="108.5" height="517.0" fill="#a30000"/><rect x="240.5" y="61.5" width="16.0" height="517.0" fill="#96ff78"/><rect x="269.5" y="61.5" width="16.0" height="517.0" fill="url(#gblue)"/><rect x="285.5" y="61.5" width="108.5" height="3.6" fill="url(#r0)"/><rect x="285.5" y="64.5" width="108.5" height="3.6" fill="url(#r1)"/><rect x="285.5" y="67.5" width="108.5" height="3.6" fill="url(#r2)"/><rect x="285.5" y="70.5" width="108.5" height="3.6" fill="url(#r3)"/><rect x="285.5" y="73.5" width="108.5" height="3.6" fill="url(#r4)"/><rect x="285.5" y="76.5" width="108.5" height="3.6" fill="url(#r5)"/><rect x="285.5" y="79.5" width="108.5" height="3.6" fill="url(#r6)"/><rect x="285.5" y="82.5" width="108.5" height="3.6" fill="url(#r7)"/><rect x="285.5" y="85.5" width="108.5" height="3.6" fill="url(#r8)"/><rect x="285.5" y="88.5" width="108.5" height="3.6" fill="url(#r9)"/><rect x="285.5" y="91.5" width="108.5" height="3.6" fill="url(#r10)"/><rect x="285.5" y="94.5" width="108.5" height="3.6" fill="url(#r11)"/><rect x="285.5" y="97.5" width="108.5" height="3.6" fill="url(#r12)"/><rect x="285.5" y="100.5" width="108.5" height="3.6" fill="url(#r13)"/><rect x="285.5" y="103.5" width="108.5" height="3.6" fill="url(#r14)"/><rect x="285.5" y="106.5" width="108.5" height="3.6" fill="url(#r15)"/><rect x="285.5" y="109.5" width="108.5" height="3.6" fill="url(#r16)"/><rect x="285.5" y="112.5" width="108.5" height="3.6" fill="url(#r17)"/><rect x="285.5" y="115.5" width="108.5" height="3.6" fill="url(#r18)"/><rect x="285.5" y="118.5" width="108.5" height="3.6" fill="url(#r19)"/><rect x="285.5" y="121.5" width="108.5" height="3.6" fill="url(#r20)"/><rect x="285.5" y="124.5" width="108.5" height="3.6" fill="url(#r21)"/><rect x="285.5" y="127.5" width="108.5" height="3.6" fill="url(#r22)"/><rect x="285.5" y="130.5" width="108.5" height="3.6" fill="url(#r23)"/><rect x="285.5" y="133.5" width="108.5" height="3.6" fill="url(#r24)"/><rect x="285.5" y="136.5" width="108.5" height="3.6" fill="url(#r25)"/><rect x="285.5" y="139.5" width="108.5" height="3.6" fill="url(#r26)"/><rect x="285.5" y="142.5" width="108.5" height="3.6" fill="url(#r27)"/><rect x="285.5" y="145.5" width="108.5" height="3.6" fill="url(#r28)"/><rect x="285.5" y="148.5" width="108.5" height="3.6" fill="url(#r29)"/><rect x="285.5" y="151.5" width="108.5" height="3.6" fill="url(#r30)"/><rect x="285.5" y="154.5" width="108.5" height="3.6" fill="url(#r31)"/><rect x="285.5" y="157.5" width="108.5" height="3.6" fill="url(#r32)"/><rect x="285.5" y="160.5" width="108.5" height="3.6" fill="url(#r33)"/><rect x="285.5" y="163.5" width="108.5" height="3.6" fill="url(#r34)"/><rect x="285.5" y="166.5" width="108.5" height="3.6" fill="url(#r35)"/><rect x="285.5" y="169.5" width="108.5" height="3.6" fill="url(#r36)"/><rect x="285.5" y="172.5" width="108.5" height="3.6" fill="url(#r37)"/><rect x="285.5" y="175.5" width="108.5" height="3.6" fill="url(#r38)"/><rect x="285.5" y="178.5" width="108.5" height="3.6" fill="url(#r39)"/><rect x="285.5" y="181.5" width="108.5" height="3.6" fill="url(#r40)"/><rect x="285.5" y="184.5" width="108.5" height="3.6" fill="url(#r41)"/><rect x="285.5" y="187.5" width="108.5" height="3.6" fill="url(#r42)"/><rect x="285.5" y="190.5" width="108.5" height="3.6" fill="url(#r43)"/><rect x="285.5" y="193.5" width="108.5" height="3.6" fill="url(#r44)"/><rect x="285.5" y="196.5" width="108.5" height="3.6" fill="url(#r45)"/><rect x="285.5" y="199.5" width="108.5" height="3.6" fill="url(#r46)"/><rect x="285.5" y="202.5" width="108.5" height="3.6" fill="url(#r47)"/><rect x="285.5" y="205.5" width="108.5" height="3.6" fill="url(#r48)"/><rect x="285.5" y="208.5" width="108.5" height="3.6" fill="url(#r49)"/><rect x="285.5" y="211.5" width="108.5" height="3.6" fill="url(#r50)"/><rect x="285.5" y="214.5" width="108.5" height="3.6" fill="url(#r51)"/><rect x="285.5" y="217.5" width="108.5" height="3.6" fill="url(#r52)"/><rect x="285.5" y="220.5" width="108.5" height="3.6" fill="url(#r53)"/><rect x="285.5" y="223.5" width="108.5" height="3.6" fill="url(#r54)"/><rect x="285.5" y="226.5" width="108.5" height="3.6" fill="url(#r55)"/><rect x="285.5" y="229.5" width="108.5" height="3.6" fill="url(#r56)"/><rect x="285.5" y="232.5" width="108.5" height="3.6" fill="url(#r57)"/><rect x="285.5" y="235.5" width="108.5" height="3.6" fill="url(#r58)"/><rect x="285.5" y="238.5" width="108.5" height="3.6" fill="url(#r59)"/><rect x="285.5" y="241.5" width="108.5" height="3.6" fill="url(#r60)"/><rect x="285.5" y="244.5" width="108.5" height="3.6" fill="url(#r61)"/><rect x="285.5" y="247.5" width="108.5" height="3.6" fill="url(#r62)"/><rect x="285.5" y="250.5" width="108.5" height="3.6" fill="url(#r63)"/><rect x="285.5" y="253.5" width="108.5" height="3.6" fill="url(#r64)"/><rect x="285.5" y="256.5" width="108.5" height="3.6" fill="url(#r65)"/><rect x="285.5" y="259.5" width="108.5" height="3.6" fill="url(#r66)"/><rect x="285.5" y="262.5" width="108.5" height="3.6" fill="url(#r67)"/><rect x="285.5" y="265.5" width="108.5" height="3.6" fill="url(#r68)"/><rect x="285.5" y="268.5" width="108.5" height="3.6" fill="url(#r69)"/><rect x="285.5" y="271.5" width="108.5" height="3.6" fill="url(#r70)"/><rect x="285.5" y="274.5" width="108.5" height="3.6" fill="url(#r71)"/><rect x="285.5" y="277.5" width="108.5" height="3.6" fill="url(#r72)"/><rect x="285.5" y="280.5" width="108.5" height="3.6" fill="url(#r73)"/><rect x="285.5" y="283.5" width="108.5" height="3.6" fill="url(#r74)"/><rect x="285.5" y="286.5" width="108.5" height="3.6" fill="url(#r75)"/><rect x="285.5" y="289.5" width="108.5" height="3.6" fill="url(#r76)"/><rect x="285.5" y="292.5" width="108.5" height="3.6" fill="url(#r77)"/><rect x="285.5" y="295.5" width="108.5" height="3.6" fill="url(#r78)"/><rect x="285.5" y="298.5" width="108.5" height="3.6" fill="url(#r79)"/><rect x="285.5" y="301.5" width="108.5" height="3.6" fill="url(#r80)"/><rect x="285.5" y="304.5" width="108.5" height="3.6" fill="url(#r81)"/><rect x="285.5" y="307.5" width="108.5" height="3.6" fill="url(#r82)"/><rect x="285.5" y="310.5" width="108.5" height="3.6" fill="url(#r83)"/><rect x="285.5" y="313.5" width="108.5" height="3.6" fill="url(#r84)"/><rect x="285.5" y="316.5" width="108.5" height="3.6" fill="url(#r85)"/><rect x="285.5" y="319.5" width="108.5" height="3.6" fill="url(#r86)"/><rect x="285.5" y="322.5" width="108.5" height="3.6" fill="url(#r87)"/><rect x="285.5" y="325.5" width="108.5" height="3.6" fill="url(#r88)"/><rect x="285.5" y="328.5" width="108.5" height="3.6" fill="url(#r89)"/><rect x="285.5" y="331.5" width="108.5" height="3.6" fill="url(#r90)"/><rect x="285.5" y="334.5" width="108.5" height="3.6" fill="url(#r91)"/><rect x="285.5" y="337.5" width="108.5" height="3.6" fill="url(#r92)"/><rect x="285.5" y="340.5" width="108.5" height="3.6" fill="url(#r93)"/><rect x="285.5" y="343.5" width="108.5" height="3.6" fill="url(#r94)"/><rect x="285.5" y="346.5" width="108.5" height="3.6" fill="url(#r95)"/><rect x="285.5" y="349.5" width="108.5" height="3.6" fill="url(#r96)"/><rect x="285.5" y="352.5" width="108.5" height="3.6" fill="url(#r97)"/><rect x="285.5" y="355.5" width="108.5" height="3.6" fill="url(#r98)"/><rect x="285.5" y="358.5" width="108.5" height="3.6" fill="url(#r99)"/><rect x="285.5" y="361.5" width="108.5" height="3.6" fill="url(#r100)"/><rect x="285.5" y="364.5" width="108.5" height="3.6" fill="url(#r101)"/><rect x="285.5" y="367.5" width="108.5" height="3.6" fill="url(#r102)"/><rect x="285.5" y="370.5" width="108.5" height="3.6" fill="url(#r103)"/><rect x="285.5" y="373.5" width="108.5" height="3.6" fill="url(#r104)"/><rect x="285.5" y="376.5" width="108.5" height="3.6" fill="url(#r105)"/><rect x="285.5" y="379.5" width="108.5" height="3.6" fill="url(#r106)"/><rect x="285.5" y="382.5" width="108.5" height="3.6" fill="url(#r107)"/><rect x="285.5" y="385.5" width="108.5" height="3.6" fill="url(#r108)"/><rect x="285.5" y="388.5" width="108.5" height="3.6" fill="url(#r109)"/><rect x="285.5" y="391.5" width="108.5" height="3.6" fill="url(#r110)"/><rect x="285.5" y="394.5" width="108.5" height="3.6" fill="url(#r111)"/><rect x="285.5" y="397.5" width="108.5" height="3.6" fill="url(#r112)"/><rect x="285.5" y="400.5" width="108.5" height="3.6" fill="url(#r113)"/><rect x="285.5" y="403.5" width="108.5" height="3.6" fill="url(#r114)"/><rect x="285.5" y="406.5" width="108.5" height="3.6" fill="url(#r115)"/><rect x="285.5" y="409.5" width="108.5" height="3.6" fill="url(#r116)"/><rect x="285.5" y="412.5" width="108.5" height="3.6" fill="url(#r117)"/><rect x="285.5" y="415.5" width="108.5" height="3.6" fill="url(#r118)"/><rect x="285.5" y="418.5" width="108.5" height="3.6" fill="url(#r119)"/><rect x="285.5" y="421.5" width="108.5" height="3.6" fill="url(#r120)"/><rect x="285.5" y="424.5" width="108.5" height="3.6" fill="url(#r121)"/><rect x="285.5" y="427.5" width="108.5" height="3.6" fill="url(#r122)"/><rect x="285.5" y="430.5" width="108.5" height="3.6" fill="url(#r123)"/><rect x="285.5" y="433.5" width="108.5" height="3.6" fill="url(#r124)"/><rect x="285.5" y="436.5" width="108.5" height="3.6" fill="url(#r125)"/><rect x="285.5" y="439.5" width="108.5" height="3.6" fill="url(#r126)"/><rect x="285.5" y="442.5" width="108.5" height="3.6" fill="url(#r127)"/><rect x="285.5" y="445.5" width="108.5" height="3.6" fill="url(#r128)"/><rect x="285.5" y="448.5" width="108.5" height="3.6" fill="url(#r129)"/><rect x="285.5" y="451.5" width="108.5" height="3.6" fill="url(#r130)"/><rect x="285.5" y="454.5" width="108.5" height="3.6" fill="url(#r131)"/><rect x="285.5" y="457.5" width="108.5" height="3.6" fill="url(#r132)"/><rect x="285.5" y="460.5" width="108.5" height="3.6" fill="url(#r133)"/><rect x="285.5" y="463.5" width="108.5" height="3.6" fill="url(#r134)"/><rect x="285.5" y="466.5" width="108.5" height="3.6" fill="url(#r135)"/><rect x="285.5" y="469.5" width="108.5" height="3.6" fill="url(#r136)"/><rect x="285.5" y="472.5" width="108.5" height="3.6" fill="url(#r137)"/><rect x="285.5" y="475.5" width="108.5" height="3.6" fill="url(#r138)"/><rect x="285.5" y="478.5" width="108.5" height="3.6" fill="url(#r139)"/><rect x="285.5" y="481.5" width="108.5" height="3.6" fill="url(#r140)"/><rect x="285.5" y="484.5" width="108.5" height="3.6" fill="url(#r141)"/><rect x="285.5" y="487.5" width="108.5" height="3.6" fill="url(#r142)"/><rect x="285.5" y="490.5" width="108.5" height="3.6" fill="url(#r143)"/><rect x="285.5" y="493.5" width="108.5" height="3.6" fill="url(#r144)"/><rect x="285.5" y="496.5" width="108.5" height="3.6" fill="url(#r145)"/><rect x="285.5" y="499.5" width="108.5" height="3.6" fill="url(#r146)"/><rect x="285.5" y="502.5" width="108.5" height="3.6" fill="url(#r147)"/><rect x="285.5" y="505.5" width="108.5" height="3.6" fill="url(#r148)"/><rect x="285.5" y="508.5" width="108.5" height="3.6" fill="url(#r149)"/><rect x="285.5" y="511.5" width="108.5" height="3.6" fill="url(#r150)"/><rect x="285.5" y="514.5" width="108.5" height="3.6" fill="url(#r151)"/><rect x="285.5" y="517.5" width="108.5" height="3.6" fill="url(#r152)"/><rect x="285.5" y="520.5" width="108.5" height="3.6" fill="url(#r153)"/><rect x="285.5" y="523.5" width="108.5" height="3.6" fill="url(#r154)"/><rect x="285.5" y="526.5" width="108.5" height="3.6" fill="url(#r155)"/><rect x="285.5" y="529.5" width="108.5" height="3.6" fill="url(#r156)"/><rect x="285.5" y="532.5" width="108.5" height="3.6" fill="url(#r157)"/><rect x="285.5" y="535.5" width="108.5" height="3.6" fill="url(#r158)"/><rect x="285.5" y="538.5" width="108.5" height="3.6" fill="url(#r159)"/><rect x="285.5" y="541.5" width="108.5" height="3.6" fill="url(#r160)"/><rect x="285.5" y="544.5" width="108.5" height="3.6" fill="url(#r161)"/><rect x="285.5" y="547.5" width="108.5" height="3.6" fill="url(#r162)"/><rect x="285.5" y="550.5" width="108.5" height="3.6" fill="url(#r163)"/><rect x="285.5" y="553.5" width="108.5" height="3.6" fill="url(#r164)"/><rect x="285.5" y="556.5" width="108.5" height="3.6" fill="url(#r165)"/><rect x="285.5" y="559.5" width="108.5" height="3.6" fill="url(#r166)"/><rect x="285.5" y="562.5" width="108.5" height="3.6" fill="url(#r167)"/><rect x="285.5" y="565.5" width="108.5" height="3.6" fill="url(#r168)"/><rect x="285.5" y="568.5" width="108.5" height="3.6" fill="url(#r169)"/><rect x="285.5" y="571.5" width="108.5" height="3.6" fill="url(#r170)"/><rect x="285.5" y="574.5" width="108.5" height="3.6" fill="url(#r171)"/><rect x="285.5" y="577.5" width="108.5" height="1.6" fill="url(#r172)"/><line x1="132" y1="61.5" x2="132" y2="578.5" stroke="#2a2a2a" stroke-width="1.6"/><line x1="240.5" y1="61.5" x2="240.5" y2="578.5" stroke="#2a2a2a" stroke-width="1.6"/><line x1="256.5" y1="61.5" x2="256.5" y2="578.5" stroke="#2a2a2a" stroke-width="1.6"/><line x1="269.5" y1="61.5" x2="269.5" y2="578.5" stroke="#2a2a2a" stroke-width="1.6"/><line x1="285.5" y1="61.5" x2="285.5" y2="578.5" stroke="#2a2a2a" stroke-width="1.6"/><line x1="394" y1="61.5" x2="394" y2="578.5" stroke="#2a2a2a" stroke-width="1.6"/><line x1="64.5" y1="61.5" x2="469.0" y2="61.5" stroke="#484848" stroke-width="2"/><line x1="64.5" y1="578.5" x2="132" y2="578.5" stroke="#7c7c7c" stroke-width="2.6"/><line x1="394" y1="578.5" x2="469.0" y2="578.5" stroke="#7c7c7c" stroke-width="2.6"/><line x1="132" y1="578.5" x2="394" y2="578.5" stroke="#2a2a2a" stroke-width="1.8"/><line x1="64.5" y1="319.5" x2="132" y2="319.5" stroke="#666" stroke-width="2.6"/><line x1="394" y1="319.5" x2="469.0" y2="319.5" stroke="#666" stroke-width="2.6"/><rect x="64.5" y="3.0" width="404.5" height="628.5" fill="none" stroke="#484848" stroke-width="2.2"/><path d="M64.5 9.8h8.5M469.0 9.8h-8.5M64.5 61.5h8.5M469.0 61.5h-8.5M64.5 113.2h8.5M469.0 113.2h-8.5M64.5 164.9h8.5M469.0 164.9h-8.5M64.5 216.6h8.5M469.0 216.6h-8.5M64.5 268.3h8.5M469.0 268.3h-8.5M64.5 320h8.5M469.0 320h-8.5M64.5 371.7h8.5M469.0 371.7h-8.5M64.5 423.4h8.5M469.0 423.4h-8.5M64.5 475.1h8.5M469.0 475.1h-8.5M64.5 526.8h8.5M469.0 526.8h-8.5M64.5 578.5h8.5M469.0 578.5h-8.5M64.5 630.2h8.5M469.0 630.2h-8.5M153.3 3.0v9M153.3 631.5v-9M256.0 3.0v9M256.0 631.5v-9M359.7 3.0v9M359.7 631.5v-9M463.5 3.0v9M463.5 631.5v-9" stroke="#484848" stroke-width="2" fill="none"/><text transform="translate(0.49,68.18) scale(1.0172,1)" style="font-family:'Liberation Serif','Times New Roman',serif;font-size:37.22px" fill="#1a1a1a">(a)</text><text transform="translate(148.12,54.55) scale(0.9686,1)" style="font-family:'Liberation Sans',Arial,sans-serif;font-style:italic;font-size:25.14px" fill="#1a1a1a" stroke="#1a1a1a" stroke-width="0.45">Anode</text><text transform="translate(266.50,55.03) scale(0.9391,1)" style="font-family:'Liberation Sans',Arial,sans-serif;font-style:italic;font-size:26.62px" fill="#1a1a1a" stroke="#1a1a1a" stroke-width="0.45">Cathode</text><text transform="translate(104.65,296.64) rotate(-90) scale(0.9640,1)" style="font-family:'Liberation Sans',Arial,sans-serif;font-size:25.14px" fill="#1a1a1a" stroke="#1a1a1a" stroke-width="0.5">Land</text><text transform="translate(105.33,511.20) rotate(-90) scale(0.8978,1)" style="font-family:'Liberation Sans',Arial,sans-serif;font-size:26.62px" fill="#1a1a1a" stroke="#1a1a1a" stroke-width="0.5">Channe</text><text transform="translate(442.34,290.91) rotate(-90) scale(0.9355,1)" style="font-family:'Liberation Sans',Arial,sans-serif;font-size:25.54px" fill="#1a1a1a" stroke="#1a1a1a" stroke-width="0.5">Land</text><text transform="translate(442.54,512.92) rotate(-90) scale(0.9466,1)" style="font-family:'Liberation Sans',Arial,sans-serif;font-size:25.81px" fill="#1a1a1a" stroke="#1a1a1a" stroke-width="0.5">Channel</text><rect x="491.1" y="86.8" width="25.100000000000023" height="533.7" fill="url(#gcb)" stroke="#1a1a1a" stroke-width="1.6"/><path d="M491.1 567.1h4M516.2 567.1h-4M491.1 513.8h4M516.2 513.8h-4M491.1 460.4h4M516.2 460.4h-4M491.1 407h4M516.2 407h-4M491.1 353.6h4M516.2 353.6h-4M491.1 300.3h4M516.2 300.3h-4M491.1 246.9h4M516.2 246.9h-4M491.1 193.5h4M516.2 193.5h-4M491.1 140.2h4M516.2 140.2h-4" stroke="#222" stroke-width="1.6" fill="none"/><text transform="translate(526.08,95.00) scale(1.2731,1)" style="font-family:'Liberation Serif','Times New Roman',serif;font-size:29.85px" fill="#222">1</text><text transform="translate(528.30,630.60) scale(1.0900,1)" text-anchor="start" style="font-family:'Liberation Sans',Arial,sans-serif;font-size:28.20px" fill="#484848">0</text><text transform="translate(528.30,577.23) scale(1.0900,1)" text-anchor="start" style="font-family:'Liberation Sans',Arial,sans-serif;font-size:28.20px" fill="#484848">0.1</text><text transform="translate(528.30,523.86) scale(1.0900,1)" text-anchor="start" style="font-family:'Liberation Sans',Arial,sans-serif;font-size:28.20px" fill="#484848">0.2</text><text transform="translate(528.30,470.49) scale(1.0900,1)" text-anchor="start" style="font-family:'Liberation Sans',Arial,sans-serif;font-size:28.20px" fill="#484848">0.3</text><text transform="translate(528.30,417.12) scale(1.0900,1)" text-anchor="start" style="font-family:'Liberation Sans',Arial,sans-serif;font-size:28.20px" fill="#484848">0.4</text><text transform="translate(528.30,363.75) scale(1.0900,1)" text-anchor="start" style="font-family:'Liberation Sans',Arial,sans-serif;font-size:28.20px" fill="#484848">0.5</text><text transform="translate(528.30,310.38) scale(1.0900,1)" text-anchor="start" style="font-family:'Liberation Sans',Arial,sans-serif;font-size:28.20px" fill="#484848">0.6</text><text transform="translate(528.30,257.01) scale(1.0900,1)" text-anchor="start" style="font-family:'Liberation Sans',Arial,sans-serif;font-size:28.20px" fill="#484848">0.7</text><text transform="translate(528.30,203.64) scale(1.0900,1)" text-anchor="start" style="font-family:'Liberation Sans',Arial,sans-serif;font-size:28.20px" fill="#484848">0.8</text><text transform="translate(528.30,150.27) scale(1.0900,1)" text-anchor="start" style="font-family:'Liberation Sans',Arial,sans-serif;font-size:28.20px" fill="#484848">0.9</text><text transform="translate(502.53,44.34) scale(1.0901,1)" style="font-family:'Liberation Serif','Times New Roman',serif;font-style:italic;font-size:43.13px" fill="#111">S</text><text transform="translate(527.23,54.70) scale(0.9494,1)" style="font-family:'Liberation Serif','Times New Roman',serif;font-style:italic;font-size:24.31px" fill="#111">L</text><path d="M785.5 325.7L785.5 80.7M857.5 309.8L857.5 64.8M929.5 294L929.5 49M1001.5 278.1L1001.5 33.1M1073.5 262.3L1073.5 17.3M713.5 341.5L1073.5 262.3M713.5 280.2L1073.5 201.1M713.5 219L1073.5 139.8M713.5 157.8L1073.5 78.6M713.5 96.5L1073.5 17.3M1128.1 321L1128.1 76M1182.7 379.8L1182.7 134.8M1237.3 438.5L1237.3 193.5M1073.5 262.3L1237.3 438.5M1073.5 201.1L1237.3 377.2M1073.5 139.8L1237.3 316M1073.5 78.6L1237.3 254.8M1073.5 17.3L1237.3 193.5M785.5 325.7L949.3 501.9M857.5 309.8L1021.3 486M929.5 294L1093.3 470.2M1001.5 278.1L1165.3 454.3M768.1 400.2L1128.1 321M822.7 459L1182.7 379.8" stroke="#c2c2c2" stroke-width="1.2" stroke-dasharray="2.5 1.5" fill="none"/><polygon points="908.2,128.6 1086.3,92.7 1126.2,138 948,187.2" fill="#ff8f00"/><polygon points="818.9,136.1 908.2,128.6 948,187.2 857,185.7" fill="#ff5200"/><polygon points="782.5,138.8 818.9,136.1 857,185.7 822,184.8" fill="#ff2a00"/><polygon points="763.8,137.8 782.5,138.8 822,184.8 806,182.3" fill="#f00000"/><polygon points="744.5,119.6 763.8,137.8 806,182.3 786.3,178.8" fill="#a80000"/><polygon points="948,187.2 1126.2,138 1154.3,190.7 975,229.4" fill="#ffff00"/><polygon points="857,185.7 948,187.2 975,229.4 885.5,223" fill="#ff7a00"/><polygon points="822,184.8 857,185.7 885.5,223 847.8,218" fill="#ff4000"/><polygon points="806,182.3 822,184.8 847.8,218 830.5,210.8" fill="#f20000"/><polygon points="786.3,178.8 806,182.3 830.5,210.8 812.8,209" fill="#d40000"/><polygon points="975,229.4 1154.3,190.7 1181.2,305.5 1003.4,345" fill="#b2ff50"/><polygon points="885.5,223 975,229.4 1003.4,345 916.9,364.7" fill="#ffa500"/><polygon points="847.8,218 885.5,223 916.9,364.7 896.1,344 881.2,324.7" fill="#ff5a00"/><polygon points="830.5,210.8 847.8,218 881.2,324.7 857,279" fill="#f40000"/><polygon points="812.8,209 830.5,210.8 857,279 840.8,280.2" fill="#e40000"/><polygon points="1003.4,345 1181.2,305.5 1237,362.4 1054.8,402.7" fill="#000090"/><polygon points="916.9,364.7 1003.4,345 1054.8,402.7 964.7,423.1" fill="#000090"/><polygon points="896.1,344 916.9,364.7 964.7,423.1 930.1,431" fill="#00e8ff"/><polygon points="840.8,280.2 857,279 881.2,324.7" fill="#ffff00"/><polygon points="840.8,280.2 881.2,324.7 896.1,344 930.1,431 917,408.6 899,376 885,343 872,327 857,307" fill="#ffff00"/><path d="M744.5 119.6L763.8 137.8L782.5 138.8L818.9 136.1L908.2 128.6L1086.3 92.7M786.3 178.8L806 182.3L822 184.8L857 185.7L948 187.2L1126.2 138M812.8 209L830.5 210.8L847.8 218L885.5 223L975 229.4L1154.3 190.7M840.8 280.2L857 279L896.1 344L916.9 364.7L1003.4 345L1181.2 305.5M930.1 431L964.7 423.1L1054.8 402.7L1237 362.4M744.5 119.6L786.3 178.8L812.8 209L840.8 280.2L881.2 324.7L896.1 344L930.1 431M744.5 119.6L763.8 137.8M763.8 137.8L806 182.3L830.5 210.8L857 279L881.2 324.7M782.5 138.8L822 184.8L847.8 218L881.2 324.7M818.9 136.1L857 185.7L885.5 223L916.9 364.7L964.7 423.1M908.2 128.6L948 187.2L975 229.4L1003.4 345L1054.8 402.7M1086.3 92.7L1126.2 138L1154.3 190.7L1181.2 305.5L1237 362.4M896.1 344L930.1 431" stroke="#151008" stroke-width="2.3" fill="none" stroke-linejoin="round"/><path d="M713.5 341.5L713.5 96.5M713.5 341.5L877.3 517.7M877.3 517.7L1237.3 438.5M713.5 341.5l-6.6 -6.2M713.5 280.2l-6.6 -6.2M713.5 219l-6.6 -6.2M713.5 157.8l-6.6 -6.2M713.5 96.5l-6.6 -6.2M713.5 341.5l-9.6 2.4M768.1 400.2l-9.6 2.4M822.7 459l-9.6 2.4M877.3 517.7l-9.6 2.4M877.3 517.7l6 6.5M949.3 501.9l6 6.5M1021.3 486l6 6.5M1093.3 470.2l6 6.5M1165.3 454.3l6 6.5M1237.3 438.5l6 6.5" stroke="#3c3c3c" stroke-width="2.4" fill="none"/><text transform="translate(703.00,340.90) scale(1.0000,1)" text-anchor="end" style="font-family:'Liberation Sans',Arial,sans-serif;font-size:28.20px" fill="#222">0</text><text transform="translate(703.00,279.32) scale(1.0000,1)" text-anchor="end" style="font-family:'Liberation Sans',Arial,sans-serif;font-size:28.20px" fill="#222">0.25</text><text transform="translate(703.00,217.75) scale(1.0000,1)" text-anchor="end" style="font-family:'Liberation Sans',Arial,sans-serif;font-size:28.20px" fill="#222">0.5</text><text transform="translate(703.00,156.17) scale(1.0000,1)" text-anchor="end" style="font-family:'Liberation Sans',Arial,sans-serif;font-size:28.20px" fill="#222">0.75</text><text transform="translate(703.00,94.60) scale(1.0000,1)" text-anchor="end" style="font-family:'Liberation Sans',Arial,sans-serif;font-size:28.20px" fill="#222">1</text><text transform="translate(682.00,371.80) scale(1.0400,1)" text-anchor="middle" style="font-family:'Liberation Sans',Arial,sans-serif;font-size:27.50px" fill="#222">20</text><text transform="translate(736.20,430.40) scale(1.0400,1)" text-anchor="middle" style="font-family:'Liberation Sans',Arial,sans-serif;font-size:27.50px" fill="#222">40</text><text transform="translate(791.00,488.60) scale(1.0400,1)" text-anchor="middle" style="font-family:'Liberation Sans',Arial,sans-serif;font-size:27.50px" fill="#222">60</text><text transform="translate(846.20,546.80) scale(1.0400,1)" text-anchor="middle" style="font-family:'Liberation Sans',Arial,sans-serif;font-size:27.50px" fill="#222">80</text><text transform="translate(895.80,554.80) scale(1.0400,1)" text-anchor="middle" style="font-family:'Liberation Sans',Arial,sans-serif;font-size:27.50px" fill="#222">0</text><text transform="translate(966.90,539.30) scale(1.0400,1)" text-anchor="middle" style="font-family:'Liberation Sans',Arial,sans-serif;font-size:27.50px" fill="#222">2</text><text transform="translate(1039.50,522.80) scale(1.0400,1)" text-anchor="middle" style="font-family:'Liberation Sans',Arial,sans-serif;font-size:27.50px" fill="#222">4</text><text transform="translate(1111.20,507.00) scale(1.0400,1)" text-anchor="middle" style="font-family:'Liberation Sans',Arial,sans-serif;font-size:27.50px" fill="#222">6</text><text transform="translate(1183.10,492.30) scale(1.0400,1)" text-anchor="middle" style="font-family:'Liberation Sans',Arial,sans-serif;font-size:27.50px" fill="#222">8</text><text transform="translate(1264.10,475.80) scale(1.0400,1)" text-anchor="middle" style="font-family:'Liberation Sans',Arial,sans-serif;font-size:27.50px" fill="#222">10</text><text transform="translate(609.71,71.62) scale(0.9795,1)" style="font-family:'Liberation Serif','Times New Roman',serif;font-size:38.00px" fill="#1a1a1a">(b)</text><text transform="translate(632.76,300.09) rotate(-90) scale(1.0156,1)" style="font-family:'Liberation Sans',Arial,sans-serif;font-size:27.34px" fill="#222">Saturation [-]</text><text transform="translate(729.8,477.7) rotate(47.09)" text-anchor="middle" dy="9.3" style="font-family:'Liberation Sans',Arial,sans-serif;font-size:27.9px" fill="#222">Temperature [<tspan style="font-size:36px">°</tspan>C]</text><text transform="translate(1101.3,556.4) rotate(-10.5)" text-anchor="middle" style="font-family:'Liberation Sans',Arial,sans-serif;font-size:27.5px" fill="#222">Thickness [µm]</text><rect x="457.6" y="719.0" width="390.3" height="392.4" fill="none" stroke="#2e2e2e" stroke-width="2.1"/><path d="M457.6 719h5M847.9 719h-5M457.6 784.4h5M847.9 784.4h-5M457.6 849.8h5M847.9 849.8h-5M457.6 915.2h5M847.9 915.2h-5M457.6 980.6h5M847.9 980.6h-5M457.6 1046h5M847.9 1046h-5M457.6 1111.4h5M847.9 1111.4h-5M457.6 719.0v5M457.6 1111.4v-5M535.7 719.0v5M535.7 1111.4v-5M613.7 719.0v5M613.7 1111.4v-5M691.8 719.0v5M691.8 1111.4v-5M769.8 719.0v5M769.8 1111.4v-5M847.9 719.0v5M847.9 1111.4v-5" stroke="#2e2e2e" stroke-width="2" fill="none"/><polyline points="477.1,1111.4 496.6,993.7 516.1,980.6 555.2,876 652.8,797.5 847.9,793.6" fill="none" stroke="#2020e6" stroke-width="2.4"/><circle cx="477.1" cy="1111.4" r="6.6" fill="none" stroke="#2020e6" stroke-width="1.8"/><circle cx="496.6" cy="993.7" r="6.6" fill="none" stroke="#2020e6" stroke-width="1.8"/><circle cx="516.1" cy="980.6" r="6.6" fill="none" stroke="#2020e6" stroke-width="1.8"/><circle cx="555.2" cy="876" r="6.6" fill="none" stroke="#2020e6" stroke-width="1.8"/><circle cx="652.8" cy="797.5" r="6.6" fill="none" stroke="#2020e6" stroke-width="1.8"/><circle cx="847.9" cy="793.6" r="6.6" fill="none" stroke="#2020e6" stroke-width="1.8"/><text transform="translate(451.00,729.30) scale(1.0000,1)" text-anchor="end" style="font-family:'Liberation Sans',Arial,sans-serif;font-size:29.00px" fill="#222">0</text><text transform="translate(451.00,794.70) scale(1.0000,1)" text-anchor="end" style="font-family:'Liberation Sans',Arial,sans-serif;font-size:29.00px" fill="#222">-0.5</text><text transform="translate(451.00,860.10) scale(1.0000,1)" text-anchor="end" style="font-family:'Liberation Sans',Arial,sans-serif;font-size:29.00px" fill="#222">-1</text><text transform="translate(451.00,925.50) scale(1.0000,1)" text-anchor="end" style="font-family:'Liberation Sans',Arial,sans-serif;font-size:29.00px" fill="#222">-1.5</text><text transform="translate(451.00,990.90) scale(1.0000,1)" text-anchor="end" style="font-family:'Liberation Sans',Arial,sans-serif;font-size:29.00px" fill="#222">-2</text><text transform="translate(451.00,1056.30) scale(1.0000,1)" text-anchor="end" style="font-family:'Liberation Sans',Arial,sans-serif;font-size:29.00px" fill="#222">-2.5</text><text transform="translate(451.00,1121.70) scale(1.0000,1)" text-anchor="end" style="font-family:'Liberation Sans',Arial,sans-serif;font-size:29.00px" fill="#222">-3</text><text transform="translate(457.60,1144.20) scale(1.0300,1)" text-anchor="middle" style="font-family:'Liberation Sans',Arial,sans-serif;font-size:28.00px" fill="#222">0</text><text transform="translate(535.66,1144.20) scale(1.0300,1)" text-anchor="middle" style="font-family:'Liberation Sans',Arial,sans-serif;font-size:28.00px" fill="#222">2</text><text transform="translate(613.72,1144.20) scale(1.0300,1)" text-anchor="middle" style="font-family:'Liberation Sans',Arial,sans-serif;font-size:28.00px" fill="#222">4</text><text transform="translate(691.78,1144.20) scale(1.0300,1)" text-anchor="middle" style="font-family:'Liberation Sans',Arial,sans-serif;font-size:28.00px" fill="#222">6</text><text transform="translate(769.84,1144.20) scale(1.0300,1)" text-anchor="middle" style="font-family:'Liberation Sans',Arial,sans-serif;font-size:28.00px" fill="#222">8</text><text transform="translate(847.90,1144.20) scale(1.0300,1)" text-anchor="middle" style="font-family:'Liberation Sans',Arial,sans-serif;font-size:28.00px" fill="#222">10</text><text transform="translate(556.73,1177.37) scale(1.0652,1)" style="font-family:'Liberation Sans',Arial,sans-serif;font-size:26.81px" fill="#222">Thickness [µm]</text><text transform="translate(384.92,941.04) rotate(-90) scale(1.0065,1)" style="font-family:'Liberation Sans',Arial,sans-serif;font-size:28.94px" fill="#222">β [-]</text><text transform="translate(371.13,718.21) scale(1.0572,1)" style="font-family:'Liberation Sans',Arial,sans-serif;font-size:29.47px" fill="#333">(c)</text><text transform="translate(457.11,708.90) scale(0.9620,1)" style="font-family:'Liberation Sans',Arial,sans-serif;font-size:30.00px" fill="#222">x 10</text><text transform="translate(510.38,690.90) scale(1.0169,1)" style="font-family:'Liberation Sans',Arial,sans-serif;font-size:20.28px" fill="#222">-3</text></svg></body></html>
